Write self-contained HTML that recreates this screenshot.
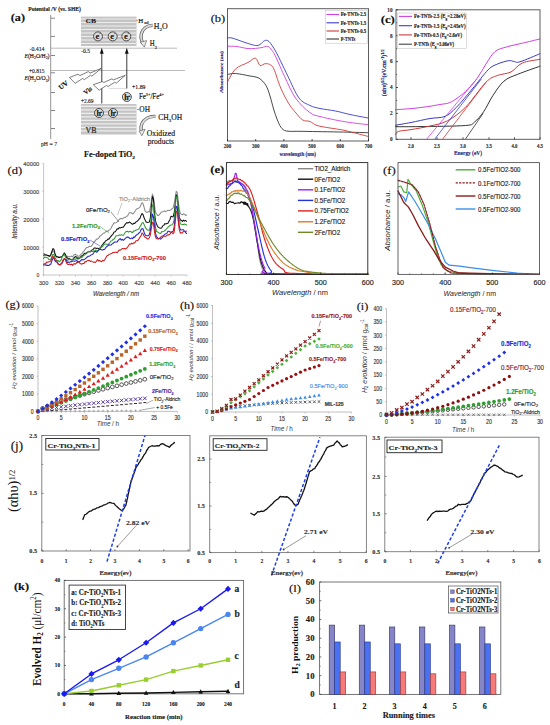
<!DOCTYPE html>
<html><head><meta charset="utf-8"><style>
html,body{margin:0;padding:0;background:#fff;width:550px;height:725px;overflow:hidden}
svg{display:block}
</style></head><body>
<svg width="550" height="725" viewBox="0 0 550 725">
<rect width="550" height="725" fill="#fff"/>
<text x="28.20" y="10.60" font-family='"Liberation Serif", serif' font-size="5.6" font-weight="bold" font-style="normal" fill="#222" stroke="#222" stroke-width="0.15" text-anchor="start"  textLength="52.8" lengthAdjust="spacingAndGlyphs">Potential /V (vs. SHE)</text>
<text x="10.80" y="21.10" font-family='"Liberation Serif", serif' font-size="11.3" font-weight="bold" font-style="normal" fill="#111" stroke="#111" stroke-width="0.15" text-anchor="start"  textLength="14.2" lengthAdjust="spacingAndGlyphs">(a)</text>
<line x1="50.70" y1="15.00" x2="50.70" y2="139.00" stroke="#777" stroke-width="0.8" />
<line x1="51.00" y1="18.20" x2="55.00" y2="18.20" stroke="#666" stroke-width="0.8" />
<line x1="51.00" y1="36.40" x2="55.00" y2="36.40" stroke="#666" stroke-width="0.8" />
<line x1="51.00" y1="55.50" x2="55.00" y2="55.50" stroke="#666" stroke-width="0.8" />
<line x1="51.00" y1="72.80" x2="55.00" y2="72.80" stroke="#666" stroke-width="0.8" />
<line x1="51.00" y1="92.50" x2="55.00" y2="92.50" stroke="#666" stroke-width="0.8" />
<line x1="51.00" y1="110.50" x2="55.00" y2="110.50" stroke="#666" stroke-width="0.8" />
<line x1="51.00" y1="128.50" x2="55.00" y2="128.50" stroke="#666" stroke-width="0.8" />
<line x1="51.00" y1="48.20" x2="177.00" y2="48.20" stroke="#aaa" stroke-width="0.8" />
<line x1="51.00" y1="70.50" x2="185.00" y2="70.50" stroke="#aaa" stroke-width="0.8" />
<line x1="108.80" y1="88.40" x2="127.00" y2="88.40" stroke="#ccc" stroke-width="0.7" />
<text x="29.50" y="50.80" font-family='"Liberation Serif", serif' font-size="6" font-weight="normal" font-style="normal" fill="#222" stroke="#222" stroke-width="0.15" text-anchor="start"  textLength="15" lengthAdjust="spacingAndGlyphs">-0.414</text>
<text x="24.5" y="57.9" font-family='"Liberation Serif", serif' font-size="6" fill="#111" stroke="#111" stroke-width="0.15" textLength="25" lengthAdjust="spacingAndGlyphs"><tspan font-style="italic">E</tspan>(H<tspan font-size="4" dy="1.5">2</tspan><tspan dy="-1.5">O/H</tspan><tspan font-size="4" dy="1.5">2</tspan><tspan dy="-1.5">)</tspan></text>
<text x="29.00" y="72.90" font-family='"Liberation Serif", serif' font-size="6" font-weight="normal" font-style="normal" fill="#222" stroke="#222" stroke-width="0.15" text-anchor="start"  textLength="15.5" lengthAdjust="spacingAndGlyphs">+0.815</text>
<text x="24.5" y="80" font-family='"Liberation Serif", serif' font-size="6" fill="#111" stroke="#111" stroke-width="0.15" textLength="25" lengthAdjust="spacingAndGlyphs"><tspan font-style="italic">E</tspan>(H<tspan font-size="4" dy="1.5">2</tspan><tspan dy="-1.5">O/O</tspan><tspan font-size="4" dy="1.5">2</tspan><tspan dy="-1.5">)</tspan></text>
<text x="41.00" y="145.50" font-family='"Liberation Serif", serif' font-size="5.2" font-weight="normal" font-style="normal" fill="#333" stroke="#333" stroke-width="0.15" text-anchor="start"  textLength="16" lengthAdjust="spacingAndGlyphs">pH = 7</text>
<rect x="81.00" y="16.60" width="55.50" height="29.50" fill="#c4c4c4" stroke="none" stroke-width="1" />
<line x1="81.00" y1="19.00" x2="136.50" y2="19.00" stroke="#ededed" stroke-width="1.2" />
<line x1="81.00" y1="22.50" x2="136.50" y2="22.50" stroke="#ededed" stroke-width="1.2" />
<line x1="81.00" y1="26.00" x2="136.50" y2="26.00" stroke="#ededed" stroke-width="1.2" />
<line x1="81.00" y1="29.50" x2="136.50" y2="29.50" stroke="#ededed" stroke-width="1.2" />
<line x1="81.00" y1="33.00" x2="136.50" y2="33.00" stroke="#ededed" stroke-width="1.2" />
<line x1="81.00" y1="36.50" x2="136.50" y2="36.50" stroke="#ededed" stroke-width="1.2" />
<line x1="81.00" y1="40.00" x2="136.50" y2="40.00" stroke="#ededed" stroke-width="1.2" />
<line x1="81.00" y1="43.50" x2="136.50" y2="43.50" stroke="#ededed" stroke-width="1.2" />
<rect x="81.00" y="104.00" width="55.50" height="30.50" fill="#c4c4c4" stroke="none" stroke-width="1" />
<line x1="81.00" y1="106.40" x2="136.50" y2="106.40" stroke="#ededed" stroke-width="1.2" />
<line x1="81.00" y1="109.90" x2="136.50" y2="109.90" stroke="#ededed" stroke-width="1.2" />
<line x1="81.00" y1="113.40" x2="136.50" y2="113.40" stroke="#ededed" stroke-width="1.2" />
<line x1="81.00" y1="116.90" x2="136.50" y2="116.90" stroke="#ededed" stroke-width="1.2" />
<line x1="81.00" y1="120.40" x2="136.50" y2="120.40" stroke="#ededed" stroke-width="1.2" />
<line x1="81.00" y1="123.90" x2="136.50" y2="123.90" stroke="#ededed" stroke-width="1.2" />
<line x1="81.00" y1="127.40" x2="136.50" y2="127.40" stroke="#ededed" stroke-width="1.2" />
<line x1="81.00" y1="130.90" x2="136.50" y2="130.90" stroke="#ededed" stroke-width="1.2" />
<text x="85.50" y="23.20" font-family='"Liberation Serif", serif' font-size="7" font-weight="bold" font-style="normal" fill="#222" stroke="#222" stroke-width="0.15" text-anchor="start"  textLength="10.5" lengthAdjust="spacingAndGlyphs">CB</text>
<text x="85.50" y="132.50" font-family='"Liberation Serif", serif' font-size="7.2" font-weight="normal" font-style="normal" fill="#222" stroke="#222" stroke-width="0.15" text-anchor="start"  textLength="11" lengthAdjust="spacingAndGlyphs">VB</text>
<circle cx="98.00" cy="36.40" r="4.5" fill="#dcdcdc" stroke="#222" stroke-width="0.75"/>
<text x="95.60" y="39.40" font-family='"Liberation Serif", serif' font-size="8.5" font-weight="bold" font-style="normal" fill="#111" stroke="#111" stroke-width="0.15" text-anchor="start" >e</text>
<line x1="99.40" y1="33.60" x2="100.60" y2="33.60" stroke="#111" stroke-width="0.5" />
<circle cx="112.70" cy="36.40" r="4.5" fill="#dcdcdc" stroke="#222" stroke-width="0.75"/>
<text x="110.30" y="39.40" font-family='"Liberation Serif", serif' font-size="8.5" font-weight="bold" font-style="normal" fill="#111" stroke="#111" stroke-width="0.15" text-anchor="start" >e</text>
<line x1="114.10" y1="33.60" x2="115.30" y2="33.60" stroke="#111" stroke-width="0.5" />
<circle cx="126.30" cy="36.40" r="4.5" fill="#dcdcdc" stroke="#222" stroke-width="0.75"/>
<text x="123.90" y="39.40" font-family='"Liberation Serif", serif' font-size="8.5" font-weight="bold" font-style="normal" fill="#111" stroke="#111" stroke-width="0.15" text-anchor="start" >e</text>
<line x1="127.70" y1="33.60" x2="128.90" y2="33.60" stroke="#111" stroke-width="0.5" />
<circle cx="99.00" cy="113.00" r="4.5" fill="#dcdcdc" stroke="#222" stroke-width="0.75"/>
<text x="96.40" y="115.90" font-family='"Liberation Serif", serif' font-size="8" font-weight="bold" font-style="normal" fill="#111" stroke="#111" stroke-width="0.15" text-anchor="start" >h</text>
<text x="100.10" y="112.50" font-family='"Liberation Serif", serif' font-size="4" font-weight="bold" font-style="normal" fill="#111" stroke="#111" stroke-width="0.15" text-anchor="start" >+</text>
<circle cx="113.00" cy="113.00" r="4.5" fill="#dcdcdc" stroke="#222" stroke-width="0.75"/>
<text x="110.40" y="115.90" font-family='"Liberation Serif", serif' font-size="8" font-weight="bold" font-style="normal" fill="#111" stroke="#111" stroke-width="0.15" text-anchor="start" >h</text>
<text x="114.10" y="112.50" font-family='"Liberation Serif", serif' font-size="4" font-weight="bold" font-style="normal" fill="#111" stroke="#111" stroke-width="0.15" text-anchor="start" >+</text>
<circle cx="126.90" cy="97.00" r="4.5" fill="#dcdcdc" stroke="#222" stroke-width="0.75"/>
<text x="124.30" y="99.90" font-family='"Liberation Serif", serif' font-size="8" font-weight="bold" font-style="normal" fill="#111" stroke="#111" stroke-width="0.15" text-anchor="start" >h</text>
<text x="128.00" y="96.50" font-family='"Liberation Serif", serif' font-size="4" font-weight="bold" font-style="normal" fill="#111" stroke="#111" stroke-width="0.15" text-anchor="start" >+</text>
<text x="81.00" y="52.80" font-family='"Liberation Serif", serif' font-size="5.6" font-weight="normal" font-style="normal" fill="#222" stroke="#222" stroke-width="0.15" text-anchor="start"  textLength="9" lengthAdjust="spacingAndGlyphs">-0.5</text>
<text x="81.00" y="103.30" font-family='"Liberation Serif", serif' font-size="5.6" font-weight="normal" font-style="normal" fill="#222" stroke="#222" stroke-width="0.15" text-anchor="start"  textLength="12.5" lengthAdjust="spacingAndGlyphs">+2.69</text>
<text x="132.00" y="88.80" font-family='"Liberation Serif", serif' font-size="5.6" font-weight="normal" font-style="normal" fill="#222" stroke="#222" stroke-width="0.15" text-anchor="start"  textLength="13.5" lengthAdjust="spacingAndGlyphs">+1.89</text>
<line x1="101.80" y1="52.00" x2="101.80" y2="103.50" stroke="#222" stroke-width="0.9" />
<path d="M99.9,53.8 L101.8,47.8 L103.7,53.8 Z" fill="#111"/>
<line x1="126.80" y1="52.00" x2="126.80" y2="88.40" stroke="#222" stroke-width="0.9" />
<path d="M124.9,53.8 L126.8,47.8 L128.7,53.8 Z" fill="#111"/>
<path d="M69.4,77.5 L78.1,74.2 L79.9,75.6 L88.3,71.6 L90.1,73.1 L101.4,68.2 L91.9,76.2 L90.5,75.3 L84.3,79.6 L82.5,78.5 L75.2,83.3 Z" fill="#fff" stroke="#444" stroke-width="0.7" stroke-linejoin="miter"/>
<path d="M93.3,84.7 L102.4,81.5 L103.8,82.5 L111.8,78.9 L113.3,79.9 L125.3,75.3 L116.2,83.3 L114.7,82.2 L108.2,86.5 L106.4,85.5 L99.1,90.2 Z" fill="#fff" stroke="#444" stroke-width="0.7" stroke-linejoin="miter"/>
<text x="60.80" y="90.00" font-family='"Liberation Serif", serif' font-size="7" font-weight="bold" font-style="normal" fill="#111" stroke="#111" stroke-width="0.15" text-anchor="start" transform="rotate(-38 60.80 90.00)" >UV</text>
<text x="85.60" y="95.00" font-family='"Liberation Serif", serif' font-size="6.6" font-weight="bold" font-style="normal" fill="#111" stroke="#111" stroke-width="0.15" text-anchor="start" transform="rotate(-38 85.60 95.00)" >Vis</text>
<text x="135.80" y="22.60" font-family='"Liberation Serif", serif' font-size="7" font-weight="normal" font-style="normal" fill="#111" stroke="#111" stroke-width="0.15" text-anchor="start" >·H</text>
<text x="144.30" y="23.80" font-family='"Liberation Serif", serif' font-size="4.6" font-weight="normal" font-style="normal" fill="#111" stroke="#111" stroke-width="0.15" text-anchor="start" >ad</text>
<text x="153.80" y="28.80" font-family='"Liberation Serif", serif' font-size="7.5" font-weight="normal" font-style="normal" fill="#111" stroke="#111" stroke-width="0.15" text-anchor="start"  textLength="14" lengthAdjust="spacingAndGlyphs"><tspan>H</tspan><tspan dy="2.25" font-size="5">2</tspan><tspan dy="-2.25">O</tspan></text>
<text x="149.70" y="46.40" font-family='"Liberation Serif", serif' font-size="7.5" font-weight="normal" font-style="normal" fill="#111" stroke="#111" stroke-width="0.15" text-anchor="start"  textLength="7.3" lengthAdjust="spacingAndGlyphs"><tspan>H</tspan><tspan dy="2.25" font-size="5">2</tspan></text>
<text x="138.90" y="99.30" font-family='"Liberation Serif", serif' font-size="7.4" font-weight="normal" font-style="normal" fill="#111" stroke="#111" stroke-width="0.15" text-anchor="start"  textLength="25" lengthAdjust="spacingAndGlyphs"><tspan>Fe</tspan><tspan dy="-2.89" font-size="4.6">3+</tspan><tspan dy="2.89">/Fe</tspan><tspan dy="-2.89" font-size="4.6">4+</tspan></text>
<text x="136.80" y="112.30" font-family='"Liberation Serif", serif' font-size="7.5" font-weight="normal" font-style="normal" fill="#111" stroke="#111" stroke-width="0.15" text-anchor="start"  textLength="13.2" lengthAdjust="spacingAndGlyphs">·OH</text>
<text x="158.20" y="119.50" font-family='"Liberation Serif", serif' font-size="7.5" font-weight="normal" font-style="normal" fill="#111" stroke="#111" stroke-width="0.15" text-anchor="start"  textLength="24" lengthAdjust="spacingAndGlyphs"><tspan>CH</tspan><tspan dy="2.25" font-size="5">3</tspan><tspan dy="-2.25">OH</tspan></text>
<text x="146.80" y="136.40" font-family='"Liberation Serif", serif' font-size="7.5" font-weight="normal" font-style="normal" fill="#111" stroke="#111" stroke-width="0.15" text-anchor="start"  textLength="28.2" lengthAdjust="spacingAndGlyphs">Oxidized</text>
<text x="147.70" y="143.60" font-family='"Liberation Serif", serif' font-size="7.5" font-weight="normal" font-style="normal" fill="#111" stroke="#111" stroke-width="0.15" text-anchor="start"  textLength="26.3" lengthAdjust="spacingAndGlyphs">products</text>
<text x="84.00" y="156.50" font-family='"Liberation Serif", serif' font-size="7.5" font-weight="bold" font-style="normal" fill="#111" stroke="#111" stroke-width="0.15" text-anchor="start"  textLength="51" lengthAdjust="spacingAndGlyphs"><tspan>Fe-doped TiO</tspan><tspan dy="2.25" font-size="5">2</tspan></text>
<path d="M152.5,25.3 C147,25.5 142.5,29 141.3,34 C140.5,38 141.5,41 143.2,43.5" fill="none" stroke="#555" stroke-width="3.2" stroke-linecap="butt"/>
<path d="M152.5,25.3 C147,25.5 142.5,29 141.3,34 C140.5,38 141.5,41 143.2,43.5" fill="none" stroke="#d8d8d8" stroke-width="1.9" stroke-linecap="butt"/>
<path d="M140.3,42.2 L146.6,40.6 L144.3,47.2 Z" fill="#e8e8e8" stroke="#555" stroke-width="0.6"/>
<path d="M155.5,116.5 C149.5,116 144,119 141.8,124 C140.6,127 140.8,130 142,132.5" fill="none" stroke="#555" stroke-width="3.2" stroke-linecap="butt"/>
<path d="M155.5,116.5 C149.5,116 144,119 141.8,124 C140.6,127 140.8,130 142,132.5" fill="none" stroke="#d8d8d8" stroke-width="1.9" stroke-linecap="butt"/>
<path d="M139,131.2 L145.2,129.2 L141.8,135.8 Z" fill="#e8e8e8" stroke="#555" stroke-width="0.6"/>
<text x="210.70" y="21.80" font-family='"Liberation Serif", serif' font-size="11" font-weight="normal" font-style="normal" fill="#111" stroke="#111" stroke-width="0.15" text-anchor="start"  textLength="14.5" lengthAdjust="spacingAndGlyphs">(b)</text>
<path d="M227.50,74.50 C228.83,74.33 231.75,73.25 235.50,73.50 C239.25,73.75 246.08,75.22 250.00,76.00 C253.92,76.78 256.33,76.62 259.00,78.20 C261.67,79.78 264.17,82.53 266.00,85.50 C267.83,88.47 268.73,92.08 270.00,96.00 C271.27,99.92 272.43,105.17 273.60,109.00 C274.77,112.83 275.77,115.95 277.00,119.00 C278.23,122.05 279.43,125.30 281.00,127.30 C282.57,129.30 283.23,130.33 286.40,131.00 C289.57,131.67 294.90,131.20 300.00,131.30 C305.10,131.40 310.33,131.48 317.00,131.60 C323.67,131.72 331.50,131.82 340.00,132.00 C348.50,132.18 363.33,132.58 368.00,132.70" fill="none" stroke="#333" stroke-width="0.9" stroke-linejoin="round" stroke-linecap="round"/>
<path d="M227.50,81.80 C228.83,79.67 232.08,72.22 235.50,69.00 C238.92,65.78 244.67,64.30 248.00,62.50 C251.33,60.70 253.50,57.70 255.50,58.20 C257.50,58.70 258.25,64.60 260.00,65.50 C261.75,66.40 263.83,63.30 266.00,63.60 C268.17,63.90 270.83,63.97 273.00,67.30 C275.17,70.63 277.17,78.98 279.00,83.60 C280.83,88.22 282.17,91.35 284.00,95.00 C285.83,98.65 288.00,102.50 290.00,105.50 C292.00,108.50 293.88,110.58 296.00,113.00 C298.12,115.42 300.37,118.58 302.70,120.00 C305.03,121.42 307.62,120.58 310.00,121.50 C312.38,122.42 313.67,124.42 317.00,125.50 C320.33,126.58 325.72,127.25 330.00,128.00 C334.28,128.75 338.53,129.17 342.70,130.00 C346.87,130.83 350.78,131.93 355.00,133.00 C359.22,134.07 365.83,135.83 368.00,136.40" fill="none" stroke="#d23a3a" stroke-width="0.9" stroke-linejoin="round" stroke-linecap="round"/>
<path d="M227.50,46.20 C229.08,46.25 233.75,46.12 237.00,46.50 C240.25,46.88 243.92,48.18 247.00,48.50 C250.08,48.82 253.00,48.57 255.50,48.40 C258.00,48.23 259.92,47.82 262.00,47.50 C264.08,47.18 266.07,45.63 268.00,46.50 C269.93,47.37 271.77,49.78 273.60,52.70 C275.43,55.62 277.18,60.05 279.00,64.00 C280.82,67.95 281.75,70.73 284.50,76.40 C287.25,82.07 291.25,91.95 295.50,98.00 C299.75,104.05 305.92,109.62 310.00,112.70 C314.08,115.78 315.75,115.28 320.00,116.50 C324.25,117.72 330.50,119.00 335.50,120.00 C340.50,121.00 344.58,121.72 350.00,122.50 C355.42,123.28 365.00,124.33 368.00,124.70" fill="none" stroke="#d040e0" stroke-width="0.9" stroke-linejoin="round" stroke-linecap="round"/>
<path d="M227.50,38.20 C228.25,38.17 229.08,37.28 232.00,38.00 C234.92,38.72 241.08,41.25 245.00,42.50 C248.92,43.75 253.00,45.17 255.50,45.50 C258.00,45.83 258.50,45.30 260.00,44.50 C261.50,43.70 263.00,41.20 264.50,40.70 C266.00,40.20 267.17,39.78 269.00,41.50 C270.83,43.22 273.33,47.25 275.50,51.00 C277.67,54.75 279.92,59.77 282.00,64.00 C284.08,68.23 285.17,70.73 288.00,76.40 C290.83,82.07 295.33,93.15 299.00,98.00 C302.67,102.85 306.50,103.75 310.00,105.50 C313.50,107.25 315.75,107.58 320.00,108.50 C324.25,109.42 330.50,110.00 335.50,111.00 C340.50,112.00 344.58,113.33 350.00,114.50 C355.42,115.67 365.00,117.42 368.00,118.00" fill="none" stroke="#3a3ac8" stroke-width="0.9" stroke-linejoin="round" stroke-linecap="round"/>
<rect x="227.50" y="8.70" width="141.00" height="132.30" fill="none" stroke="#555" stroke-width="0.95" />
<line x1="227.50" y1="141.00" x2="227.50" y2="139.00" stroke="#222" stroke-width="0.8" />
<text x="227.50" y="148.20" font-family='"Liberation Serif", serif' font-size="5.2" font-weight="bold" font-style="normal" fill="#333" stroke="#333" stroke-width="0.15" text-anchor="middle"  textLength="7.5" lengthAdjust="spacingAndGlyphs">200</text>
<line x1="255.70" y1="141.00" x2="255.70" y2="139.00" stroke="#222" stroke-width="0.8" />
<text x="255.70" y="148.20" font-family='"Liberation Serif", serif' font-size="5.2" font-weight="bold" font-style="normal" fill="#333" stroke="#333" stroke-width="0.15" text-anchor="middle"  textLength="7.5" lengthAdjust="spacingAndGlyphs">300</text>
<line x1="283.90" y1="141.00" x2="283.90" y2="139.00" stroke="#222" stroke-width="0.8" />
<text x="283.90" y="148.20" font-family='"Liberation Serif", serif' font-size="5.2" font-weight="bold" font-style="normal" fill="#333" stroke="#333" stroke-width="0.15" text-anchor="middle"  textLength="7.5" lengthAdjust="spacingAndGlyphs">400</text>
<line x1="312.10" y1="141.00" x2="312.10" y2="139.00" stroke="#222" stroke-width="0.8" />
<text x="312.10" y="148.20" font-family='"Liberation Serif", serif' font-size="5.2" font-weight="bold" font-style="normal" fill="#333" stroke="#333" stroke-width="0.15" text-anchor="middle"  textLength="7.5" lengthAdjust="spacingAndGlyphs">500</text>
<line x1="340.30" y1="141.00" x2="340.30" y2="139.00" stroke="#222" stroke-width="0.8" />
<text x="340.30" y="148.20" font-family='"Liberation Serif", serif' font-size="5.2" font-weight="bold" font-style="normal" fill="#333" stroke="#333" stroke-width="0.15" text-anchor="middle"  textLength="7.5" lengthAdjust="spacingAndGlyphs">600</text>
<line x1="368.50" y1="141.00" x2="368.50" y2="139.00" stroke="#222" stroke-width="0.8" />
<text x="368.50" y="148.20" font-family='"Liberation Serif", serif' font-size="5.2" font-weight="bold" font-style="normal" fill="#333" stroke="#333" stroke-width="0.15" text-anchor="middle"  textLength="7.5" lengthAdjust="spacingAndGlyphs">700</text>
<text x="279.60" y="155.80" font-family='"Liberation Serif", serif' font-size="5.6" font-weight="bold" font-style="normal" fill="#2b2b7a" stroke="#2b2b7a" stroke-width="0.15" text-anchor="start"  textLength="36.4" lengthAdjust="spacingAndGlyphs">wavelength (nm)</text>
<text x="223.20" y="93.00" font-family='"Liberation Serif", serif' font-size="5.0" font-weight="bold" font-style="normal" fill="#2b2b7a" stroke="#2b2b7a" stroke-width="0.15" text-anchor="start" transform="rotate(-90 223.20 93.00)"  textLength="42" lengthAdjust="spacingAndGlyphs">Absorbance (au)</text>
<rect x="325.50" y="10.50" width="41.70" height="32.70" fill="#fff" stroke="#bbb" stroke-width="0.5" />
<line x1="326.50" y1="14.50" x2="339.00" y2="14.50" stroke="#d040e0" stroke-width="1.1" />
<text x="340.70" y="16.40" font-family='"Liberation Serif", serif' font-size="5.2" font-weight="bold" font-style="normal" fill="#222" stroke="#222" stroke-width="0.15" text-anchor="start"  textLength="25.5" lengthAdjust="spacingAndGlyphs">Fe-TNTs-2.5</text>
<line x1="326.50" y1="22.80" x2="339.00" y2="22.80" stroke="#3a3ac8" stroke-width="1.1" />
<text x="340.70" y="24.70" font-family='"Liberation Serif", serif' font-size="5.2" font-weight="bold" font-style="normal" fill="#222" stroke="#222" stroke-width="0.15" text-anchor="start"  textLength="25.5" lengthAdjust="spacingAndGlyphs">Fe-TNTs-1.5</text>
<line x1="326.50" y1="31.00" x2="339.00" y2="31.00" stroke="#d23a3a" stroke-width="1.1" />
<text x="340.70" y="32.90" font-family='"Liberation Serif", serif' font-size="5.2" font-weight="bold" font-style="normal" fill="#222" stroke="#222" stroke-width="0.15" text-anchor="start"  textLength="25.5" lengthAdjust="spacingAndGlyphs">Fe-TNTs-0.5</text>
<line x1="326.50" y1="39.00" x2="339.00" y2="39.00" stroke="#333" stroke-width="1.1" />
<text x="340.70" y="40.90" font-family='"Liberation Serif", serif' font-size="5.2" font-weight="bold" font-style="normal" fill="#222" stroke="#222" stroke-width="0.15" text-anchor="start"  textLength="14.5" lengthAdjust="spacingAndGlyphs">P-TNTs</text>
<text x="380.70" y="22.60" font-family='"Liberation Serif", serif' font-size="11" font-weight="bold" font-style="normal" fill="#111" stroke="#111" stroke-width="0.15" text-anchor="start"  textLength="14.2" lengthAdjust="spacingAndGlyphs">(c)</text>
<path d="M395.50,126.70 C399.58,126.68 408.33,126.80 420.00,126.60 C431.67,126.40 456.42,126.27 465.50,125.50 C474.58,124.73 471.48,124.28 474.50,122.00 C477.52,119.72 480.57,116.15 483.60,111.80 C486.63,107.45 489.30,101.02 492.70,95.90 C496.10,90.78 499.83,84.70 504.00,81.10 C508.17,77.50 511.70,76.78 517.70,74.30 C523.70,71.82 536.28,67.55 540.00,66.20" fill="none" stroke="#333" stroke-width="1.0" stroke-linejoin="round" stroke-linecap="round"/>
<line x1="465.50" y1="139.00" x2="483.00" y2="113.50" stroke="#333" stroke-width="0.8" />
<path d="M395.50,134.50 C396.00,133.98 395.92,132.22 398.50,131.40 C401.08,130.58 405.75,130.50 411.00,129.60 C416.25,128.70 423.95,127.45 430.00,126.00 C436.05,124.55 441.38,124.02 447.30,120.90 C453.22,117.78 459.07,113.73 465.50,107.30 C471.93,100.87 480.60,87.60 485.90,82.30 C491.20,77.00 493.13,77.22 497.30,75.50 C501.47,73.78 506.73,74.08 510.90,72.00 C515.07,69.92 517.45,65.12 522.30,63.00 C527.15,60.88 537.05,59.92 540.00,59.30" fill="none" stroke="#d23a3a" stroke-width="1.0" stroke-linejoin="round" stroke-linecap="round"/>
<line x1="442.70" y1="139.00" x2="485.90" y2="82.30" stroke="#d23a3a" stroke-width="0.8" />
<path d="M395.50,125.20 C398.08,124.75 405.25,123.62 411.00,122.50 C416.75,121.38 424.33,119.52 430.00,118.50 C435.67,117.48 440.60,118.27 445.00,116.40 C449.40,114.53 451.85,111.87 456.40,107.30 C460.95,102.73 467.00,95.25 472.30,89.00 C477.60,82.75 484.03,73.95 488.20,69.80 C492.37,65.65 493.90,65.62 497.30,64.10 C500.70,62.58 505.82,61.13 508.60,60.70 C511.38,60.27 512.10,61.32 514.00,61.50 C515.90,61.68 515.67,63.10 520.00,61.80 C524.33,60.50 536.67,55.05 540.00,53.70" fill="none" stroke="#3a3ac8" stroke-width="1.0" stroke-linejoin="round" stroke-linecap="round"/>
<line x1="434.80" y1="139.00" x2="481.40" y2="78.90" stroke="#3a3ac8" stroke-width="0.8" />
<path d="M395.50,109.70 C398.08,109.52 405.85,109.08 411.00,108.60 C416.15,108.12 421.57,107.48 426.40,106.80 C431.23,106.12 436.15,105.18 440.00,104.50 C443.85,103.82 446.50,103.87 449.50,102.70 C452.50,101.53 455.33,99.38 458.00,97.50 C460.67,95.62 462.37,94.50 465.50,91.40 C468.63,88.30 473.40,83.45 476.80,78.90 C480.20,74.35 482.87,68.65 485.90,64.10 C488.93,59.55 491.58,54.45 495.00,51.60 C498.42,48.75 501.85,48.40 506.40,47.00 C510.95,45.60 516.70,44.53 522.30,43.20 C527.90,41.87 537.05,39.70 540.00,39.00" fill="none" stroke="#d040e0" stroke-width="1.0" stroke-linejoin="round" stroke-linecap="round"/>
<line x1="426.80" y1="139.00" x2="476.80" y2="78.90" stroke="#d040e0" stroke-width="0.8" />
<rect x="380.00" y="139.90" width="170.00" height="10.00" fill="#fff" stroke="none" stroke-width="1" />
<rect x="396.00" y="9.80" width="144.00" height="129.50" fill="none" stroke="#555" stroke-width="0.95" />
<line x1="396.00" y1="139.30" x2="398.00" y2="139.30" stroke="#222" stroke-width="0.8" />
<line x1="396.00" y1="126.35" x2="397.20" y2="126.35" stroke="#222" stroke-width="0.6" />
<text x="392.50" y="141.10" font-family='"Liberation Serif", serif' font-size="5.2" font-weight="bold" font-style="normal" fill="#333" stroke="#333" stroke-width="0.15" text-anchor="end" >0</text>
<line x1="396.00" y1="113.40" x2="398.00" y2="113.40" stroke="#222" stroke-width="0.8" />
<line x1="396.00" y1="100.45" x2="397.20" y2="100.45" stroke="#222" stroke-width="0.6" />
<text x="392.50" y="115.20" font-family='"Liberation Serif", serif' font-size="5.2" font-weight="bold" font-style="normal" fill="#333" stroke="#333" stroke-width="0.15" text-anchor="end" >2</text>
<line x1="396.00" y1="87.50" x2="398.00" y2="87.50" stroke="#222" stroke-width="0.8" />
<line x1="396.00" y1="74.55" x2="397.20" y2="74.55" stroke="#222" stroke-width="0.6" />
<text x="392.50" y="89.30" font-family='"Liberation Serif", serif' font-size="5.2" font-weight="bold" font-style="normal" fill="#333" stroke="#333" stroke-width="0.15" text-anchor="end" >4</text>
<line x1="396.00" y1="61.60" x2="398.00" y2="61.60" stroke="#222" stroke-width="0.8" />
<line x1="396.00" y1="48.65" x2="397.20" y2="48.65" stroke="#222" stroke-width="0.6" />
<text x="392.50" y="63.40" font-family='"Liberation Serif", serif' font-size="5.2" font-weight="bold" font-style="normal" fill="#333" stroke="#333" stroke-width="0.15" text-anchor="end" >6</text>
<line x1="396.00" y1="35.70" x2="398.00" y2="35.70" stroke="#222" stroke-width="0.8" />
<line x1="396.00" y1="22.75" x2="397.20" y2="22.75" stroke="#222" stroke-width="0.6" />
<text x="392.50" y="37.50" font-family='"Liberation Serif", serif' font-size="5.2" font-weight="bold" font-style="normal" fill="#333" stroke="#333" stroke-width="0.15" text-anchor="end" >8</text>
<line x1="396.00" y1="9.80" x2="398.00" y2="9.80" stroke="#222" stroke-width="0.8" />
<line x1="396.00" y1="-3.15" x2="397.20" y2="-3.15" stroke="#222" stroke-width="0.6" />
<text x="392.50" y="11.60" font-family='"Liberation Serif", serif' font-size="5.2" font-weight="bold" font-style="normal" fill="#333" stroke="#333" stroke-width="0.15" text-anchor="end" >10</text>
<line x1="411.00" y1="139.30" x2="411.00" y2="137.30" stroke="#222" stroke-width="0.8" />
<text x="411.00" y="148.00" font-family='"Liberation Serif", serif' font-size="5.2" font-weight="bold" font-style="normal" fill="#333" stroke="#333" stroke-width="0.15" text-anchor="middle"  textLength="6" lengthAdjust="spacingAndGlyphs">2.0</text>
<line x1="437.00" y1="139.30" x2="437.00" y2="137.30" stroke="#222" stroke-width="0.8" />
<text x="437.00" y="148.00" font-family='"Liberation Serif", serif' font-size="5.2" font-weight="bold" font-style="normal" fill="#333" stroke="#333" stroke-width="0.15" text-anchor="middle"  textLength="6" lengthAdjust="spacingAndGlyphs">2.5</text>
<line x1="463.00" y1="139.30" x2="463.00" y2="137.30" stroke="#222" stroke-width="0.8" />
<text x="463.00" y="148.00" font-family='"Liberation Serif", serif' font-size="5.2" font-weight="bold" font-style="normal" fill="#333" stroke="#333" stroke-width="0.15" text-anchor="middle"  textLength="6" lengthAdjust="spacingAndGlyphs">3.0</text>
<line x1="489.00" y1="139.30" x2="489.00" y2="137.30" stroke="#222" stroke-width="0.8" />
<text x="489.00" y="148.00" font-family='"Liberation Serif", serif' font-size="5.2" font-weight="bold" font-style="normal" fill="#333" stroke="#333" stroke-width="0.15" text-anchor="middle"  textLength="6" lengthAdjust="spacingAndGlyphs">3.5</text>
<line x1="514.50" y1="139.30" x2="514.50" y2="137.30" stroke="#222" stroke-width="0.8" />
<text x="514.50" y="148.00" font-family='"Liberation Serif", serif' font-size="5.2" font-weight="bold" font-style="normal" fill="#333" stroke="#333" stroke-width="0.15" text-anchor="middle"  textLength="6" lengthAdjust="spacingAndGlyphs">4.0</text>
<line x1="540.00" y1="139.30" x2="540.00" y2="137.30" stroke="#222" stroke-width="0.8" />
<text x="540.00" y="148.00" font-family='"Liberation Serif", serif' font-size="5.2" font-weight="bold" font-style="normal" fill="#333" stroke="#333" stroke-width="0.15" text-anchor="middle"  textLength="6" lengthAdjust="spacingAndGlyphs">4.5</text>
<text x="468.00" y="154.50" font-family='"Liberation Serif", serif' font-size="6" font-weight="bold" font-style="normal" fill="#2b2b7a" stroke="#2b2b7a" stroke-width="0.15" text-anchor="middle"  textLength="28" lengthAdjust="spacingAndGlyphs">Energy (eV)</text>
<text x="386.50" y="96.30" font-family='"Liberation Serif", serif' font-size="5.2" font-weight="bold" font-style="normal" fill="#2b2b7a" stroke="#2b2b7a" stroke-width="0.15" text-anchor="start" transform="rotate(-90 386.50 96.30)"  textLength="47" lengthAdjust="spacingAndGlyphs"><tspan>(αhν)</tspan><tspan dy="-2.03" font-size="3.64">1/2</tspan><tspan dy="2.03">(eV.cm</tspan><tspan dy="-2.03" font-size="3.64">-1</tspan><tspan dy="2.03">)</tspan><tspan dy="-2.03" font-size="3.64">1/2</tspan></text>
<rect x="397.70" y="13.00" width="69.00" height="35.30" fill="#fff" stroke="#bbb" stroke-width="0.5" />
<line x1="398.80" y1="16.40" x2="412.00" y2="16.40" stroke="#d040e0" stroke-width="1.1" />
<text x="414.00" y="18.30" font-family='"Liberation Serif", serif' font-size="5.2" font-weight="bold" font-style="normal" fill="#222" stroke="#222" stroke-width="0.15" text-anchor="start"  textLength="51.5" lengthAdjust="spacingAndGlyphs"><tspan>Fe-TNTs-2.5 (E</tspan><tspan dy="1.56" font-size="3.64">g</tspan><tspan dy="-1.56">=2.28eV)</tspan></text>
<line x1="398.80" y1="25.70" x2="412.00" y2="25.70" stroke="#3a3ac8" stroke-width="1.1" />
<text x="414.00" y="27.60" font-family='"Liberation Serif", serif' font-size="5.2" font-weight="bold" font-style="normal" fill="#222" stroke="#222" stroke-width="0.15" text-anchor="start"  textLength="51.5" lengthAdjust="spacingAndGlyphs"><tspan>Fe-TNTs-1.5 (E</tspan><tspan dy="1.56" font-size="3.64">g</tspan><tspan dy="-1.56">=2.45eV)</tspan></text>
<line x1="398.80" y1="34.90" x2="412.00" y2="34.90" stroke="#d23a3a" stroke-width="1.1" />
<text x="414.00" y="36.80" font-family='"Liberation Serif", serif' font-size="5.2" font-weight="bold" font-style="normal" fill="#222" stroke="#222" stroke-width="0.15" text-anchor="start"  textLength="48" lengthAdjust="spacingAndGlyphs"><tspan>Fe-TNTs-0.5 (E</tspan><tspan dy="1.56" font-size="3.64">g</tspan><tspan dy="-1.56">=2.6eV)</tspan></text>
<line x1="398.80" y1="44.20" x2="412.00" y2="44.20" stroke="#444" stroke-width="1.1" />
<text x="414.00" y="46.10" font-family='"Liberation Serif", serif' font-size="5.2" font-weight="bold" font-style="normal" fill="#222" stroke="#222" stroke-width="0.15" text-anchor="start"  textLength="40" lengthAdjust="spacingAndGlyphs"><tspan>P-TNTs (E</tspan><tspan dy="1.56" font-size="3.64">g</tspan><tspan dy="-1.56">=3.06eV)</tspan></text>
<text x="7.60" y="174.40" font-family='"Liberation Serif", serif' font-size="11" font-weight="normal" font-style="normal" fill="#111" stroke="#111" stroke-width="0.15" text-anchor="start"  textLength="14.6" lengthAdjust="spacingAndGlyphs">(d)</text>
<line x1="43.60" y1="163.50" x2="43.60" y2="275.00" stroke="#b5b5b5" stroke-width="0.8" />
<line x1="43.60" y1="275.00" x2="187.00" y2="275.00" stroke="#b5b5b5" stroke-width="0.8" />
<line x1="42.10" y1="275.00" x2="43.60" y2="275.00" stroke="#b5b5b5" stroke-width="0.7" />
<text x="39.30" y="277.40" font-family='"Liberation Sans", sans-serif' font-size="6.2" font-weight="normal" font-style="normal" fill="#444" stroke="#444" stroke-width="0.15" text-anchor="end"  textLength="2.8" lengthAdjust="spacingAndGlyphs">0</text>
<line x1="42.10" y1="247.10" x2="43.60" y2="247.10" stroke="#b5b5b5" stroke-width="0.7" />
<text x="39.30" y="249.50" font-family='"Liberation Sans", sans-serif' font-size="6.2" font-weight="normal" font-style="normal" fill="#444" stroke="#444" stroke-width="0.15" text-anchor="end"  textLength="16" lengthAdjust="spacingAndGlyphs">10000</text>
<line x1="42.10" y1="219.20" x2="43.60" y2="219.20" stroke="#b5b5b5" stroke-width="0.7" />
<text x="39.30" y="221.60" font-family='"Liberation Sans", sans-serif' font-size="6.2" font-weight="normal" font-style="normal" fill="#444" stroke="#444" stroke-width="0.15" text-anchor="end"  textLength="16" lengthAdjust="spacingAndGlyphs">20000</text>
<line x1="42.10" y1="191.30" x2="43.60" y2="191.30" stroke="#b5b5b5" stroke-width="0.7" />
<text x="39.30" y="193.70" font-family='"Liberation Sans", sans-serif' font-size="6.2" font-weight="normal" font-style="normal" fill="#444" stroke="#444" stroke-width="0.15" text-anchor="end"  textLength="16" lengthAdjust="spacingAndGlyphs">30000</text>
<line x1="42.10" y1="163.40" x2="43.60" y2="163.40" stroke="#b5b5b5" stroke-width="0.7" />
<text x="39.30" y="165.80" font-family='"Liberation Sans", sans-serif' font-size="6.2" font-weight="normal" font-style="normal" fill="#444" stroke="#444" stroke-width="0.15" text-anchor="end"  textLength="16" lengthAdjust="spacingAndGlyphs">40000</text>
<line x1="43.60" y1="275.00" x2="43.60" y2="276.50" stroke="#b5b5b5" stroke-width="0.7" />
<text x="43.60" y="284.80" font-family='"Liberation Sans", sans-serif' font-size="6.2" font-weight="normal" font-style="normal" fill="#444" stroke="#444" stroke-width="0.15" text-anchor="middle"  textLength="9.4" lengthAdjust="spacingAndGlyphs">300</text>
<line x1="59.54" y1="275.00" x2="59.54" y2="276.50" stroke="#b5b5b5" stroke-width="0.7" />
<text x="59.54" y="284.80" font-family='"Liberation Sans", sans-serif' font-size="6.2" font-weight="normal" font-style="normal" fill="#444" stroke="#444" stroke-width="0.15" text-anchor="middle"  textLength="9.4" lengthAdjust="spacingAndGlyphs">320</text>
<line x1="75.48" y1="275.00" x2="75.48" y2="276.50" stroke="#b5b5b5" stroke-width="0.7" />
<text x="75.48" y="284.80" font-family='"Liberation Sans", sans-serif' font-size="6.2" font-weight="normal" font-style="normal" fill="#444" stroke="#444" stroke-width="0.15" text-anchor="middle"  textLength="9.4" lengthAdjust="spacingAndGlyphs">340</text>
<line x1="91.42" y1="275.00" x2="91.42" y2="276.50" stroke="#b5b5b5" stroke-width="0.7" />
<text x="91.42" y="284.80" font-family='"Liberation Sans", sans-serif' font-size="6.2" font-weight="normal" font-style="normal" fill="#444" stroke="#444" stroke-width="0.15" text-anchor="middle"  textLength="9.4" lengthAdjust="spacingAndGlyphs">360</text>
<line x1="107.36" y1="275.00" x2="107.36" y2="276.50" stroke="#b5b5b5" stroke-width="0.7" />
<text x="107.36" y="284.80" font-family='"Liberation Sans", sans-serif' font-size="6.2" font-weight="normal" font-style="normal" fill="#444" stroke="#444" stroke-width="0.15" text-anchor="middle"  textLength="9.4" lengthAdjust="spacingAndGlyphs">380</text>
<line x1="123.30" y1="275.00" x2="123.30" y2="276.50" stroke="#b5b5b5" stroke-width="0.7" />
<text x="123.30" y="284.80" font-family='"Liberation Sans", sans-serif' font-size="6.2" font-weight="normal" font-style="normal" fill="#444" stroke="#444" stroke-width="0.15" text-anchor="middle"  textLength="9.4" lengthAdjust="spacingAndGlyphs">400</text>
<line x1="139.24" y1="275.00" x2="139.24" y2="276.50" stroke="#b5b5b5" stroke-width="0.7" />
<text x="139.24" y="284.80" font-family='"Liberation Sans", sans-serif' font-size="6.2" font-weight="normal" font-style="normal" fill="#444" stroke="#444" stroke-width="0.15" text-anchor="middle"  textLength="9.4" lengthAdjust="spacingAndGlyphs">420</text>
<line x1="155.18" y1="275.00" x2="155.18" y2="276.50" stroke="#b5b5b5" stroke-width="0.7" />
<text x="155.18" y="284.80" font-family='"Liberation Sans", sans-serif' font-size="6.2" font-weight="normal" font-style="normal" fill="#444" stroke="#444" stroke-width="0.15" text-anchor="middle"  textLength="9.4" lengthAdjust="spacingAndGlyphs">440</text>
<line x1="171.12" y1="275.00" x2="171.12" y2="276.50" stroke="#b5b5b5" stroke-width="0.7" />
<text x="171.12" y="284.80" font-family='"Liberation Sans", sans-serif' font-size="6.2" font-weight="normal" font-style="normal" fill="#444" stroke="#444" stroke-width="0.15" text-anchor="middle"  textLength="9.4" lengthAdjust="spacingAndGlyphs">460</text>
<line x1="187.06" y1="275.00" x2="187.06" y2="276.50" stroke="#b5b5b5" stroke-width="0.7" />
<text x="187.06" y="284.80" font-family='"Liberation Sans", sans-serif' font-size="6.2" font-weight="normal" font-style="normal" fill="#444" stroke="#444" stroke-width="0.15" text-anchor="middle"  textLength="9.4" lengthAdjust="spacingAndGlyphs">480</text>
<text x="93.00" y="296.00" font-family='"Liberation Sans", sans-serif' font-size="6.6" font-weight="normal" font-style="italic" fill="#444" stroke="#444" stroke-width="0.15" text-anchor="start"  textLength="46" lengthAdjust="spacingAndGlyphs">Wavelength / nm</text>
<text x="16.70" y="221.00" font-family='"Liberation Sans", sans-serif' font-size="6.4" font-weight="normal" font-style="italic" fill="#444" stroke="#444" stroke-width="0.15" text-anchor="middle" transform="rotate(-90 16.70 221.00)"  textLength="35.5" lengthAdjust="spacingAndGlyphs">Intensity a.u.</text>
<path d="M43.60,253.59 L44.64,253.82 L45.67,254.77 L46.71,255.21 L47.74,255.48 L48.78,256.70 L49.82,256.26 L50.85,255.25 L51.89,252.82 L52.92,250.53 L53.96,251.77 L55.00,254.69 L56.03,256.35 L57.07,257.68 L58.11,257.60 L59.14,257.08 L60.18,257.37 L61.21,257.29 L62.25,256.65 L63.29,254.73 L64.32,252.60 L65.36,254.37 L66.39,256.46 L67.43,256.19 L68.47,256.84 L69.50,256.74 L70.54,256.25 L71.57,256.23 L72.61,256.75 L73.65,255.28 L74.68,254.46 L75.72,254.34 L76.76,255.12 L77.79,255.99 L78.83,256.30 L79.86,255.57 L80.90,254.37 L81.94,253.64 L82.97,252.12 L84.01,250.97 L85.04,249.61 L86.08,248.04 L87.12,247.43 L88.15,247.33 L89.19,246.30 L90.22,246.50 L91.26,246.14 L92.30,244.84 L93.33,243.02 L94.37,241.55 L95.41,240.75 L96.44,239.13 L97.48,239.16 L98.51,238.43 L99.55,236.46 L100.59,235.74 L101.62,234.91 L102.66,233.86 L103.69,233.10 L104.73,233.05 L105.77,231.65 L106.80,230.90 L107.84,231.49 L108.87,230.13 L109.91,229.73 L110.95,228.49 L111.98,226.30 L113.02,224.44 L114.05,222.66 L115.09,223.13 L116.13,222.60 L117.16,222.04 L118.20,220.58 L119.24,219.30 L120.27,218.78 L121.31,218.35 L122.34,218.93 L123.38,218.11 L124.42,217.39 L125.45,217.49 L126.49,216.24 L127.52,216.10 L128.56,213.99 L129.60,212.55 L130.63,212.65 L131.67,212.92 L132.70,214.03 L133.74,213.21 L134.78,211.51 L135.81,209.95 L136.85,208.95 L137.89,208.45 L138.92,207.94 L139.96,207.08 L140.99,204.70 L142.03,202.63 L143.07,203.79 L144.10,207.27 L145.14,211.06 L146.17,211.93 L147.21,212.42 L148.25,211.55 L149.28,211.94 L150.32,207.56 L151.35,201.25 L152.39,194.13 L153.43,196.94 L154.46,204.80 L155.50,212.62 L156.53,213.71 L157.57,215.39 L158.61,215.46 L159.64,214.51 L160.68,212.90 L161.72,211.97 L162.75,211.81 L163.79,211.24 L164.82,210.93 L165.86,211.61 L166.90,210.93 L167.93,210.26 L168.97,210.59 L170.00,210.42 L171.04,209.55 L172.08,208.78 L173.11,207.75 L174.15,203.81 L175.18,197.60 L176.22,191.36 L177.26,192.46 L178.29,201.40 L179.33,209.67 L180.37,213.32 L181.40,214.50 L182.44,214.80 L183.47,213.78 L184.51,214.14 L185.55,215.35 L186.58,215.13" fill="none" stroke="#8a8a8a" stroke-width="1.05" stroke-linejoin="round" stroke-linecap="round"/>
<path d="M43.60,255.15 L44.64,254.76 L45.67,255.00 L46.71,255.07 L47.74,255.55 L48.78,255.57 L49.82,256.26 L50.85,254.50 L51.89,251.49 L52.92,248.59 L53.96,249.25 L55.00,253.60 L56.03,256.30 L57.07,256.67 L58.11,256.84 L59.14,257.62 L60.18,257.08 L61.21,256.92 L62.25,256.55 L63.29,254.50 L64.32,253.34 L65.36,254.31 L66.39,257.27 L67.43,257.96 L68.47,259.11 L69.50,258.53 L70.54,259.54 L71.57,260.09 L72.61,259.70 L73.65,258.14 L74.68,257.25 L75.72,256.36 L76.76,257.55 L77.79,258.96 L78.83,258.84 L79.86,257.88 L80.90,256.63 L81.94,255.70 L82.97,255.33 L84.01,253.76 L85.04,253.16 L86.08,253.60 L87.12,252.31 L88.15,251.90 L89.19,251.37 L90.22,251.86 L91.26,250.46 L92.30,249.88 L93.33,249.27 L94.37,247.94 L95.41,248.06 L96.44,248.55 L97.48,248.11 L98.51,248.66 L99.55,248.12 L100.59,247.65 L101.62,245.75 L102.66,244.71 L103.69,242.92 L104.73,242.30 L105.77,240.79 L106.80,240.46 L107.84,238.98 L108.87,239.11 L109.91,237.59 L110.95,236.44 L111.98,235.10 L113.02,234.07 L114.05,232.05 L115.09,231.84 L116.13,230.49 L117.16,228.88 L118.20,229.08 L119.24,227.63 L120.27,228.02 L121.31,227.41 L122.34,227.15 L123.38,227.22 L124.42,225.52 L125.45,224.12 L126.49,222.79 L127.52,222.89 L128.56,222.73 L129.60,222.03 L130.63,222.90 L131.67,223.83 L132.70,224.30 L133.74,223.28 L134.78,223.40 L135.81,222.00 L136.85,221.46 L137.89,220.70 L138.92,219.24 L139.96,218.43 L140.99,215.38 L142.03,213.45 L143.07,214.64 L144.10,217.76 L145.14,220.07 L146.17,221.94 L147.21,222.49 L148.25,222.31 L149.28,222.10 L150.32,218.04 L151.35,207.14 L152.39,196.52 L153.43,198.91 L154.46,212.04 L155.50,221.18 L156.53,224.02 L157.57,226.35 L158.61,227.32 L159.64,227.98 L160.68,228.17 L161.72,227.77 L162.75,225.86 L163.79,225.39 L164.82,223.62 L165.86,224.01 L166.90,223.51 L167.93,223.20 L168.97,221.21 L170.00,219.42 L171.04,216.19 L172.08,216.66 L173.11,216.74 L174.15,213.19 L175.18,204.65 L176.22,194.88 L177.26,196.73 L178.29,207.63 L179.33,217.26 L180.37,219.95 L181.40,220.32 L182.44,221.44 L183.47,220.15 L184.51,221.04 L185.55,220.42 L186.58,221.28" fill="none" stroke="#111111" stroke-width="1.05" stroke-linejoin="round" stroke-linecap="round"/>
<path d="M43.60,258.36 L44.64,257.13 L45.67,257.24 L46.71,257.38 L47.74,257.99 L48.78,259.53 L49.82,259.86 L50.85,259.39 L51.89,256.53 L52.92,254.34 L53.96,254.71 L55.00,257.41 L56.03,259.65 L57.07,261.01 L58.11,260.36 L59.14,261.78 L60.18,261.05 L61.21,259.80 L62.25,256.69 L63.29,255.35 L64.32,254.25 L65.36,256.69 L66.39,259.02 L67.43,260.43 L68.47,259.73 L69.50,259.09 L70.54,259.32 L71.57,259.58 L72.61,259.79 L73.65,259.12 L74.68,259.03 L75.72,259.57 L76.76,258.01 L77.79,257.13 L78.83,257.85 L79.86,258.10 L80.90,257.28 L81.94,257.47 L82.97,255.99 L84.01,255.30 L85.04,254.61 L86.08,253.61 L87.12,253.04 L88.15,251.39 L89.19,252.06 L90.22,251.59 L91.26,251.10 L92.30,251.62 L93.33,251.03 L94.37,251.15 L95.41,249.98 L96.44,250.54 L97.48,250.78 L98.51,249.92 L99.55,249.57 L100.59,247.89 L101.62,247.06 L102.66,246.46 L103.69,244.79 L104.73,244.01 L105.77,244.01 L106.80,244.25 L107.84,244.42 L108.87,243.59 L109.91,242.53 L110.95,241.02 L111.98,240.70 L113.02,239.34 L114.05,239.32 L115.09,237.39 L116.13,235.80 L117.16,235.74 L118.20,235.49 L119.24,235.05 L120.27,235.15 L121.31,234.84 L122.34,235.30 L123.38,235.31 L124.42,233.73 L125.45,232.03 L126.49,231.59 L127.52,231.26 L128.56,232.15 L129.60,231.29 L130.63,231.47 L131.67,232.38 L132.70,232.37 L133.74,230.89 L134.78,230.91 L135.81,230.30 L136.85,229.85 L137.89,229.46 L138.92,228.98 L139.96,226.73 L140.99,225.16 L142.03,223.05 L143.07,222.51 L144.10,224.43 L145.14,227.14 L146.17,228.59 L147.21,230.06 L148.25,230.09 L149.28,230.49 L150.32,226.28 L151.35,215.42 L152.39,204.69 L153.43,206.13 L154.46,217.71 L155.50,226.89 L156.53,231.55 L157.57,231.90 L158.61,232.68 L159.64,233.19 L160.68,233.49 L161.72,231.52 L162.75,231.78 L163.79,231.51 L164.82,230.44 L165.86,229.78 L166.90,228.48 L167.93,227.25 L168.97,226.29 L170.00,225.48 L171.04,224.96 L172.08,224.71 L173.11,223.42 L174.15,219.85 L175.18,207.99 L176.22,196.56 L177.26,196.87 L178.29,209.08 L179.33,219.59 L180.37,223.87 L181.40,224.36 L182.44,224.61 L183.47,224.46 L184.51,224.05 L185.55,224.72 L186.58,224.88" fill="none" stroke="#2f9a2f" stroke-width="1.05" stroke-linejoin="round" stroke-linecap="round"/>
<path d="M43.60,265.00 L44.64,265.03 L45.67,264.79 L46.71,265.38 L47.74,265.22 L48.78,265.59 L49.82,264.72 L50.85,264.04 L51.89,260.72 L52.92,258.51 L53.96,257.77 L55.00,260.82 L56.03,261.86 L57.07,261.99 L58.11,263.53 L59.14,264.67 L60.18,264.52 L61.21,263.75 L62.25,263.00 L63.29,260.52 L64.32,258.70 L65.36,259.44 L66.39,260.50 L67.43,262.61 L68.47,262.03 L69.50,262.17 L70.54,261.71 L71.57,261.79 L72.61,261.08 L73.65,261.08 L74.68,261.30 L75.72,260.88 L76.76,260.46 L77.79,261.60 L78.83,261.49 L79.86,261.37 L80.90,260.53 L81.94,259.36 L82.97,260.07 L84.01,259.59 L85.04,258.95 L86.08,258.17 L87.12,257.07 L88.15,256.26 L89.19,256.28 L90.22,255.66 L91.26,254.82 L92.30,254.44 L93.33,253.55 L94.37,251.80 L95.41,251.17 L96.44,252.20 L97.48,251.68 L98.51,250.18 L99.55,249.46 L100.59,249.36 L101.62,249.87 L102.66,249.99 L103.69,249.59 L104.73,249.21 L105.77,247.53 L106.80,246.48 L107.84,245.80 L108.87,244.68 L109.91,245.24 L110.95,245.06 L111.98,243.99 L113.02,243.46 L114.05,242.32 L115.09,242.03 L116.13,242.09 L117.16,241.91 L118.20,240.31 L119.24,239.31 L120.27,238.66 L121.31,240.12 L122.34,239.36 L123.38,240.28 L124.42,239.44 L125.45,238.27 L126.49,237.29 L127.52,237.05 L128.56,237.20 L129.60,238.39 L130.63,238.68 L131.67,238.01 L132.70,238.67 L133.74,236.87 L134.78,237.34 L135.81,235.43 L136.85,234.79 L137.89,234.13 L138.92,232.96 L139.96,232.34 L140.99,229.86 L142.03,228.50 L143.07,229.02 L144.10,232.21 L145.14,234.87 L146.17,235.82 L147.21,235.82 L148.25,235.66 L149.28,234.63 L150.32,231.25 L151.35,223.87 L152.39,214.12 L153.43,216.58 L154.46,225.37 L155.50,233.44 L156.53,236.46 L157.57,238.04 L158.61,238.64 L159.64,238.44 L160.68,239.14 L161.72,238.01 L162.75,237.01 L163.79,235.34 L164.82,234.35 L165.86,233.78 L166.90,233.14 L167.93,231.27 L168.97,231.21 L170.00,232.07 L171.04,232.14 L172.08,231.65 L173.11,231.29 L174.15,227.04 L175.18,217.52 L176.22,206.27 L177.26,207.25 L178.29,218.21 L179.33,226.74 L180.37,229.76 L181.40,230.02 L182.44,229.67 L183.47,229.71 L184.51,231.24 L185.55,232.48 L186.58,233.54" fill="none" stroke="#2020d0" stroke-width="1.05" stroke-linejoin="round" stroke-linecap="round"/>
<path d="M43.60,264.15 L44.64,263.69 L45.67,263.58 L46.71,262.13 L47.74,262.15 L48.78,261.81 L49.82,261.73 L50.85,260.49 L51.89,258.29 L52.92,256.15 L53.96,257.33 L55.00,260.06 L56.03,260.79 L57.07,261.96 L58.11,264.17 L59.14,264.58 L60.18,265.11 L61.21,263.93 L62.25,262.02 L63.29,259.51 L64.32,258.53 L65.36,259.98 L66.39,262.59 L67.43,264.14 L68.47,264.52 L69.50,263.93 L70.54,264.80 L71.57,264.13 L72.61,265.43 L73.65,263.87 L74.68,263.82 L75.72,264.10 L76.76,262.36 L77.79,262.39 L78.83,261.91 L79.86,263.24 L80.90,263.88 L81.94,264.15 L82.97,263.40 L84.01,263.36 L85.04,261.60 L86.08,261.90 L87.12,260.74 L88.15,260.57 L89.19,260.45 L90.22,261.44 L91.26,260.88 L92.30,261.63 L93.33,262.20 L94.37,262.09 L95.41,262.49 L96.44,261.26 L97.48,259.49 L98.51,260.92 L99.55,260.53 L100.59,261.24 L101.62,261.74 L102.66,260.25 L103.69,260.85 L104.73,259.87 L105.77,257.95 L106.80,255.93 L107.84,255.53 L108.87,254.56 L109.91,254.11 L110.95,253.83 L111.98,253.22 L113.02,252.56 L114.05,252.51 L115.09,252.26 L116.13,252.34 L117.16,252.62 L118.20,251.36 L119.24,249.92 L120.27,250.19 L121.31,249.29 L122.34,248.61 L123.38,248.83 L124.42,248.59 L125.45,249.09 L126.49,248.28 L127.52,247.27 L128.56,245.80 L129.60,243.94 L130.63,244.25 L131.67,243.14 L132.70,243.95 L133.74,242.81 L134.78,242.87 L135.81,240.89 L136.85,240.78 L137.89,240.28 L138.92,239.15 L139.96,237.12 L140.99,235.87 L142.03,232.96 L143.07,233.99 L144.10,236.16 L145.14,237.44 L146.17,237.72 L147.21,238.89 L148.25,238.88 L149.28,237.92 L150.32,235.06 L151.35,228.50 L152.39,222.36 L153.43,223.25 L154.46,231.33 L155.50,237.15 L156.53,238.60 L157.57,238.91 L158.61,238.67 L159.64,238.18 L160.68,237.07 L161.72,236.00 L162.75,236.03 L163.79,235.78 L164.82,236.40 L165.86,236.24 L166.90,235.39 L167.93,234.73 L168.97,234.87 L170.00,234.21 L171.04,232.35 L172.08,232.66 L173.11,233.78 L174.15,232.12 L175.18,222.64 L176.22,211.70 L177.26,211.12 L178.29,221.58 L179.33,229.60 L180.37,233.14 L181.40,232.84 L182.44,233.07 L183.47,231.29 L184.51,231.45 L185.55,231.52 L186.58,230.99" fill="none" stroke="#d01a1a" stroke-width="1.05" stroke-linejoin="round" stroke-linecap="round"/>
<text x="119.00" y="200.50" font-family='"Liberation Sans", sans-serif' font-size="6" font-weight="normal" font-style="normal" fill="#8a8a8a" stroke="#8a8a8a" stroke-width="0.15" text-anchor="start"  textLength="31" lengthAdjust="spacingAndGlyphs"><tspan>TiO</tspan><tspan dy="1.80" font-size="4.2">2</tspan><tspan dy="-1.80">-Aldrich</tspan></text>
<text x="86.00" y="211.50" font-family='"Liberation Sans", sans-serif' font-size="6" font-weight="normal" font-style="normal" fill="#111" stroke="#111" stroke-width="0.15" text-anchor="start"  textLength="24" lengthAdjust="spacingAndGlyphs"><tspan>0Fe/TiO</tspan><tspan dy="1.80" font-size="4.2">2</tspan></text>
<text x="72.00" y="227.50" font-family='"Liberation Sans", sans-serif' font-size="6" font-weight="bold" font-style="normal" fill="#2f9a2f" stroke="#2f9a2f" stroke-width="0.15" text-anchor="start"  textLength="28" lengthAdjust="spacingAndGlyphs"><tspan>1.2Fe/TiO</tspan><tspan dy="1.80" font-size="4.2">2</tspan></text>
<text x="61.00" y="241.00" font-family='"Liberation Sans", sans-serif' font-size="6" font-weight="bold" font-style="normal" fill="#2020d0" stroke="#2020d0" stroke-width="0.15" text-anchor="start"  textLength="28.5" lengthAdjust="spacingAndGlyphs"><tspan>0.5Fe/TiO</tspan><tspan dy="1.80" font-size="4.2">2</tspan></text>
<text x="123.00" y="259.50" font-family='"Liberation Sans", sans-serif' font-size="6" font-weight="bold" font-style="normal" fill="#d01a1a" stroke="#d01a1a" stroke-width="0.15" text-anchor="start"  textLength="43" lengthAdjust="spacingAndGlyphs"><tspan>0.15Fe/TiO</tspan><tspan dy="1.80" font-size="4.2">2</tspan><tspan dy="-1.80">-700</tspan></text>
<line x1="122.00" y1="203.00" x2="117.50" y2="215.00" stroke="#888" stroke-width="0.5" />
<line x1="111.00" y1="212.00" x2="119.00" y2="222.00" stroke="#333" stroke-width="0.5" />
<line x1="100.00" y1="226.50" x2="109.00" y2="233.00" stroke="#2f9a2f" stroke-width="0.5" />
<line x1="90.00" y1="240.00" x2="100.00" y2="246.00" stroke="#2020d0" stroke-width="0.5" />
<text x="210.20" y="173.20" font-family='"Liberation Serif", serif' font-size="11" font-weight="bold" font-style="normal" fill="#111" stroke="#111" stroke-width="0.15" text-anchor="start"  textLength="14.2" lengthAdjust="spacingAndGlyphs">(e)</text>
<path d="M226.40,181.41 L226.75,181.57 L227.17,182.16 L227.65,181.24 L228.20,181.21 L228.79,181.24 L229.42,180.40 L230.09,180.88 L230.78,181.00 L231.49,181.22 L232.20,179.93 L232.92,180.31 L233.63,179.98 L234.33,181.38 L235.00,181.35 L235.67,180.39 L236.37,182.33 L237.09,182.57 L237.83,182.31 L238.58,182.57 L239.33,182.11 L240.07,182.26 L240.82,183.64 L241.55,183.28 L242.26,184.06 L242.94,184.74 L243.60,185.00 L244.22,186.48 L244.80,187.19 L245.34,188.72 L245.85,188.99 L246.32,190.10 L246.77,190.79 L247.20,192.06 L247.61,192.73 L248.00,193.89 L248.38,195.02 L248.75,196.21 L249.12,197.45 L249.48,198.75 L249.85,200.11 L250.22,201.52 L250.60,203.00 L250.98,204.55 L251.36,206.19 L251.74,207.90 L252.11,209.69 L252.48,211.53 L252.85,213.43 L253.21,215.37 L253.56,217.35 L253.91,219.35 L254.26,221.37 L254.60,223.41 L254.94,225.45 L255.27,227.48 L255.60,229.50 L255.92,231.57 L256.23,233.74 L256.54,235.99 L256.83,238.30 L257.13,240.64 L257.41,242.99 L257.70,245.32 L257.98,247.62 L258.27,249.86 L258.55,252.01 L258.83,254.05 L259.12,255.96 L259.41,257.72 L259.70,259.30 L259.99,260.71 L260.28,262.00 L260.56,263.16 L260.84,264.22 L261.11,265.17 L261.39,266.04 L261.68,266.83 L261.96,267.54 L262.26,268.21 L262.56,268.82 L262.87,269.39 L263.20,269.94 L263.54,270.48 L263.90,271.00 L264.06,271.49 L263.87,271.91 L263.42,272.26 L262.83,272.56 L262.17,272.82 L261.56,273.03 L261.09,273.20 L260.86,273.35 L260.96,273.47 L261.50,273.58 L262.58,273.68 L264.29,273.78 L266.73,273.88 L270.00,274.00 L274.40,274.11 L280.03,274.21 L286.69,274.28 L294.16,274.30 L302.24,274.30 L310.71,274.30 L319.38,274.30 L328.03,274.30 L336.46,274.30 L344.46,274.30 L351.82,274.30 L358.34,274.30 L363.80,274.30 L368.00,274.30" fill="none" stroke="#888888" stroke-width="1.15" stroke-linejoin="round" stroke-linecap="round"/>
<path d="M226.40,202.92 L227.11,203.46 L228.01,203.46 L229.09,201.85 L230.30,201.41 L231.61,202.45 L233.00,202.10 L234.44,203.67 L235.89,203.28 L237.32,202.99 L238.71,202.87 L240.02,203.21 L241.23,201.72 L242.30,202.69 L243.20,201.99 L243.96,204.37 L244.62,202.00 L245.20,204.46 L245.71,202.43 L246.16,204.48 L246.55,203.67 L246.90,204.14 L247.22,205.74 L247.51,203.60 L247.79,204.08 L248.07,205.79 L248.36,206.22 L248.67,206.69 L249.00,207.20 L249.34,207.74 L249.66,208.27 L249.97,208.83 L250.27,209.40 L250.55,210.00 L250.82,210.63 L251.09,211.31 L251.36,212.05 L251.62,212.84 L251.89,213.70 L252.16,214.64 L252.43,215.66 L252.71,216.78 L253.00,218.00 L253.30,219.35 L253.60,220.85 L253.91,222.48 L254.21,224.21 L254.52,226.03 L254.83,227.91 L255.14,229.84 L255.46,231.79 L255.77,233.74 L256.08,235.67 L256.39,237.56 L256.69,239.40 L257.00,241.15 L257.30,242.80 L257.60,244.39 L257.89,245.98 L258.18,247.55 L258.46,249.11 L258.74,250.64 L259.02,252.15 L259.31,253.62 L259.59,255.06 L259.88,256.46 L260.17,257.80 L260.47,259.10 L260.77,260.33 L261.08,261.50 L261.40,262.60 L261.73,263.64 L262.05,264.62 L262.38,265.54 L262.72,266.42 L263.05,267.24 L263.40,268.01 L263.74,268.74 L264.10,269.42 L264.46,270.05 L264.83,270.64 L265.21,271.19 L265.59,271.70 L265.99,272.17 L266.40,272.60 L266.61,272.98 L266.49,273.28 L266.11,273.52 L265.59,273.71 L265.01,273.84 L264.48,273.94 L264.07,274.01 L263.90,274.05 L264.05,274.07 L264.62,274.08 L265.71,274.09 L267.40,274.11 L269.80,274.15 L273.00,274.20 L277.29,274.26 L282.76,274.30 L289.22,274.30 L296.47,274.30 L304.30,274.30 L312.51,274.30 L320.91,274.30 L329.29,274.30 L337.46,274.30 L345.20,274.30 L352.33,274.30 L358.64,274.30 L363.93,274.30 L368.00,274.30" fill="none" stroke="#111111" stroke-width="1.15" stroke-linejoin="round" stroke-linecap="round"/>
<path d="M226.40,184.51 L226.63,184.97 L226.92,184.93 L227.26,185.10 L227.65,184.27 L228.06,184.29 L228.51,184.15 L228.97,184.18 L229.44,184.71 L229.91,183.86 L230.38,184.19 L230.82,183.60 L231.25,183.45 L231.65,183.30 L232.00,183.41 L232.33,182.63 L232.64,181.28 L232.94,180.84 L233.24,179.85 L233.52,179.81 L233.79,178.81 L234.06,177.87 L234.31,176.98 L234.56,176.02 L234.80,175.49 L235.03,174.63 L235.26,173.45 L235.48,173.80 L235.70,173.18 L235.90,173.53 L236.06,173.49 L236.20,173.66 L236.33,174.05 L236.44,174.70 L236.55,175.21 L236.66,175.68 L236.77,177.28 L236.90,178.02 L237.06,179.01 L237.23,179.39 L237.45,179.92 L237.70,180.77 L238.00,180.56 L238.35,181.66 L238.75,181.79 L239.19,181.83 L239.67,182.21 L240.17,182.92 L240.69,182.91 L241.23,183.47 L241.78,183.97 L242.32,184.06 L242.86,184.12 L243.38,184.96 L243.88,185.10 L244.36,185.61 L244.80,186.13 L245.21,186.94 L245.61,187.17 L245.99,188.45 L246.36,189.41 L246.72,189.35 L247.07,190.40 L247.41,191.35 L247.75,191.04 L248.09,192.41 L248.42,193.32 L248.76,194.32 L249.10,195.43 L249.45,196.65 L249.80,198.00 L250.16,199.50 L250.52,201.17 L250.87,202.97 L251.23,204.89 L251.59,206.91 L251.95,209.01 L252.31,211.16 L252.66,213.36 L253.02,215.57 L253.38,217.78 L253.74,219.97 L254.09,222.11 L254.45,224.20 L254.80,226.20 L255.15,228.17 L255.50,230.18 L255.85,232.20 L256.20,234.23 L256.55,236.27 L256.90,238.28 L257.25,240.28 L257.60,242.24 L257.95,244.16 L258.30,246.02 L258.65,247.82 L259.00,249.54 L259.35,251.17 L259.70,252.70 L260.05,254.14 L260.40,255.52 L260.74,256.82 L261.07,258.07 L261.41,259.25 L261.75,260.37 L262.09,261.44 L262.44,262.46 L262.79,263.43 L263.15,264.34 L263.52,265.22 L263.90,266.05 L264.29,266.84 L264.70,267.60 L264.91,268.31 L264.77,268.95 L264.38,269.53 L263.84,270.06 L263.25,270.54 L262.69,270.97 L262.27,271.36 L262.08,271.72 L262.23,272.05 L262.80,272.35 L263.90,272.63 L265.61,272.90 L268.05,273.15 L271.30,273.40 L275.66,273.63 L281.23,273.81 L287.81,273.97 L295.18,274.09 L303.15,274.18 L311.51,274.26 L320.06,274.30 L328.60,274.30 L336.91,274.30 L344.79,274.30 L352.05,274.30 L358.47,274.30 L363.86,274.30 L368.00,274.30" fill="none" stroke="#a020f0" stroke-width="1.15" stroke-linejoin="round" stroke-linecap="round"/>
<path d="M226.40,188.53 L226.78,188.91 L227.26,188.38 L227.81,188.16 L228.43,186.72 L229.11,186.01 L229.83,185.86 L230.58,185.03 L231.35,183.89 L232.13,183.67 L232.90,182.72 L233.66,182.65 L234.38,181.44 L235.07,181.29 L235.70,181.98 L236.29,181.34 L236.86,181.33 L237.41,182.18 L237.95,182.25 L238.48,182.02 L239.00,182.92 L239.51,183.54 L240.02,183.48 L240.54,184.66 L241.05,184.66 L241.57,185.60 L242.10,186.00 L242.64,186.89 L243.20,188.57 L243.77,188.67 L244.36,190.18 L244.96,190.37 L245.57,191.46 L246.18,192.71 L246.80,193.45 L247.41,193.78 L248.03,195.32 L248.64,196.45 L249.24,197.63 L249.83,198.87 L250.40,200.18 L250.96,201.55 L251.50,203.00 L252.02,204.53 L252.52,206.17 L253.01,207.89 L253.48,209.68 L253.95,211.55 L254.40,213.46 L254.85,215.42 L255.29,217.42 L255.74,219.44 L256.18,221.47 L256.63,223.50 L257.08,225.52 L257.53,227.53 L258.00,229.50 L258.47,231.50 L258.95,233.57 L259.42,235.70 L259.90,237.87 L260.38,240.06 L260.86,242.25 L261.34,244.43 L261.83,246.57 L262.31,248.66 L262.79,250.68 L263.27,252.61 L263.75,254.44 L264.22,256.14 L264.70,257.70 L265.17,259.13 L265.65,260.47 L266.12,261.72 L266.59,262.88 L267.06,263.96 L267.53,264.97 L268.00,265.91 L268.47,266.79 L268.94,267.61 L269.41,268.37 L269.88,269.09 L270.35,269.76 L270.83,270.40 L271.30,271.00 L271.58,271.55 L271.52,272.01 L271.23,272.41 L270.78,272.73 L270.27,273.01 L269.79,273.23 L269.44,273.41 L269.29,273.56 L269.46,273.69 L270.01,273.79 L271.05,273.89 L272.67,273.98 L274.96,274.08 L278.00,274.20 L282.08,274.30 L287.27,274.30 L293.40,274.30 L300.27,274.30 L307.69,274.30 L315.47,274.30 L323.42,274.30 L331.35,274.30 L339.08,274.30 L346.42,274.30 L353.16,274.30 L359.14,274.30 L364.15,274.30 L368.00,274.30" fill="none" stroke="#2233dd" stroke-width="1.15" stroke-linejoin="round" stroke-linecap="round"/>
<path d="M226.40,184.56 L226.82,183.15 L227.32,183.65 L227.92,182.51 L228.58,182.99 L229.30,181.27 L230.07,181.72 L230.88,180.91 L231.71,180.55 L232.56,180.19 L233.41,178.81 L234.25,178.53 L235.07,178.68 L235.86,177.98 L236.60,177.92 L237.33,177.96 L238.07,178.91 L238.83,179.21 L239.59,179.49 L240.36,179.24 L241.12,180.59 L241.88,180.64 L242.62,180.89 L243.34,181.76 L244.04,182.34 L244.71,182.55 L245.35,183.74 L245.94,184.08 L246.50,184.88 L247.00,185.82 L247.46,185.94 L247.87,186.10 L248.24,186.64 L248.59,187.06 L248.91,187.50 L249.21,187.96 L249.51,188.46 L249.80,189.02 L250.10,189.63 L250.42,190.33 L250.75,191.11 L251.11,192.00 L251.50,193.00 L251.92,194.12 L252.35,195.35 L252.79,196.68 L253.24,198.10 L253.70,199.59 L254.17,201.15 L254.64,202.76 L255.12,204.41 L255.60,206.09 L256.08,207.80 L256.57,209.51 L257.05,211.22 L257.53,212.92 L258.00,214.60 L258.47,216.29 L258.93,218.03 L259.39,219.81 L259.85,221.62 L260.31,223.46 L260.77,225.31 L261.24,227.16 L261.71,229.01 L262.18,230.85 L262.66,232.66 L263.15,234.44 L263.66,236.18 L264.17,237.87 L264.70,239.50 L265.24,241.09 L265.79,242.68 L266.34,244.26 L266.91,245.81 L267.48,247.35 L268.06,248.86 L268.64,250.33 L269.24,251.77 L269.84,253.16 L270.46,254.51 L271.08,255.80 L271.71,257.03 L272.35,258.20 L273.00,259.30 L273.66,260.33 L274.33,261.29 L275.00,262.20 L275.69,263.04 L276.38,263.84 L277.09,264.58 L277.80,265.28 L278.52,265.94 L279.25,266.57 L279.98,267.16 L280.73,267.72 L281.48,268.27 L282.24,268.79 L283.00,269.30 L283.63,269.78 L284.02,270.22 L284.25,270.62 L284.37,270.99 L284.45,271.32 L284.57,271.63 L284.78,271.91 L285.15,272.16 L285.76,272.40 L286.65,272.62 L287.91,272.83 L289.59,273.02 L291.77,273.21 L294.50,273.40 L298.01,273.57 L302.39,273.72 L307.47,273.85 L313.12,273.97 L319.19,274.06 L325.52,274.14 L331.97,274.21 L338.39,274.26 L344.63,274.30 L350.55,274.30 L355.99,274.30 L360.81,274.30 L364.87,274.30 L368.00,274.30" fill="none" stroke="#dd2020" stroke-width="1.15" stroke-linejoin="round" stroke-linecap="round"/>
<path d="M226.40,195.43 L226.82,195.36 L227.32,194.98 L227.92,194.66 L228.58,194.21 L229.30,194.07 L230.07,193.13 L230.88,193.11 L231.71,191.90 L232.56,191.81 L233.41,191.44 L234.25,190.84 L235.07,191.26 L235.86,190.51 L236.60,190.95 L237.32,191.07 L238.06,190.18 L238.80,190.93 L239.55,190.84 L240.30,190.73 L241.04,190.06 L241.78,190.70 L242.51,191.08 L243.23,190.91 L243.93,191.09 L244.61,191.51 L245.27,191.81 L245.90,192.87 L246.50,192.82 L247.06,193.43 L247.59,194.27 L248.08,194.72 L248.55,195.38 L248.99,196.09 L249.42,196.85 L249.84,197.66 L250.26,198.51 L250.68,199.42 L251.10,200.37 L251.54,201.38 L252.00,202.43 L252.49,203.54 L253.00,204.70 L253.54,205.93 L254.09,207.26 L254.65,208.66 L255.22,210.13 L255.80,211.66 L256.39,213.23 L256.99,214.84 L257.60,216.47 L258.21,218.12 L258.84,219.77 L259.47,221.42 L260.10,223.04 L260.75,224.64 L261.40,226.20 L262.06,227.75 L262.72,229.33 L263.39,230.93 L264.07,232.54 L264.75,234.15 L265.44,235.76 L266.14,237.36 L266.85,238.95 L267.57,240.51 L268.30,242.04 L269.03,243.53 L269.78,244.97 L270.53,246.37 L271.30,247.70 L272.08,248.99 L272.88,250.25 L273.69,251.48 L274.52,252.68 L275.35,253.84 L276.20,254.98 L277.05,256.07 L277.91,257.13 L278.76,258.15 L279.62,259.13 L280.47,260.07 L281.32,260.96 L282.17,261.80 L283.00,262.60 L283.83,263.34 L284.66,264.02 L285.50,264.65 L286.33,265.23 L287.16,265.77 L288.00,266.27 L288.82,266.73 L289.65,267.15 L290.47,267.55 L291.29,267.93 L292.11,268.29 L292.91,268.63 L293.71,268.97 L294.50,269.30 L295.27,269.61 L296.01,269.89 L296.73,270.13 L297.44,270.35 L298.14,270.54 L298.83,270.71 L299.53,270.87 L300.24,271.01 L300.96,271.15 L301.70,271.27 L302.47,271.40 L303.27,271.53 L304.11,271.66 L305.00,271.80 L305.85,271.94 L306.62,272.08 L307.32,272.21 L308.00,272.34 L308.67,272.46 L309.38,272.57 L310.16,272.69 L311.03,272.80 L312.02,272.90 L313.18,273.01 L314.52,273.11 L316.09,273.21 L317.90,273.30 L320.00,273.40 L322.53,273.50 L325.55,273.59 L328.97,273.69 L332.71,273.78 L336.68,273.87 L340.78,273.96 L344.94,274.05 L349.06,274.13 L353.05,274.21 L356.82,274.28 L360.29,274.30 L363.37,274.30 L365.97,274.30 L368.00,274.30" fill="none" stroke="#e07a2a" stroke-width="1.15" stroke-linejoin="round" stroke-linecap="round"/>
<path d="M226.40,200.63 L226.77,200.64 L227.23,200.37 L227.75,199.03 L228.34,198.98 L228.97,198.24 L229.66,197.49 L230.38,196.12 L231.12,195.32 L231.89,195.08 L232.66,194.90 L233.44,193.77 L234.21,193.62 L234.97,193.07 L235.70,193.52 L236.44,193.56 L237.20,192.93 L237.99,193.74 L238.80,192.78 L239.62,193.91 L240.45,194.27 L241.27,193.74 L242.09,194.79 L242.90,195.03 L243.68,195.95 L244.44,195.52 L245.17,196.39 L245.86,197.28 L246.50,197.47 L247.09,197.54 L247.62,197.75 L248.11,198.73 L248.57,199.23 L249.00,199.75 L249.40,200.30 L249.80,200.88 L250.20,201.49 L250.60,202.16 L251.01,202.88 L251.45,203.65 L251.93,204.50 L252.44,205.41 L253.00,206.40 L253.60,207.48 L254.23,208.67 L254.88,209.94 L255.56,211.28 L256.25,212.68 L256.96,214.14 L257.68,215.63 L258.42,217.15 L259.17,218.69 L259.92,220.23 L260.69,221.76 L261.46,223.28 L262.23,224.76 L263.00,226.20 L263.78,227.63 L264.57,229.09 L265.38,230.56 L266.20,232.05 L267.02,233.54 L267.86,235.03 L268.70,236.51 L269.54,237.97 L270.39,239.41 L271.24,240.82 L272.09,242.19 L272.93,243.51 L273.77,244.79 L274.60,246.00 L275.42,247.16 L276.24,248.27 L277.05,249.34 L277.85,250.37 L278.65,251.36 L279.46,252.33 L280.26,253.26 L281.07,254.17 L281.89,255.06 L282.73,255.93 L283.57,256.79 L284.43,257.63 L285.30,258.47 L286.20,259.30 L287.12,260.13 L288.05,260.96 L288.99,261.78 L289.95,262.60 L290.92,263.39 L291.90,264.17 L292.89,264.93 L293.89,265.66 L294.89,266.37 L295.91,267.03 L296.92,267.67 L297.95,268.26 L298.97,268.80 L300.00,269.30 L301.02,269.74 L302.04,270.13 L303.04,270.47 L304.05,270.77 L305.06,271.02 L306.08,271.25 L307.11,271.44 L308.16,271.62 L309.22,271.78 L310.31,271.92 L311.43,272.06 L312.58,272.20 L313.77,272.35 L315.00,272.50 L316.24,272.65 L317.48,272.79 L318.72,272.92 L319.97,273.03 L321.24,273.13 L322.54,273.22 L323.88,273.31 L325.26,273.38 L326.69,273.46 L328.19,273.53 L329.76,273.60 L331.42,273.66 L333.16,273.73 L335.00,273.80 L337.03,273.87 L339.32,273.94 L341.81,274.00 L344.44,274.06 L347.18,274.12 L349.97,274.18 L352.75,274.23 L355.48,274.28 L358.12,274.30 L360.60,274.30 L362.88,274.30 L364.90,274.30 L366.63,274.30 L368.00,274.30" fill="none" stroke="#6e8b2a" stroke-width="1.15" stroke-linejoin="round" stroke-linecap="round"/>
<rect x="226.40" y="162.60" width="141.40" height="111.90" fill="none" stroke="#222" stroke-width="0.9" />
<line x1="226.40" y1="274.50" x2="226.40" y2="272.50" stroke="#222" stroke-width="0.7" />
<text x="226.40" y="285.30" font-family='"Liberation Sans", sans-serif' font-size="7.2" font-weight="normal" font-style="normal" fill="#222" stroke="#222" stroke-width="0.15" text-anchor="middle"  textLength="12" lengthAdjust="spacingAndGlyphs">300</text>
<line x1="273.53" y1="274.50" x2="273.53" y2="272.50" stroke="#222" stroke-width="0.7" />
<text x="273.53" y="285.30" font-family='"Liberation Sans", sans-serif' font-size="7.2" font-weight="normal" font-style="normal" fill="#222" stroke="#222" stroke-width="0.15" text-anchor="middle"  textLength="12" lengthAdjust="spacingAndGlyphs">400</text>
<line x1="320.67" y1="274.50" x2="320.67" y2="272.50" stroke="#222" stroke-width="0.7" />
<text x="320.67" y="285.30" font-family='"Liberation Sans", sans-serif' font-size="7.2" font-weight="normal" font-style="normal" fill="#222" stroke="#222" stroke-width="0.15" text-anchor="middle"  textLength="12" lengthAdjust="spacingAndGlyphs">500</text>
<line x1="367.80" y1="274.50" x2="367.80" y2="272.50" stroke="#222" stroke-width="0.7" />
<text x="367.80" y="285.30" font-family='"Liberation Sans", sans-serif' font-size="7.2" font-weight="normal" font-style="normal" fill="#222" stroke="#222" stroke-width="0.15" text-anchor="middle"  textLength="12" lengthAdjust="spacingAndGlyphs">600</text>
<line x1="238.18" y1="274.50" x2="238.18" y2="273.30" stroke="#222" stroke-width="0.5" />
<line x1="249.97" y1="274.50" x2="249.97" y2="273.30" stroke="#222" stroke-width="0.5" />
<line x1="261.75" y1="274.50" x2="261.75" y2="273.30" stroke="#222" stroke-width="0.5" />
<line x1="273.53" y1="274.50" x2="273.53" y2="273.30" stroke="#222" stroke-width="0.5" />
<line x1="285.32" y1="274.50" x2="285.32" y2="273.30" stroke="#222" stroke-width="0.5" />
<line x1="297.10" y1="274.50" x2="297.10" y2="273.30" stroke="#222" stroke-width="0.5" />
<line x1="308.88" y1="274.50" x2="308.88" y2="273.30" stroke="#222" stroke-width="0.5" />
<line x1="320.67" y1="274.50" x2="320.67" y2="273.30" stroke="#222" stroke-width="0.5" />
<line x1="332.45" y1="274.50" x2="332.45" y2="273.30" stroke="#222" stroke-width="0.5" />
<line x1="344.23" y1="274.50" x2="344.23" y2="273.30" stroke="#222" stroke-width="0.5" />
<line x1="356.02" y1="274.50" x2="356.02" y2="273.30" stroke="#222" stroke-width="0.5" />
<text x="272" y="295.3" font-family='"Liberation Sans", sans-serif' font-size="7.4" fill="#222" textLength="56" lengthAdjust="spacingAndGlyphs"><tspan font-style="italic">Wavelength</tspan> / nm</text>
<text x="219.4" y="249.8" font-family='"Liberation Sans", sans-serif' font-size="7.4" fill="#222" transform="rotate(-90 219.4 249.8)" textLength="55" lengthAdjust="spacingAndGlyphs"><tspan font-style="italic">Absorbance</tspan> / a.u.</text>
<line x1="297.90" y1="168.70" x2="313.20" y2="168.70" stroke="#888888" stroke-width="1.4" />
<text x="314.60" y="171.10" font-family='"Liberation Sans", sans-serif' font-size="6.4" font-weight="normal" font-style="normal" fill="#222" stroke="#222" stroke-width="0.15" text-anchor="start"  textLength="35.7" lengthAdjust="spacingAndGlyphs">TiO2_Aldrich</text>
<line x1="297.90" y1="179.20" x2="313.20" y2="179.20" stroke="#111111" stroke-width="1.4" />
<text x="314.60" y="181.60" font-family='"Liberation Sans", sans-serif' font-size="6.4" font-weight="normal" font-style="normal" fill="#222" stroke="#222" stroke-width="0.15" text-anchor="start"  textLength="25.5" lengthAdjust="spacingAndGlyphs">0Fe/TiO2</text>
<line x1="297.90" y1="189.80" x2="313.20" y2="189.80" stroke="#a020f0" stroke-width="1.4" />
<text x="314.60" y="192.20" font-family='"Liberation Sans", sans-serif' font-size="6.4" font-weight="normal" font-style="normal" fill="#222" stroke="#222" stroke-width="0.15" text-anchor="start"  textLength="30.5" lengthAdjust="spacingAndGlyphs">0.1Fe/TiO2</text>
<line x1="297.90" y1="200.40" x2="313.20" y2="200.40" stroke="#2233dd" stroke-width="1.4" />
<text x="314.60" y="202.80" font-family='"Liberation Sans", sans-serif' font-size="6.4" font-weight="normal" font-style="normal" fill="#222" stroke="#222" stroke-width="0.15" text-anchor="start"  textLength="30.5" lengthAdjust="spacingAndGlyphs">0.5Fe/TiO2</text>
<line x1="297.90" y1="210.90" x2="313.20" y2="210.90" stroke="#dd2020" stroke-width="1.4" />
<text x="314.60" y="213.30" font-family='"Liberation Sans", sans-serif' font-size="6.4" font-weight="normal" font-style="normal" fill="#222" stroke="#222" stroke-width="0.15" text-anchor="start"  textLength="34.2" lengthAdjust="spacingAndGlyphs">0.75Fe/TiO2</text>
<line x1="297.90" y1="221.80" x2="313.20" y2="221.80" stroke="#e07a2a" stroke-width="1.4" />
<text x="314.60" y="224.20" font-family='"Liberation Sans", sans-serif' font-size="6.4" font-weight="normal" font-style="normal" fill="#222" stroke="#222" stroke-width="0.15" text-anchor="start"  textLength="30.5" lengthAdjust="spacingAndGlyphs">1.2Fe/TiO2</text>
<line x1="297.90" y1="232.30" x2="313.20" y2="232.30" stroke="#6e8b2a" stroke-width="1.4" />
<text x="314.60" y="234.70" font-family='"Liberation Sans", sans-serif' font-size="6.4" font-weight="normal" font-style="normal" fill="#222" stroke="#222" stroke-width="0.15" text-anchor="start"  textLength="25.5" lengthAdjust="spacingAndGlyphs">2Fe/TiO2</text>
<text x="382.90" y="173.50" font-family='"Liberation Serif", serif' font-size="11" font-weight="normal" font-style="normal" fill="#111" stroke="#111" stroke-width="0.15" text-anchor="start"  textLength="12.8" lengthAdjust="spacingAndGlyphs">(f)</text>
<path d="M398.00,187.00 L400.90,186.00 L403.80,191.90 L406.70,192.80 L408.00,179.30 L411.50,185.00 L416.30,190.90 L422.00,204.40 L428.00,221.80 L433.70,243.00 L437.60,256.50 L441.40,265.20 L447.20,271.00 L458.80,273.00 L480.00,274.00 L539.50,274.40" fill="none" stroke="#4caf3a" stroke-width="1.2" stroke-linejoin="round" stroke-linecap="round"/>
<path d="M398.00,193.80 L400.90,194.70 L403.80,197.60 L405.70,201.50 L408.60,191.90 L414.40,200.50 L420.20,210.20 L427.90,223.70 L435.60,239.20 L441.40,252.70 L445.30,262.30 L449.20,265.20 L460.00,266.20 L468.20,267.30 L494.30,270.60 L517.30,273.00 L539.50,274.50" fill="none" stroke="#3a8ee8" stroke-width="1.2" stroke-linejoin="round" stroke-linecap="round"/>
<path d="M398.00,190.90 L403.80,202.50 L406.70,205.40 L408.60,207.30 L412.50,214.00 L418.30,225.60 L426.00,239.20 L433.70,250.70 L439.50,260.40 L445.30,267.10 L453.00,271.00 L459.80,273.00 L500.00,274.00 L539.50,274.40" fill="none" stroke="#8b1a1a" stroke-width="1.3" stroke-linejoin="round" stroke-linecap="round"/>
<path d="M398.00,180.30 L404.70,182.20 L412.50,185.00 L418.30,191.90 L424.00,204.40 L429.80,223.70 L435.60,246.90 L439.50,258.50 L443.40,268.00 L451.00,273.00 L480.00,274.00 L539.50,274.40" fill="none" stroke="#8b1a1a" stroke-width="1.2" stroke-linejoin="round" stroke-linecap="round" stroke-dasharray="2.2,1.2"/>
<rect x="398.00" y="162.60" width="141.50" height="111.80" fill="none" stroke="#555" stroke-width="0.9" />
<line x1="398.00" y1="274.40" x2="398.00" y2="272.40" stroke="#333" stroke-width="0.7" />
<text x="398.00" y="285.30" font-family='"Liberation Sans", sans-serif' font-size="7.2" font-weight="normal" font-style="normal" fill="#222" stroke="#222" stroke-width="0.15" text-anchor="middle"  textLength="12" lengthAdjust="spacingAndGlyphs">300</text>
<line x1="445.17" y1="274.40" x2="445.17" y2="272.40" stroke="#333" stroke-width="0.7" />
<text x="445.17" y="285.30" font-family='"Liberation Sans", sans-serif' font-size="7.2" font-weight="normal" font-style="normal" fill="#222" stroke="#222" stroke-width="0.15" text-anchor="middle"  textLength="12" lengthAdjust="spacingAndGlyphs">400</text>
<line x1="492.33" y1="274.40" x2="492.33" y2="272.40" stroke="#333" stroke-width="0.7" />
<text x="492.33" y="285.30" font-family='"Liberation Sans", sans-serif' font-size="7.2" font-weight="normal" font-style="normal" fill="#222" stroke="#222" stroke-width="0.15" text-anchor="middle"  textLength="12" lengthAdjust="spacingAndGlyphs">500</text>
<line x1="539.50" y1="274.40" x2="539.50" y2="272.40" stroke="#333" stroke-width="0.7" />
<text x="539.50" y="285.30" font-family='"Liberation Sans", sans-serif' font-size="7.2" font-weight="normal" font-style="normal" fill="#222" stroke="#222" stroke-width="0.15" text-anchor="middle"  textLength="12" lengthAdjust="spacingAndGlyphs">600</text>
<line x1="409.79" y1="274.40" x2="409.79" y2="273.20" stroke="#333" stroke-width="0.5" />
<line x1="421.58" y1="274.40" x2="421.58" y2="273.20" stroke="#333" stroke-width="0.5" />
<line x1="433.38" y1="274.40" x2="433.38" y2="273.20" stroke="#333" stroke-width="0.5" />
<line x1="445.17" y1="274.40" x2="445.17" y2="273.20" stroke="#333" stroke-width="0.5" />
<line x1="456.96" y1="274.40" x2="456.96" y2="273.20" stroke="#333" stroke-width="0.5" />
<line x1="468.75" y1="274.40" x2="468.75" y2="273.20" stroke="#333" stroke-width="0.5" />
<line x1="480.54" y1="274.40" x2="480.54" y2="273.20" stroke="#333" stroke-width="0.5" />
<line x1="492.33" y1="274.40" x2="492.33" y2="273.20" stroke="#333" stroke-width="0.5" />
<line x1="504.12" y1="274.40" x2="504.12" y2="273.20" stroke="#333" stroke-width="0.5" />
<line x1="515.92" y1="274.40" x2="515.92" y2="273.20" stroke="#333" stroke-width="0.5" />
<line x1="527.71" y1="274.40" x2="527.71" y2="273.20" stroke="#333" stroke-width="0.5" />
<text x="443.6" y="295.5" font-family='"Liberation Sans", sans-serif' font-size="7.4" fill="#222" textLength="52.5" lengthAdjust="spacingAndGlyphs"><tspan font-style="italic">Wavelength</tspan> / nm</text>
<text x="390.3" y="250.7" font-family='"Liberation Sans", sans-serif' font-size="7.4" fill="#222" transform="rotate(-90 390.3 250.7)" textLength="60.5" lengthAdjust="spacingAndGlyphs"><tspan font-style="italic">Absorbance</tspan> / a.u.</text>
<line x1="455.70" y1="169.80" x2="475.40" y2="169.80" stroke="#4caf3a" stroke-width="1.4" />
<text x="478.00" y="172.40" font-family='"Liberation Sans", sans-serif' font-size="7.2" font-weight="normal" font-style="normal" fill="#222" stroke="#222" stroke-width="0.15" text-anchor="start"  textLength="42.5" lengthAdjust="spacingAndGlyphs">0.5Fe/TiO2-500</text>
<line x1="455.70" y1="182.90" x2="475.40" y2="182.90" stroke="#8b1a1a" stroke-width="1.4" stroke-dasharray="2.2,1.2" />
<text x="478.00" y="185.50" font-family='"Liberation Sans", sans-serif' font-size="7.2" font-weight="normal" font-style="normal" fill="#222" stroke="#222" stroke-width="0.15" text-anchor="start"  textLength="42.5" lengthAdjust="spacingAndGlyphs">0.1Fe/TiO2-700</text>
<line x1="455.70" y1="196.00" x2="475.40" y2="196.00" stroke="#8b1a1a" stroke-width="1.4" />
<text x="478.00" y="198.60" font-family='"Liberation Sans", sans-serif' font-size="7.2" font-weight="normal" font-style="normal" fill="#222" stroke="#222" stroke-width="0.15" text-anchor="start"  textLength="42.5" lengthAdjust="spacingAndGlyphs">0.5Fe/TiO2-700</text>
<line x1="455.70" y1="209.00" x2="475.40" y2="209.00" stroke="#3a8ee8" stroke-width="1.4" />
<text x="478.00" y="211.60" font-family='"Liberation Sans", sans-serif' font-size="7.2" font-weight="normal" font-style="normal" fill="#222" stroke="#222" stroke-width="0.15" text-anchor="start"  textLength="42.5" lengthAdjust="spacingAndGlyphs">0.5Fe/TiO2-900</text>
<text x="5.50" y="307.70" font-family='"Liberation Serif", serif' font-size="11" font-weight="normal" font-style="normal" fill="#111" stroke="#111" stroke-width="0.15" text-anchor="start"  textLength="14.4" lengthAdjust="spacingAndGlyphs">(g)</text>
<line x1="38.00" y1="306.00" x2="38.00" y2="411.40" stroke="#b0b0b0" stroke-width="0.8" />
<line x1="38.00" y1="411.40" x2="177.50" y2="411.40" stroke="#b0b0b0" stroke-width="0.8" />
<line x1="36.50" y1="411.40" x2="38.00" y2="411.40" stroke="#b0b0b0" stroke-width="0.7" />
<text x="33.50" y="413.70" font-family='"Liberation Sans", sans-serif' font-size="6.4" font-weight="normal" font-style="normal" fill="#333" stroke="#333" stroke-width="0.15" text-anchor="end"  textLength="2.85" lengthAdjust="spacingAndGlyphs">0</text>
<line x1="36.50" y1="393.85" x2="38.00" y2="393.85" stroke="#b0b0b0" stroke-width="0.7" />
<text x="33.50" y="396.15" font-family='"Liberation Sans", sans-serif' font-size="6.4" font-weight="normal" font-style="normal" fill="#333" stroke="#333" stroke-width="0.15" text-anchor="end"  textLength="11.4" lengthAdjust="spacingAndGlyphs">1000</text>
<line x1="36.50" y1="376.30" x2="38.00" y2="376.30" stroke="#b0b0b0" stroke-width="0.7" />
<text x="33.50" y="378.60" font-family='"Liberation Sans", sans-serif' font-size="6.4" font-weight="normal" font-style="normal" fill="#333" stroke="#333" stroke-width="0.15" text-anchor="end"  textLength="11.4" lengthAdjust="spacingAndGlyphs">2000</text>
<line x1="36.50" y1="358.75" x2="38.00" y2="358.75" stroke="#b0b0b0" stroke-width="0.7" />
<text x="33.50" y="361.05" font-family='"Liberation Sans", sans-serif' font-size="6.4" font-weight="normal" font-style="normal" fill="#333" stroke="#333" stroke-width="0.15" text-anchor="end"  textLength="11.4" lengthAdjust="spacingAndGlyphs">3000</text>
<line x1="36.50" y1="341.20" x2="38.00" y2="341.20" stroke="#b0b0b0" stroke-width="0.7" />
<text x="33.50" y="343.50" font-family='"Liberation Sans", sans-serif' font-size="6.4" font-weight="normal" font-style="normal" fill="#333" stroke="#333" stroke-width="0.15" text-anchor="end"  textLength="11.4" lengthAdjust="spacingAndGlyphs">4000</text>
<line x1="36.50" y1="323.65" x2="38.00" y2="323.65" stroke="#b0b0b0" stroke-width="0.7" />
<text x="33.50" y="325.95" font-family='"Liberation Sans", sans-serif' font-size="6.4" font-weight="normal" font-style="normal" fill="#333" stroke="#333" stroke-width="0.15" text-anchor="end"  textLength="11.4" lengthAdjust="spacingAndGlyphs">5000</text>
<line x1="36.50" y1="306.10" x2="38.00" y2="306.10" stroke="#b0b0b0" stroke-width="0.7" />
<text x="33.50" y="308.40" font-family='"Liberation Sans", sans-serif' font-size="6.4" font-weight="normal" font-style="normal" fill="#333" stroke="#333" stroke-width="0.15" text-anchor="end"  textLength="11.4" lengthAdjust="spacingAndGlyphs">6000</text>
<line x1="38.00" y1="411.40" x2="38.00" y2="412.90" stroke="#b0b0b0" stroke-width="0.7" />
<text x="38.00" y="420.40" font-family='"Liberation Sans", sans-serif' font-size="6.4" font-weight="normal" font-style="normal" fill="#333" stroke="#333" stroke-width="0.15" text-anchor="middle"  textLength="2.9" lengthAdjust="spacingAndGlyphs">0</text>
<line x1="61.22" y1="411.40" x2="61.22" y2="412.90" stroke="#b0b0b0" stroke-width="0.7" />
<text x="61.22" y="420.40" font-family='"Liberation Sans", sans-serif' font-size="6.4" font-weight="normal" font-style="normal" fill="#333" stroke="#333" stroke-width="0.15" text-anchor="middle"  textLength="2.9" lengthAdjust="spacingAndGlyphs">5</text>
<line x1="84.44" y1="411.40" x2="84.44" y2="412.90" stroke="#b0b0b0" stroke-width="0.7" />
<text x="84.44" y="420.40" font-family='"Liberation Sans", sans-serif' font-size="6.4" font-weight="normal" font-style="normal" fill="#333" stroke="#333" stroke-width="0.15" text-anchor="middle"  textLength="5.8" lengthAdjust="spacingAndGlyphs">10</text>
<line x1="107.66" y1="411.40" x2="107.66" y2="412.90" stroke="#b0b0b0" stroke-width="0.7" />
<text x="107.66" y="420.40" font-family='"Liberation Sans", sans-serif' font-size="6.4" font-weight="normal" font-style="normal" fill="#333" stroke="#333" stroke-width="0.15" text-anchor="middle"  textLength="5.8" lengthAdjust="spacingAndGlyphs">15</text>
<line x1="130.88" y1="411.40" x2="130.88" y2="412.90" stroke="#b0b0b0" stroke-width="0.7" />
<text x="130.88" y="420.40" font-family='"Liberation Sans", sans-serif' font-size="6.4" font-weight="normal" font-style="normal" fill="#333" stroke="#333" stroke-width="0.15" text-anchor="middle"  textLength="5.8" lengthAdjust="spacingAndGlyphs">20</text>
<line x1="154.10" y1="411.40" x2="154.10" y2="412.90" stroke="#b0b0b0" stroke-width="0.7" />
<text x="154.10" y="420.40" font-family='"Liberation Sans", sans-serif' font-size="6.4" font-weight="normal" font-style="normal" fill="#333" stroke="#333" stroke-width="0.15" text-anchor="middle"  textLength="5.8" lengthAdjust="spacingAndGlyphs">25</text>
<line x1="177.32" y1="411.40" x2="177.32" y2="412.90" stroke="#b0b0b0" stroke-width="0.7" />
<text x="177.32" y="420.40" font-family='"Liberation Sans", sans-serif' font-size="6.4" font-weight="normal" font-style="normal" fill="#333" stroke="#333" stroke-width="0.15" text-anchor="middle"  textLength="5.8" lengthAdjust="spacingAndGlyphs">30</text>
<text x="96.7" y="425.8" font-family='"Liberation Sans", sans-serif' font-size="6.8" fill="#333" textLength="22.3" lengthAdjust="spacingAndGlyphs"><tspan font-style="italic">Time</tspan> / h</text>
<text x="15.5" y="389" font-family='"Liberation Sans", sans-serif' font-size="6" fill="#333" transform="rotate(-90 15.5 389)" textLength="66" lengthAdjust="spacingAndGlyphs"><tspan font-style="italic">H</tspan><tspan font-size="4.5" dy="1.5">2</tspan><tspan dy="-1.5" font-style="italic"> evolution</tspan> / μmol g<tspan font-size="4.5" dy="1.5">cat</tspan><tspan font-size="4.5" dy="-4">-1</tspan></text>
<path d="M36.70,411.40 L39.30,411.40 M38.00,410.10 L38.00,412.70" stroke="#999" stroke-width="0.6"/>
<path d="M41.34,411.36 L43.94,411.36 M42.64,410.06 L42.64,412.66" stroke="#999" stroke-width="0.6"/>
<path d="M45.99,411.32 L48.59,411.32 M47.29,410.02 L47.29,412.62" stroke="#999" stroke-width="0.6"/>
<path d="M50.64,411.29 L53.23,411.29 M51.94,409.99 L51.94,412.59" stroke="#999" stroke-width="0.6"/>
<path d="M55.28,411.25 L57.88,411.25 M56.58,409.95 L56.58,412.55" stroke="#999" stroke-width="0.6"/>
<path d="M59.92,411.21 L62.52,411.21 M61.22,409.91 L61.22,412.51" stroke="#999" stroke-width="0.6"/>
<path d="M64.57,411.17 L67.17,411.17 M65.87,409.87 L65.87,412.47" stroke="#999" stroke-width="0.6"/>
<path d="M69.22,411.13 L71.81,411.13 M70.52,409.83 L70.52,412.43" stroke="#999" stroke-width="0.6"/>
<path d="M73.86,411.09 L76.46,411.09 M75.16,409.79 L75.16,412.39" stroke="#999" stroke-width="0.6"/>
<path d="M78.50,411.06 L81.10,411.06 M79.80,409.76 L79.80,412.36" stroke="#999" stroke-width="0.6"/>
<path d="M83.15,411.02 L85.75,411.02 M84.45,409.72 L84.45,412.32" stroke="#999" stroke-width="0.6"/>
<path d="M87.80,410.98 L90.39,410.98 M89.09,409.68 L89.09,412.28" stroke="#999" stroke-width="0.6"/>
<path d="M92.44,410.94 L95.04,410.94 M93.74,409.64 L93.74,412.24" stroke="#999" stroke-width="0.6"/>
<path d="M97.08,410.90 L99.68,410.90 M98.38,409.60 L98.38,412.20" stroke="#999" stroke-width="0.6"/>
<path d="M101.73,410.87 L104.33,410.87 M103.03,409.57 L103.03,412.17" stroke="#999" stroke-width="0.6"/>
<path d="M106.38,410.83 L108.97,410.83 M107.67,409.53 L107.67,412.13" stroke="#999" stroke-width="0.6"/>
<path d="M111.02,410.79 L113.62,410.79 M112.32,409.49 L112.32,412.09" stroke="#999" stroke-width="0.6"/>
<path d="M115.66,410.75 L118.26,410.75 M116.96,409.45 L116.96,412.05" stroke="#999" stroke-width="0.6"/>
<path d="M120.31,410.71 L122.91,410.71 M121.61,409.41 L121.61,412.01" stroke="#999" stroke-width="0.6"/>
<path d="M124.95,410.68 L127.55,410.68 M126.25,409.38 L126.25,411.98" stroke="#999" stroke-width="0.6"/>
<path d="M129.60,410.64 L132.20,410.64 M130.90,409.34 L130.90,411.94" stroke="#999" stroke-width="0.6"/>
<path d="M134.24,410.60 L136.84,410.60 M135.54,409.30 L135.54,411.90" stroke="#999" stroke-width="0.6"/>
<path d="M138.89,410.56 L141.49,410.56 M140.19,409.26 L140.19,411.86" stroke="#999" stroke-width="0.6"/>
<line x1="36.50" y1="411.40" x2="39.50" y2="411.40" stroke="#111" stroke-width="0.9" />
<line x1="41.14" y1="411.12" x2="44.14" y2="411.12" stroke="#111" stroke-width="0.9" />
<line x1="45.79" y1="410.80" x2="48.79" y2="410.80" stroke="#111" stroke-width="0.9" />
<line x1="50.44" y1="410.47" x2="53.44" y2="410.47" stroke="#111" stroke-width="0.9" />
<line x1="55.08" y1="410.12" x2="58.08" y2="410.12" stroke="#111" stroke-width="0.9" />
<line x1="59.72" y1="409.76" x2="62.72" y2="409.76" stroke="#111" stroke-width="0.9" />
<line x1="64.37" y1="409.40" x2="67.37" y2="409.40" stroke="#111" stroke-width="0.9" />
<line x1="69.02" y1="409.03" x2="72.02" y2="409.03" stroke="#111" stroke-width="0.9" />
<line x1="73.66" y1="408.65" x2="76.66" y2="408.65" stroke="#111" stroke-width="0.9" />
<line x1="78.30" y1="408.27" x2="81.30" y2="408.27" stroke="#111" stroke-width="0.9" />
<line x1="82.95" y1="407.89" x2="85.95" y2="407.89" stroke="#111" stroke-width="0.9" />
<line x1="87.59" y1="407.50" x2="90.59" y2="407.50" stroke="#111" stroke-width="0.9" />
<line x1="92.24" y1="407.11" x2="95.24" y2="407.11" stroke="#111" stroke-width="0.9" />
<line x1="96.88" y1="406.72" x2="99.88" y2="406.72" stroke="#111" stroke-width="0.9" />
<line x1="101.53" y1="406.32" x2="104.53" y2="406.32" stroke="#111" stroke-width="0.9" />
<line x1="106.17" y1="405.92" x2="109.17" y2="405.92" stroke="#111" stroke-width="0.9" />
<line x1="110.82" y1="405.51" x2="113.82" y2="405.51" stroke="#111" stroke-width="0.9" />
<line x1="115.46" y1="405.11" x2="118.46" y2="405.11" stroke="#111" stroke-width="0.9" />
<line x1="120.11" y1="404.70" x2="123.11" y2="404.70" stroke="#111" stroke-width="0.9" />
<line x1="124.75" y1="404.29" x2="127.75" y2="404.29" stroke="#111" stroke-width="0.9" />
<line x1="129.40" y1="403.88" x2="132.40" y2="403.88" stroke="#111" stroke-width="0.9" />
<line x1="134.04" y1="403.46" x2="137.04" y2="403.46" stroke="#111" stroke-width="0.9" />
<line x1="138.69" y1="403.04" x2="141.69" y2="403.04" stroke="#111" stroke-width="0.9" />
<line x1="143.33" y1="402.62" x2="146.33" y2="402.62" stroke="#111" stroke-width="0.9" />
<path d="M36.27,409.67 L39.73,413.12 M39.73,409.67 L36.27,413.12" stroke="#4b2aa0" stroke-width="0.92"/>
<path d="M40.92,408.22 L44.37,411.67 M44.37,408.22 L40.92,411.67" stroke="#4b2aa0" stroke-width="0.92"/>
<path d="M45.56,407.31 L49.02,410.76 M49.02,407.31 L45.56,410.76" stroke="#4b2aa0" stroke-width="0.92"/>
<path d="M50.21,406.53 L53.66,409.98 M53.66,406.53 L50.21,409.98" stroke="#4b2aa0" stroke-width="0.92"/>
<path d="M54.85,405.83 L58.30,409.28 M58.30,405.83 L54.85,409.28" stroke="#4b2aa0" stroke-width="0.92"/>
<path d="M59.50,405.18 L62.95,408.63 M62.95,405.18 L59.50,408.63" stroke="#4b2aa0" stroke-width="0.92"/>
<path d="M64.15,404.57 L67.59,408.02 M67.59,404.57 L64.15,408.02" stroke="#4b2aa0" stroke-width="0.92"/>
<path d="M68.79,403.99 L72.24,407.44 M72.24,403.99 L68.79,407.44" stroke="#4b2aa0" stroke-width="0.92"/>
<path d="M73.44,403.43 L76.88,406.88 M76.88,403.43 L73.44,406.88" stroke="#4b2aa0" stroke-width="0.92"/>
<path d="M78.08,402.90 L81.53,406.35 M81.53,402.90 L78.08,406.35" stroke="#4b2aa0" stroke-width="0.92"/>
<path d="M82.72,402.38 L86.17,405.83 M86.17,402.38 L82.72,405.83" stroke="#4b2aa0" stroke-width="0.92"/>
<path d="M87.37,401.87 L90.82,405.32 M90.82,401.87 L87.37,405.32" stroke="#4b2aa0" stroke-width="0.92"/>
<path d="M92.02,401.38 L95.46,404.83 M95.46,401.38 L92.02,404.83" stroke="#4b2aa0" stroke-width="0.92"/>
<path d="M96.66,400.91 L100.11,404.36 M100.11,400.91 L96.66,404.36" stroke="#4b2aa0" stroke-width="0.92"/>
<path d="M101.31,400.44 L104.75,403.89 M104.75,400.44 L101.31,403.89" stroke="#4b2aa0" stroke-width="0.92"/>
<path d="M105.95,399.98 L109.40,403.43 M109.40,399.98 L105.95,403.43" stroke="#4b2aa0" stroke-width="0.92"/>
<path d="M110.59,399.53 L114.04,402.98 M114.04,399.53 L110.59,402.98" stroke="#4b2aa0" stroke-width="0.92"/>
<path d="M115.24,399.09 L118.69,402.54 M118.69,399.09 L115.24,402.54" stroke="#4b2aa0" stroke-width="0.92"/>
<path d="M119.88,398.66 L123.33,402.11 M123.33,398.66 L119.88,402.11" stroke="#4b2aa0" stroke-width="0.92"/>
<path d="M124.53,398.24 L127.98,401.69 M127.98,398.24 L124.53,401.69" stroke="#4b2aa0" stroke-width="0.92"/>
<path d="M129.17,397.82 L132.62,401.27 M132.62,397.82 L129.17,401.27" stroke="#4b2aa0" stroke-width="0.92"/>
<path d="M133.82,397.41 L137.27,400.86 M137.27,397.41 L133.82,400.86" stroke="#4b2aa0" stroke-width="0.92"/>
<path d="M138.47,397.00 L141.91,400.45 M141.91,397.00 L138.47,400.45" stroke="#4b2aa0" stroke-width="0.92"/>
<path d="M143.11,396.60 L146.56,400.05 M146.56,396.60 L143.11,400.05" stroke="#4b2aa0" stroke-width="0.92"/>
<circle cx="38.00" cy="411.40" r="1.875" fill="none" stroke="#222" stroke-width="0.75"/>
<circle cx="42.64" cy="408.34" r="1.875" fill="none" stroke="#222" stroke-width="0.75"/>
<circle cx="47.29" cy="406.26" r="1.875" fill="none" stroke="#222" stroke-width="0.75"/>
<circle cx="51.94" cy="404.43" r="1.875" fill="none" stroke="#222" stroke-width="0.75"/>
<circle cx="56.58" cy="402.75" r="1.875" fill="none" stroke="#222" stroke-width="0.75"/>
<circle cx="61.22" cy="401.18" r="1.875" fill="none" stroke="#222" stroke-width="0.75"/>
<circle cx="65.87" cy="399.68" r="1.875" fill="none" stroke="#222" stroke-width="0.75"/>
<circle cx="70.52" cy="398.24" r="1.875" fill="none" stroke="#222" stroke-width="0.75"/>
<circle cx="75.16" cy="396.85" r="1.875" fill="none" stroke="#222" stroke-width="0.75"/>
<circle cx="79.80" cy="395.51" r="1.875" fill="none" stroke="#222" stroke-width="0.75"/>
<circle cx="84.45" cy="394.20" r="1.875" fill="none" stroke="#222" stroke-width="0.75"/>
<circle cx="89.09" cy="392.93" r="1.875" fill="none" stroke="#222" stroke-width="0.75"/>
<circle cx="93.74" cy="391.68" r="1.875" fill="none" stroke="#222" stroke-width="0.75"/>
<circle cx="98.38" cy="390.46" r="1.875" fill="none" stroke="#222" stroke-width="0.75"/>
<circle cx="103.03" cy="389.27" r="1.875" fill="none" stroke="#222" stroke-width="0.75"/>
<circle cx="107.67" cy="388.09" r="1.875" fill="none" stroke="#222" stroke-width="0.75"/>
<circle cx="112.32" cy="386.94" r="1.875" fill="none" stroke="#222" stroke-width="0.75"/>
<circle cx="116.96" cy="385.80" r="1.875" fill="none" stroke="#222" stroke-width="0.75"/>
<circle cx="121.61" cy="384.68" r="1.875" fill="none" stroke="#222" stroke-width="0.75"/>
<circle cx="126.25" cy="383.57" r="1.875" fill="none" stroke="#222" stroke-width="0.75"/>
<circle cx="130.90" cy="382.48" r="1.875" fill="none" stroke="#222" stroke-width="0.75"/>
<circle cx="135.54" cy="381.40" r="1.875" fill="none" stroke="#222" stroke-width="0.75"/>
<circle cx="140.19" cy="380.34" r="1.875" fill="none" stroke="#222" stroke-width="0.75"/>
<circle cx="144.83" cy="379.28" r="1.875" fill="none" stroke="#222" stroke-width="0.75"/>
<circle cx="38.00" cy="411.40" r="1.92" fill="#2e9e2e" stroke="none" stroke-width="1"/>
<circle cx="42.64" cy="409.82" r="1.92" fill="#2e9e2e" stroke="none" stroke-width="1"/>
<circle cx="47.29" cy="408.13" r="1.92" fill="#2e9e2e" stroke="none" stroke-width="1"/>
<circle cx="51.94" cy="406.40" r="1.92" fill="#2e9e2e" stroke="none" stroke-width="1"/>
<circle cx="56.58" cy="404.63" r="1.92" fill="#2e9e2e" stroke="none" stroke-width="1"/>
<circle cx="61.22" cy="402.85" r="1.92" fill="#2e9e2e" stroke="none" stroke-width="1"/>
<circle cx="65.87" cy="401.04" r="1.92" fill="#2e9e2e" stroke="none" stroke-width="1"/>
<circle cx="70.52" cy="399.22" r="1.92" fill="#2e9e2e" stroke="none" stroke-width="1"/>
<circle cx="75.16" cy="397.39" r="1.92" fill="#2e9e2e" stroke="none" stroke-width="1"/>
<circle cx="79.80" cy="395.54" r="1.92" fill="#2e9e2e" stroke="none" stroke-width="1"/>
<circle cx="84.45" cy="393.69" r="1.92" fill="#2e9e2e" stroke="none" stroke-width="1"/>
<circle cx="89.09" cy="391.82" r="1.92" fill="#2e9e2e" stroke="none" stroke-width="1"/>
<circle cx="93.74" cy="389.95" r="1.92" fill="#2e9e2e" stroke="none" stroke-width="1"/>
<circle cx="98.38" cy="388.07" r="1.92" fill="#2e9e2e" stroke="none" stroke-width="1"/>
<circle cx="103.03" cy="386.18" r="1.92" fill="#2e9e2e" stroke="none" stroke-width="1"/>
<circle cx="107.67" cy="384.29" r="1.92" fill="#2e9e2e" stroke="none" stroke-width="1"/>
<circle cx="112.32" cy="382.39" r="1.92" fill="#2e9e2e" stroke="none" stroke-width="1"/>
<circle cx="116.96" cy="380.48" r="1.92" fill="#2e9e2e" stroke="none" stroke-width="1"/>
<circle cx="121.61" cy="378.57" r="1.92" fill="#2e9e2e" stroke="none" stroke-width="1"/>
<circle cx="126.25" cy="376.65" r="1.92" fill="#2e9e2e" stroke="none" stroke-width="1"/>
<circle cx="130.90" cy="374.73" r="1.92" fill="#2e9e2e" stroke="none" stroke-width="1"/>
<circle cx="135.54" cy="372.80" r="1.92" fill="#2e9e2e" stroke="none" stroke-width="1"/>
<circle cx="140.19" cy="370.87" r="1.92" fill="#2e9e2e" stroke="none" stroke-width="1"/>
<circle cx="144.83" cy="368.93" r="1.92" fill="#2e9e2e" stroke="none" stroke-width="1"/>
<path d="M38.00,409.21 L40.08,412.93 L35.92,412.93 Z" fill="#dd1c1c"/>
<path d="M42.64,407.88 L44.72,411.60 L40.57,411.60 Z" fill="#dd1c1c"/>
<path d="M47.29,406.12 L49.37,409.83 L45.21,409.83 Z" fill="#dd1c1c"/>
<path d="M51.94,404.13 L54.01,407.85 L49.86,407.85 Z" fill="#dd1c1c"/>
<path d="M56.58,401.99 L58.66,405.71 L54.50,405.71 Z" fill="#dd1c1c"/>
<path d="M61.22,399.74 L63.30,403.45 L59.15,403.45 Z" fill="#dd1c1c"/>
<path d="M65.87,397.37 L67.95,401.09 L63.79,401.09 Z" fill="#dd1c1c"/>
<path d="M70.52,394.92 L72.59,398.64 L68.44,398.64 Z" fill="#dd1c1c"/>
<path d="M75.16,392.40 L77.24,396.11 L73.08,396.11 Z" fill="#dd1c1c"/>
<path d="M79.80,389.80 L81.88,393.51 L77.73,393.51 Z" fill="#dd1c1c"/>
<path d="M84.45,387.13 L86.53,390.85 L82.37,390.85 Z" fill="#dd1c1c"/>
<path d="M89.09,384.41 L91.17,388.12 L87.02,388.12 Z" fill="#dd1c1c"/>
<path d="M93.74,381.63 L95.82,385.35 L91.66,385.35 Z" fill="#dd1c1c"/>
<path d="M98.38,378.80 L100.46,382.52 L96.31,382.52 Z" fill="#dd1c1c"/>
<path d="M103.03,375.92 L105.11,379.64 L100.95,379.64 Z" fill="#dd1c1c"/>
<path d="M107.67,373.00 L109.75,376.72 L105.60,376.72 Z" fill="#dd1c1c"/>
<path d="M112.32,370.03 L114.40,373.75 L110.24,373.75 Z" fill="#dd1c1c"/>
<path d="M116.96,367.03 L119.04,370.74 L114.89,370.74 Z" fill="#dd1c1c"/>
<path d="M121.61,363.98 L123.69,367.69 L119.53,367.69 Z" fill="#dd1c1c"/>
<path d="M126.25,360.89 L128.33,364.61 L124.18,364.61 Z" fill="#dd1c1c"/>
<path d="M130.90,357.77 L132.98,361.49 L128.82,361.49 Z" fill="#dd1c1c"/>
<path d="M135.54,354.62 L137.62,358.33 L133.47,358.33 Z" fill="#dd1c1c"/>
<path d="M140.19,351.43 L142.27,355.15 L138.11,355.15 Z" fill="#dd1c1c"/>
<path d="M144.83,348.21 L146.91,351.93 L142.76,351.93 Z" fill="#dd1c1c"/>
<rect x="36.30" y="409.69" width="3.41" height="3.41" fill="#b8642a" stroke="none" stroke-width="1" />
<rect x="40.94" y="407.78" width="3.41" height="3.41" fill="#b8642a" stroke="none" stroke-width="1" />
<rect x="45.59" y="405.38" width="3.41" height="3.41" fill="#b8642a" stroke="none" stroke-width="1" />
<rect x="50.23" y="402.76" width="3.41" height="3.41" fill="#b8642a" stroke="none" stroke-width="1" />
<rect x="54.88" y="399.98" width="3.41" height="3.41" fill="#b8642a" stroke="none" stroke-width="1" />
<rect x="59.52" y="397.08" width="3.41" height="3.41" fill="#b8642a" stroke="none" stroke-width="1" />
<rect x="64.17" y="394.08" width="3.41" height="3.41" fill="#b8642a" stroke="none" stroke-width="1" />
<rect x="68.81" y="391.00" width="3.41" height="3.41" fill="#b8642a" stroke="none" stroke-width="1" />
<rect x="73.45" y="387.84" width="3.41" height="3.41" fill="#b8642a" stroke="none" stroke-width="1" />
<rect x="78.10" y="384.61" width="3.41" height="3.41" fill="#b8642a" stroke="none" stroke-width="1" />
<rect x="82.74" y="381.32" width="3.41" height="3.41" fill="#b8642a" stroke="none" stroke-width="1" />
<rect x="87.39" y="377.97" width="3.41" height="3.41" fill="#b8642a" stroke="none" stroke-width="1" />
<rect x="92.03" y="374.57" width="3.41" height="3.41" fill="#b8642a" stroke="none" stroke-width="1" />
<rect x="96.68" y="371.12" width="3.41" height="3.41" fill="#b8642a" stroke="none" stroke-width="1" />
<rect x="101.33" y="367.62" width="3.41" height="3.41" fill="#b8642a" stroke="none" stroke-width="1" />
<rect x="105.97" y="364.09" width="3.41" height="3.41" fill="#b8642a" stroke="none" stroke-width="1" />
<rect x="110.61" y="360.51" width="3.41" height="3.41" fill="#b8642a" stroke="none" stroke-width="1" />
<rect x="115.26" y="356.90" width="3.41" height="3.41" fill="#b8642a" stroke="none" stroke-width="1" />
<rect x="119.90" y="353.24" width="3.41" height="3.41" fill="#b8642a" stroke="none" stroke-width="1" />
<rect x="124.55" y="349.56" width="3.41" height="3.41" fill="#b8642a" stroke="none" stroke-width="1" />
<rect x="129.19" y="345.84" width="3.41" height="3.41" fill="#b8642a" stroke="none" stroke-width="1" />
<rect x="133.84" y="342.09" width="3.41" height="3.41" fill="#b8642a" stroke="none" stroke-width="1" />
<rect x="138.48" y="338.30" width="3.41" height="3.41" fill="#b8642a" stroke="none" stroke-width="1" />
<rect x="143.13" y="334.49" width="3.41" height="3.41" fill="#b8642a" stroke="none" stroke-width="1" />
<path d="M38.00,409.31 L40.09,411.40 L38.00,413.49 L35.91,411.40 Z" fill="#1f2ee8"/>
<path d="M42.64,406.61 L44.73,408.70 L42.64,410.79 L40.55,408.70 Z" fill="#1f2ee8"/>
<path d="M47.29,403.51 L49.38,405.60 L47.29,407.69 L45.20,405.60 Z" fill="#1f2ee8"/>
<path d="M51.94,400.25 L54.03,402.34 L51.94,404.43 L49.84,402.34 Z" fill="#1f2ee8"/>
<path d="M56.58,396.88 L58.67,398.97 L56.58,401.06 L54.49,398.97 Z" fill="#1f2ee8"/>
<path d="M61.22,393.43 L63.31,395.52 L61.22,397.61 L59.13,395.52 Z" fill="#1f2ee8"/>
<path d="M65.87,389.90 L67.96,391.99 L65.87,394.08 L63.78,391.99 Z" fill="#1f2ee8"/>
<path d="M70.52,386.31 L72.61,388.40 L70.52,390.49 L68.42,388.40 Z" fill="#1f2ee8"/>
<path d="M75.16,382.67 L77.25,384.76 L75.16,386.85 L73.07,384.76 Z" fill="#1f2ee8"/>
<path d="M79.80,378.99 L81.89,381.08 L79.80,383.17 L77.71,381.08 Z" fill="#1f2ee8"/>
<path d="M84.45,375.26 L86.54,377.35 L84.45,379.44 L82.36,377.35 Z" fill="#1f2ee8"/>
<path d="M89.09,371.50 L91.19,373.59 L89.09,375.68 L87.00,373.59 Z" fill="#1f2ee8"/>
<path d="M93.74,367.70 L95.83,369.79 L93.74,371.88 L91.65,369.79 Z" fill="#1f2ee8"/>
<path d="M98.38,363.87 L100.47,365.96 L98.38,368.05 L96.29,365.96 Z" fill="#1f2ee8"/>
<path d="M103.03,360.01 L105.12,362.10 L103.03,364.19 L100.94,362.10 Z" fill="#1f2ee8"/>
<path d="M107.67,356.12 L109.77,358.21 L107.67,360.30 L105.58,358.21 Z" fill="#1f2ee8"/>
<path d="M112.32,352.21 L114.41,354.30 L112.32,356.39 L110.23,354.30 Z" fill="#1f2ee8"/>
<path d="M116.96,348.27 L119.05,350.36 L116.96,352.45 L114.87,350.36 Z" fill="#1f2ee8"/>
<path d="M121.61,344.31 L123.70,346.40 L121.61,348.49 L119.52,346.40 Z" fill="#1f2ee8"/>
<path d="M126.25,340.33 L128.34,342.42 L126.25,344.51 L124.16,342.42 Z" fill="#1f2ee8"/>
<path d="M130.90,336.32 L132.99,338.41 L130.90,340.50 L128.81,338.41 Z" fill="#1f2ee8"/>
<path d="M135.54,332.30 L137.63,334.39 L135.54,336.48 L133.45,334.39 Z" fill="#1f2ee8"/>
<path d="M140.19,328.25 L142.28,330.34 L140.19,332.43 L138.10,330.34 Z" fill="#1f2ee8"/>
<path d="M144.83,324.19 L146.92,326.28 L144.83,328.37 L142.74,326.28 Z" fill="#1f2ee8"/>
<text x="146.00" y="318.20" font-family='"Liberation Sans", sans-serif' font-size="6" font-weight="bold" font-style="normal" fill="#1f2ee8" stroke="#1f2ee8" stroke-width="0.15" text-anchor="start"  textLength="26.8" lengthAdjust="spacingAndGlyphs"><tspan>0.5Fe/TiO</tspan><tspan dy="1.80" font-size="4.2">2</tspan></text>
<text x="148.30" y="333.20" font-family='"Liberation Sans", sans-serif' font-size="6" font-weight="bold" font-style="normal" fill="#b8642a" stroke="#b8642a" stroke-width="0.15" text-anchor="start"  textLength="29.5" lengthAdjust="spacingAndGlyphs"><tspan>0.15Fe/TiO</tspan><tspan dy="1.80" font-size="4.2">2</tspan></text>
<text x="149.70" y="350.50" font-family='"Liberation Sans", sans-serif' font-size="6" font-weight="bold" font-style="normal" fill="#dd1c1c" stroke="#dd1c1c" stroke-width="0.15" text-anchor="start"  textLength="28.1" lengthAdjust="spacingAndGlyphs"><tspan>0.75Fe/TiO</tspan><tspan dy="1.80" font-size="4.2">2</tspan></text>
<text x="149.30" y="366.20" font-family='"Liberation Sans", sans-serif' font-size="6" font-weight="bold" font-style="normal" fill="#2e9e2e" stroke="#2e9e2e" stroke-width="0.15" text-anchor="start"  textLength="26" lengthAdjust="spacingAndGlyphs"><tspan>1.2Fe/TiO</tspan><tspan dy="1.80" font-size="4.2">2</tspan></text>
<text x="149.70" y="378.60" font-family='"Liberation Sans", sans-serif' font-size="6" font-weight="normal" font-style="normal" fill="#222" stroke="#222" stroke-width="0.15" text-anchor="start"  textLength="24" lengthAdjust="spacingAndGlyphs"><tspan>0Fe/TiO</tspan><tspan dy="1.80" font-size="4.2">2</tspan></text>
<text x="152.00" y="392.70" font-family='"Liberation Sans", sans-serif' font-size="6" font-weight="bold" font-style="normal" fill="#4b2aa0" stroke="#4b2aa0" stroke-width="0.15" text-anchor="start"  textLength="21.7" lengthAdjust="spacingAndGlyphs"><tspan>2Fe/TiO</tspan><tspan dy="1.80" font-size="4.2">2</tspan></text>
<text x="153.80" y="401.00" font-family='"Liberation Sans", sans-serif' font-size="5.4" font-weight="normal" font-style="normal" fill="#222" stroke="#222" stroke-width="0.15" text-anchor="start"  textLength="26.5" lengthAdjust="spacingAndGlyphs"><tspan>TiO</tspan><tspan dy="1.62" font-size="3.78">2</tspan><tspan dy="-1.62">-Aldrich</tspan></text>
<text x="156.30" y="409.30" font-family='"Liberation Sans", sans-serif' font-size="5.4" font-weight="normal" font-style="normal" fill="#222" stroke="#222" stroke-width="0.15" text-anchor="start"  textLength="16.5" lengthAdjust="spacingAndGlyphs">+ 0.5Fe</text>
<line x1="146.40" y1="403.50" x2="153.00" y2="400.20" stroke="#444" stroke-width="0.45" />
<line x1="141.40" y1="410.00" x2="154.60" y2="407.60" stroke="#444" stroke-width="0.45" />
<text x="179.90" y="308.50" font-family='"Liberation Serif", serif' font-size="11" font-weight="normal" font-style="normal" fill="#111" stroke="#111" stroke-width="0.15" text-anchor="start"  textLength="14.2" lengthAdjust="spacingAndGlyphs">(h)</text>
<line x1="212.50" y1="305.00" x2="212.50" y2="412.00" stroke="#b0b0b0" stroke-width="0.8" />
<line x1="212.50" y1="412.00" x2="351.50" y2="412.00" stroke="#b0b0b0" stroke-width="0.8" />
<line x1="211.00" y1="412.00" x2="212.50" y2="412.00" stroke="#b0b0b0" stroke-width="0.7" />
<text x="208.00" y="414.30" font-family='"Liberation Sans", sans-serif' font-size="6.4" font-weight="normal" font-style="normal" fill="#333" stroke="#333" stroke-width="0.15" text-anchor="end"  textLength="2.85" lengthAdjust="spacingAndGlyphs">0</text>
<line x1="211.00" y1="394.25" x2="212.50" y2="394.25" stroke="#b0b0b0" stroke-width="0.7" />
<text x="208.00" y="396.55" font-family='"Liberation Sans", sans-serif' font-size="6.4" font-weight="normal" font-style="normal" fill="#333" stroke="#333" stroke-width="0.15" text-anchor="end"  textLength="11.4" lengthAdjust="spacingAndGlyphs">1000</text>
<line x1="211.00" y1="376.50" x2="212.50" y2="376.50" stroke="#b0b0b0" stroke-width="0.7" />
<text x="208.00" y="378.80" font-family='"Liberation Sans", sans-serif' font-size="6.4" font-weight="normal" font-style="normal" fill="#333" stroke="#333" stroke-width="0.15" text-anchor="end"  textLength="11.4" lengthAdjust="spacingAndGlyphs">2000</text>
<line x1="211.00" y1="358.75" x2="212.50" y2="358.75" stroke="#b0b0b0" stroke-width="0.7" />
<text x="208.00" y="361.05" font-family='"Liberation Sans", sans-serif' font-size="6.4" font-weight="normal" font-style="normal" fill="#333" stroke="#333" stroke-width="0.15" text-anchor="end"  textLength="11.4" lengthAdjust="spacingAndGlyphs">3000</text>
<line x1="211.00" y1="341.00" x2="212.50" y2="341.00" stroke="#b0b0b0" stroke-width="0.7" />
<text x="208.00" y="343.30" font-family='"Liberation Sans", sans-serif' font-size="6.4" font-weight="normal" font-style="normal" fill="#333" stroke="#333" stroke-width="0.15" text-anchor="end"  textLength="11.4" lengthAdjust="spacingAndGlyphs">4000</text>
<line x1="211.00" y1="323.25" x2="212.50" y2="323.25" stroke="#b0b0b0" stroke-width="0.7" />
<text x="208.00" y="325.55" font-family='"Liberation Sans", sans-serif' font-size="6.4" font-weight="normal" font-style="normal" fill="#333" stroke="#333" stroke-width="0.15" text-anchor="end"  textLength="11.4" lengthAdjust="spacingAndGlyphs">5000</text>
<line x1="211.00" y1="305.50" x2="212.50" y2="305.50" stroke="#b0b0b0" stroke-width="0.7" />
<text x="208.00" y="307.80" font-family='"Liberation Sans", sans-serif' font-size="6.4" font-weight="normal" font-style="normal" fill="#333" stroke="#333" stroke-width="0.15" text-anchor="end"  textLength="11.4" lengthAdjust="spacingAndGlyphs">6000</text>
<line x1="212.50" y1="412.00" x2="212.50" y2="413.50" stroke="#b0b0b0" stroke-width="0.7" />
<text x="212.50" y="421.00" font-family='"Liberation Sans", sans-serif' font-size="6.4" font-weight="normal" font-style="normal" fill="#333" stroke="#333" stroke-width="0.15" text-anchor="middle"  textLength="2.9" lengthAdjust="spacingAndGlyphs">0</text>
<line x1="235.65" y1="412.00" x2="235.65" y2="413.50" stroke="#b0b0b0" stroke-width="0.7" />
<text x="235.65" y="421.00" font-family='"Liberation Sans", sans-serif' font-size="6.4" font-weight="normal" font-style="normal" fill="#333" stroke="#333" stroke-width="0.15" text-anchor="middle"  textLength="2.9" lengthAdjust="spacingAndGlyphs">5</text>
<line x1="258.80" y1="412.00" x2="258.80" y2="413.50" stroke="#b0b0b0" stroke-width="0.7" />
<text x="258.80" y="421.00" font-family='"Liberation Sans", sans-serif' font-size="6.4" font-weight="normal" font-style="normal" fill="#333" stroke="#333" stroke-width="0.15" text-anchor="middle"  textLength="5.8" lengthAdjust="spacingAndGlyphs">10</text>
<line x1="281.95" y1="412.00" x2="281.95" y2="413.50" stroke="#b0b0b0" stroke-width="0.7" />
<text x="281.95" y="421.00" font-family='"Liberation Sans", sans-serif' font-size="6.4" font-weight="normal" font-style="normal" fill="#333" stroke="#333" stroke-width="0.15" text-anchor="middle"  textLength="5.8" lengthAdjust="spacingAndGlyphs">15</text>
<line x1="305.10" y1="412.00" x2="305.10" y2="413.50" stroke="#b0b0b0" stroke-width="0.7" />
<text x="305.10" y="421.00" font-family='"Liberation Sans", sans-serif' font-size="6.4" font-weight="normal" font-style="normal" fill="#333" stroke="#333" stroke-width="0.15" text-anchor="middle"  textLength="5.8" lengthAdjust="spacingAndGlyphs">20</text>
<line x1="328.25" y1="412.00" x2="328.25" y2="413.50" stroke="#b0b0b0" stroke-width="0.7" />
<text x="328.25" y="421.00" font-family='"Liberation Sans", sans-serif' font-size="6.4" font-weight="normal" font-style="normal" fill="#333" stroke="#333" stroke-width="0.15" text-anchor="middle"  textLength="5.8" lengthAdjust="spacingAndGlyphs">25</text>
<line x1="351.40" y1="412.00" x2="351.40" y2="413.50" stroke="#b0b0b0" stroke-width="0.7" />
<text x="351.40" y="421.00" font-family='"Liberation Sans", sans-serif' font-size="6.4" font-weight="normal" font-style="normal" fill="#333" stroke="#333" stroke-width="0.15" text-anchor="middle"  textLength="5.8" lengthAdjust="spacingAndGlyphs">30</text>
<text x="270.5" y="430.5" font-family='"Liberation Sans", sans-serif' font-size="6.8" fill="#333" textLength="22.3" lengthAdjust="spacingAndGlyphs"><tspan font-style="italic">Time</tspan> / h</text>
<text x="192.9" y="380.8" font-family='"Liberation Sans", sans-serif' font-size="5.8" fill="#333" transform="rotate(-90 192.9 380.8)" textLength="66.7" lengthAdjust="spacingAndGlyphs"><tspan font-style="italic">H</tspan><tspan font-size="4.5" dy="1.5">2</tspan><tspan dy="-1.5" font-style="italic"> evolution</tspan> / / μmol g<tspan font-size="4.5" dy="1.5">cat</tspan><tspan font-size="4.5" dy="-4">-1</tspan></text>
<path d="M211.15,410.65 L213.85,413.35 M213.85,410.65 L211.15,413.35" stroke="#555" stroke-width="0.95"/>
<path d="M215.78,409.58 L218.48,412.29 M218.48,409.58 L215.78,412.29" stroke="#555" stroke-width="0.95"/>
<path d="M220.41,408.34 L223.11,411.04 M223.11,408.34 L220.41,411.04" stroke="#555" stroke-width="0.95"/>
<path d="M225.04,407.10 L227.74,409.80 M227.74,407.10 L225.04,409.80" stroke="#555" stroke-width="0.95"/>
<path d="M229.67,405.75 L232.37,408.45 M232.37,405.75 L229.67,408.45" stroke="#555" stroke-width="0.95"/>
<path d="M234.30,405.31 L237.00,408.01 M237.00,405.31 L234.30,408.01" stroke="#555" stroke-width="0.95"/>
<path d="M238.93,404.87 L241.63,407.57 M241.63,404.87 L238.93,407.57" stroke="#555" stroke-width="0.95"/>
<path d="M243.56,404.43 L246.26,407.13 M246.26,404.43 L243.56,407.13" stroke="#555" stroke-width="0.95"/>
<path d="M248.19,403.99 L250.89,406.69 M250.89,403.99 L248.19,406.69" stroke="#555" stroke-width="0.95"/>
<path d="M252.82,403.61 L255.52,406.31 M255.52,403.61 L252.82,406.31" stroke="#555" stroke-width="0.95"/>
<path d="M257.45,403.22 L260.15,405.92 M260.15,403.22 L257.45,405.92" stroke="#555" stroke-width="0.95"/>
<path d="M262.08,402.84 L264.78,405.54 M264.78,402.84 L262.08,405.54" stroke="#555" stroke-width="0.95"/>
<path d="M266.71,402.45 L269.41,405.15 M269.41,402.45 L266.71,405.15" stroke="#555" stroke-width="0.95"/>
<path d="M271.34,402.17 L274.04,404.87 M274.04,402.17 L271.34,404.87" stroke="#555" stroke-width="0.95"/>
<path d="M275.97,401.90 L278.67,404.60 M278.67,401.90 L275.97,404.60" stroke="#555" stroke-width="0.95"/>
<path d="M280.60,401.62 L283.30,404.32 M283.30,401.62 L280.60,404.32" stroke="#555" stroke-width="0.95"/>
<path d="M285.23,401.35 L287.93,404.05 M287.93,401.35 L285.23,404.05" stroke="#555" stroke-width="0.95"/>
<path d="M289.86,401.19 L292.56,403.89 M292.56,401.19 L289.86,403.89" stroke="#555" stroke-width="0.95"/>
<path d="M294.49,401.03 L297.19,403.73 M297.19,401.03 L294.49,403.73" stroke="#555" stroke-width="0.95"/>
<path d="M299.12,400.88 L301.82,403.58 M301.82,400.88 L299.12,403.58" stroke="#555" stroke-width="0.95"/>
<path d="M303.75,400.72 L306.45,403.42 M306.45,400.72 L303.75,403.42" stroke="#555" stroke-width="0.95"/>
<path d="M308.38,400.56 L311.08,403.26 M311.08,400.56 L308.38,403.26" stroke="#555" stroke-width="0.95"/>
<path d="M313.01,400.41 L315.71,403.11 M315.71,400.41 L313.01,403.11" stroke="#555" stroke-width="0.95"/>
<path d="M317.64,400.25 L320.34,402.95 M320.34,400.25 L317.64,402.95" stroke="#555" stroke-width="0.95"/>
<path d="M212.50,410.10 L214.31,413.33 L210.69,413.33 Z" fill="#3a8ee8"/>
<path d="M217.13,409.57 L218.94,412.80 L215.32,412.80 Z" fill="#3a8ee8"/>
<path d="M221.76,408.68 L223.56,411.91 L219.95,411.91 Z" fill="#3a8ee8"/>
<path d="M226.39,407.44 L228.19,410.67 L224.58,410.67 Z" fill="#3a8ee8"/>
<path d="M231.02,406.30 L232.83,409.53 L229.22,409.53 Z" fill="#3a8ee8"/>
<path d="M235.65,405.61 L237.46,408.84 L233.84,408.84 Z" fill="#3a8ee8"/>
<path d="M240.28,404.93 L242.09,408.16 L238.47,408.16 Z" fill="#3a8ee8"/>
<path d="M244.91,404.24 L246.72,407.47 L243.10,407.47 Z" fill="#3a8ee8"/>
<path d="M249.54,403.55 L251.34,406.78 L247.73,406.78 Z" fill="#3a8ee8"/>
<path d="M254.17,402.86 L255.98,406.09 L252.37,406.09 Z" fill="#3a8ee8"/>
<path d="M258.80,402.17 L260.61,405.40 L257.00,405.40 Z" fill="#3a8ee8"/>
<path d="M263.43,401.49 L265.24,404.72 L261.62,404.72 Z" fill="#3a8ee8"/>
<path d="M268.06,400.80 L269.87,404.03 L266.25,404.03 Z" fill="#3a8ee8"/>
<path d="M272.69,400.00 L274.50,403.23 L270.88,403.23 Z" fill="#3a8ee8"/>
<path d="M277.32,399.20 L279.12,402.43 L275.51,402.43 Z" fill="#3a8ee8"/>
<path d="M281.95,398.40 L283.75,401.63 L280.14,401.63 Z" fill="#3a8ee8"/>
<path d="M286.58,397.60 L288.38,400.83 L284.77,400.83 Z" fill="#3a8ee8"/>
<path d="M291.21,397.05 L293.01,400.28 L289.40,400.28 Z" fill="#3a8ee8"/>
<path d="M295.84,396.50 L297.65,399.73 L294.04,399.73 Z" fill="#3a8ee8"/>
<path d="M300.47,395.95 L302.28,399.18 L298.67,399.18 Z" fill="#3a8ee8"/>
<path d="M305.10,395.40 L306.91,398.63 L303.30,398.63 Z" fill="#3a8ee8"/>
<path d="M309.73,394.67 L311.54,397.90 L307.93,397.90 Z" fill="#3a8ee8"/>
<path d="M314.36,393.94 L316.17,397.17 L312.56,397.17 Z" fill="#3a8ee8"/>
<path d="M318.99,393.20 L320.80,396.43 L317.19,396.43 Z" fill="#3a8ee8"/>
<circle cx="212.50" cy="412.00" r="1.6" fill="#9a1010" stroke="none" stroke-width="1"/>
<circle cx="217.13" cy="411.64" r="1.6" fill="#9a1010" stroke="none" stroke-width="1"/>
<circle cx="221.76" cy="410.58" r="1.6" fill="#9a1010" stroke="none" stroke-width="1"/>
<circle cx="226.39" cy="408.81" r="1.6" fill="#9a1010" stroke="none" stroke-width="1"/>
<circle cx="231.02" cy="406.69" r="1.6" fill="#9a1010" stroke="none" stroke-width="1"/>
<circle cx="235.65" cy="404.90" r="1.6" fill="#9a1010" stroke="none" stroke-width="1"/>
<circle cx="240.28" cy="403.10" r="1.6" fill="#9a1010" stroke="none" stroke-width="1"/>
<circle cx="244.91" cy="401.30" r="1.6" fill="#9a1010" stroke="none" stroke-width="1"/>
<circle cx="249.54" cy="399.50" r="1.6" fill="#9a1010" stroke="none" stroke-width="1"/>
<circle cx="254.17" cy="396.50" r="1.6" fill="#9a1010" stroke="none" stroke-width="1"/>
<circle cx="258.80" cy="393.50" r="1.6" fill="#9a1010" stroke="none" stroke-width="1"/>
<circle cx="263.43" cy="390.50" r="1.6" fill="#9a1010" stroke="none" stroke-width="1"/>
<circle cx="268.06" cy="387.50" r="1.6" fill="#9a1010" stroke="none" stroke-width="1"/>
<circle cx="272.69" cy="385.30" r="1.6" fill="#9a1010" stroke="none" stroke-width="1"/>
<circle cx="277.32" cy="383.10" r="1.6" fill="#9a1010" stroke="none" stroke-width="1"/>
<circle cx="281.95" cy="380.90" r="1.6" fill="#9a1010" stroke="none" stroke-width="1"/>
<circle cx="286.58" cy="378.70" r="1.6" fill="#9a1010" stroke="none" stroke-width="1"/>
<circle cx="291.21" cy="376.53" r="1.6" fill="#9a1010" stroke="none" stroke-width="1"/>
<circle cx="295.84" cy="374.35" r="1.6" fill="#9a1010" stroke="none" stroke-width="1"/>
<circle cx="300.47" cy="372.18" r="1.6" fill="#9a1010" stroke="none" stroke-width="1"/>
<circle cx="305.10" cy="370.00" r="1.6" fill="#9a1010" stroke="none" stroke-width="1"/>
<circle cx="309.73" cy="368.54" r="1.6" fill="#9a1010" stroke="none" stroke-width="1"/>
<circle cx="314.36" cy="367.07" r="1.6" fill="#9a1010" stroke="none" stroke-width="1"/>
<circle cx="318.99" cy="365.60" r="1.6" fill="#9a1010" stroke="none" stroke-width="1"/>
<path d="M212.50,410.19 L214.31,412.00 L212.50,413.81 L210.69,412.00 Z" fill="#4caf3a"/>
<path d="M217.13,409.66 L218.94,411.47 L217.13,413.27 L215.32,411.47 Z" fill="#4caf3a"/>
<path d="M221.76,407.53 L223.56,409.34 L221.76,411.14 L219.95,409.34 Z" fill="#4caf3a"/>
<path d="M226.39,404.87 L228.19,406.68 L226.39,408.48 L224.58,406.68 Z" fill="#4caf3a"/>
<path d="M231.02,400.89 L232.83,402.70 L231.02,404.50 L229.22,402.70 Z" fill="#4caf3a"/>
<path d="M235.65,397.89 L237.46,399.70 L235.65,401.50 L233.84,399.70 Z" fill="#4caf3a"/>
<path d="M240.28,394.89 L242.09,396.70 L240.28,398.50 L238.47,396.70 Z" fill="#4caf3a"/>
<path d="M244.91,391.89 L246.72,393.70 L244.91,395.50 L243.10,393.70 Z" fill="#4caf3a"/>
<path d="M249.54,388.89 L251.34,390.70 L249.54,392.50 L247.73,390.70 Z" fill="#4caf3a"/>
<path d="M254.17,384.97 L255.98,386.78 L254.17,388.58 L252.37,386.78 Z" fill="#4caf3a"/>
<path d="M258.80,381.05 L260.61,382.85 L258.80,384.66 L257.00,382.85 Z" fill="#4caf3a"/>
<path d="M263.43,377.13 L265.24,378.93 L263.43,380.74 L261.62,378.93 Z" fill="#4caf3a"/>
<path d="M268.06,373.20 L269.87,375.01 L268.06,376.81 L266.25,375.01 Z" fill="#4caf3a"/>
<path d="M272.69,369.60 L274.50,371.41 L272.69,373.21 L270.88,371.41 Z" fill="#4caf3a"/>
<path d="M277.32,366.00 L279.12,367.80 L277.32,369.61 L275.51,367.80 Z" fill="#4caf3a"/>
<path d="M281.95,362.39 L283.75,364.20 L281.95,366.00 L280.14,364.20 Z" fill="#4caf3a"/>
<path d="M286.58,358.79 L288.38,360.60 L286.58,362.40 L284.77,360.60 Z" fill="#4caf3a"/>
<path d="M291.21,355.14 L293.01,356.95 L291.21,358.75 L289.40,356.95 Z" fill="#4caf3a"/>
<path d="M295.84,351.50 L297.65,353.30 L295.84,355.11 L294.04,353.30 Z" fill="#4caf3a"/>
<path d="M300.47,347.85 L302.28,349.65 L300.47,351.46 L298.67,349.65 Z" fill="#4caf3a"/>
<path d="M305.10,344.20 L306.91,346.01 L305.10,347.81 L303.30,346.01 Z" fill="#4caf3a"/>
<path d="M309.73,341.86 L311.54,343.67 L309.73,345.47 L307.93,343.67 Z" fill="#4caf3a"/>
<path d="M314.36,339.53 L316.17,341.33 L314.36,343.14 L312.56,341.33 Z" fill="#4caf3a"/>
<path d="M318.99,337.19 L320.80,338.99 L318.99,340.80 L317.19,338.99 Z" fill="#4caf3a"/>
<path d="M211.00,410.50 L214.00,413.50 M214.00,410.50 L211.00,413.50" stroke="#8b1a1a" stroke-width="1.15"/>
<path d="M215.63,409.79 L218.63,412.79 M218.63,409.79 L215.63,412.79" stroke="#8b1a1a" stroke-width="1.15"/>
<path d="M220.26,407.09 L223.26,410.09 M223.26,407.09 L220.26,410.09" stroke="#8b1a1a" stroke-width="1.15"/>
<path d="M224.89,403.81 L227.89,406.81 M227.89,403.81 L224.89,406.81" stroke="#8b1a1a" stroke-width="1.15"/>
<path d="M229.52,398.00 L232.52,401.00 M232.52,398.00 L229.52,401.00" stroke="#8b1a1a" stroke-width="1.15"/>
<path d="M234.15,397.29 L237.15,400.29 M237.15,397.29 L234.15,400.29" stroke="#8b1a1a" stroke-width="1.15"/>
<path d="M238.78,393.60 L241.78,396.60 M241.78,393.60 L238.78,396.60" stroke="#8b1a1a" stroke-width="1.15"/>
<path d="M243.41,389.70 L246.41,392.70 M246.41,389.70 L243.41,392.70" stroke="#8b1a1a" stroke-width="1.15"/>
<path d="M248.04,386.00 L251.04,389.00 M251.04,386.00 L248.04,389.00" stroke="#8b1a1a" stroke-width="1.15"/>
<path d="M252.67,382.15 L255.67,385.15 M255.67,382.15 L252.67,385.15" stroke="#8b1a1a" stroke-width="1.15"/>
<path d="M257.30,378.30 L260.30,381.30 M260.30,378.30 L257.30,381.30" stroke="#8b1a1a" stroke-width="1.15"/>
<path d="M261.93,374.27 L264.93,377.27 M264.93,374.27 L261.93,377.27" stroke="#8b1a1a" stroke-width="1.15"/>
<path d="M266.56,370.24 L269.56,373.24 M269.56,370.24 L266.56,373.24" stroke="#8b1a1a" stroke-width="1.15"/>
<path d="M271.19,366.42 L274.19,369.42 M274.19,366.42 L271.19,369.42" stroke="#8b1a1a" stroke-width="1.15"/>
<path d="M275.82,362.59 L278.82,365.59 M278.82,362.59 L275.82,365.59" stroke="#8b1a1a" stroke-width="1.15"/>
<path d="M280.45,358.45 L283.45,361.45 M283.45,358.45 L280.45,361.45" stroke="#8b1a1a" stroke-width="1.15"/>
<path d="M285.08,354.30 L288.08,357.30 M288.08,354.30 L285.08,357.30" stroke="#8b1a1a" stroke-width="1.15"/>
<path d="M289.71,350.80 L292.71,353.80 M292.71,350.80 L289.71,353.80" stroke="#8b1a1a" stroke-width="1.15"/>
<path d="M294.34,347.29 L297.34,350.29 M297.34,347.29 L294.34,350.29" stroke="#8b1a1a" stroke-width="1.15"/>
<path d="M298.97,343.70 L301.97,346.70 M301.97,343.70 L298.97,346.70" stroke="#8b1a1a" stroke-width="1.15"/>
<path d="M303.60,340.10 L306.60,343.10 M306.60,340.10 L303.60,343.10" stroke="#8b1a1a" stroke-width="1.15"/>
<path d="M308.23,336.50 L311.23,339.50 M311.23,336.50 L308.23,339.50" stroke="#8b1a1a" stroke-width="1.15"/>
<path d="M312.86,332.90 L315.86,335.90 M315.86,332.90 L312.86,335.90" stroke="#8b1a1a" stroke-width="1.15"/>
<path d="M317.49,329.20 L320.49,332.20 M320.49,329.20 L317.49,332.20" stroke="#8b1a1a" stroke-width="1.15"/>
<text x="311.50" y="317.90" font-family='"Liberation Sans", sans-serif' font-size="6" font-weight="bold" font-style="normal" fill="#9a1a1a" stroke="#9a1a1a" stroke-width="0.15" text-anchor="start"  textLength="40.5" lengthAdjust="spacingAndGlyphs"><tspan>0.15Fe/TiO</tspan><tspan dy="1.80" font-size="4.2">2</tspan><tspan dy="-1.80">-700</tspan></text>
<line x1="320.60" y1="320.70" x2="318.90" y2="326.50" stroke="#9a1a1a" stroke-width="0.5" />
<text x="315.60" y="348.00" font-family='"Liberation Sans", sans-serif' font-size="6" font-weight="bold" font-style="normal" fill="#4caf3a" stroke="#4caf3a" stroke-width="0.15" text-anchor="start"  textLength="37.2" lengthAdjust="spacingAndGlyphs"><tspan>0.5Fe/TiO</tspan><tspan dy="1.80" font-size="4.2">2</tspan><tspan dy="-1.80">-500</tspan></text>
<text x="309.00" y="361.30" font-family='"Liberation Sans", sans-serif' font-size="6" font-weight="bold" font-style="normal" fill="#9a1a1a" stroke="#9a1a1a" stroke-width="0.15" text-anchor="start"  textLength="37.2" lengthAdjust="spacingAndGlyphs"><tspan>0.5Fe/TiO</tspan><tspan dy="1.80" font-size="4.2">2</tspan><tspan dy="-1.80">-700</tspan></text>
<text x="309.80" y="387.70" font-family='"Liberation Sans", sans-serif' font-size="6" font-weight="normal" font-style="normal" fill="#3a8ee8" stroke="#3a8ee8" stroke-width="0.15" text-anchor="start"  textLength="38" lengthAdjust="spacingAndGlyphs"><tspan>0.5Fe/TiO</tspan><tspan dy="1.80" font-size="4.2">2</tspan><tspan dy="-1.80">-900</tspan></text>
<text x="324.70" y="406.00" font-family='"Liberation Sans", sans-serif' font-size="6" font-weight="bold" font-style="normal" fill="#333" stroke="#333" stroke-width="0.15" text-anchor="start"  textLength="19" lengthAdjust="spacingAndGlyphs">MIL-125</text>
<text x="356.80" y="310.40" font-family='"Liberation Serif", serif' font-size="11" font-weight="normal" font-style="normal" fill="#111" stroke="#111" stroke-width="0.15" text-anchor="start"  textLength="11.5" lengthAdjust="spacingAndGlyphs">(i)</text>
<line x1="386.50" y1="308.50" x2="386.50" y2="415.00" stroke="#b0b0b0" stroke-width="0.8" />
<line x1="386.50" y1="415.00" x2="540.00" y2="415.00" stroke="#b0b0b0" stroke-width="0.8" />
<line x1="385.00" y1="415.00" x2="386.50" y2="415.00" stroke="#b0b0b0" stroke-width="0.7" />
<text x="382.00" y="417.30" font-family='"Liberation Sans", sans-serif' font-size="6.8" font-weight="normal" font-style="normal" fill="#333" stroke="#333" stroke-width="0.15" text-anchor="end"  textLength="2.85" lengthAdjust="spacingAndGlyphs">0</text>
<line x1="385.00" y1="401.70" x2="386.50" y2="401.70" stroke="#b0b0b0" stroke-width="0.7" />
<text x="382.00" y="404.00" font-family='"Liberation Sans", sans-serif' font-size="6.8" font-weight="normal" font-style="normal" fill="#333" stroke="#333" stroke-width="0.15" text-anchor="end"  textLength="5.7" lengthAdjust="spacingAndGlyphs">50</text>
<line x1="385.00" y1="388.40" x2="386.50" y2="388.40" stroke="#b0b0b0" stroke-width="0.7" />
<text x="382.00" y="390.70" font-family='"Liberation Sans", sans-serif' font-size="6.8" font-weight="normal" font-style="normal" fill="#333" stroke="#333" stroke-width="0.15" text-anchor="end"  textLength="8.55" lengthAdjust="spacingAndGlyphs">100</text>
<line x1="385.00" y1="375.10" x2="386.50" y2="375.10" stroke="#b0b0b0" stroke-width="0.7" />
<text x="382.00" y="377.40" font-family='"Liberation Sans", sans-serif' font-size="6.8" font-weight="normal" font-style="normal" fill="#333" stroke="#333" stroke-width="0.15" text-anchor="end"  textLength="8.55" lengthAdjust="spacingAndGlyphs">150</text>
<line x1="385.00" y1="361.80" x2="386.50" y2="361.80" stroke="#b0b0b0" stroke-width="0.7" />
<text x="382.00" y="364.10" font-family='"Liberation Sans", sans-serif' font-size="6.8" font-weight="normal" font-style="normal" fill="#333" stroke="#333" stroke-width="0.15" text-anchor="end"  textLength="8.55" lengthAdjust="spacingAndGlyphs">200</text>
<line x1="385.00" y1="348.50" x2="386.50" y2="348.50" stroke="#b0b0b0" stroke-width="0.7" />
<text x="382.00" y="350.80" font-family='"Liberation Sans", sans-serif' font-size="6.8" font-weight="normal" font-style="normal" fill="#333" stroke="#333" stroke-width="0.15" text-anchor="end"  textLength="8.55" lengthAdjust="spacingAndGlyphs">250</text>
<line x1="385.00" y1="335.20" x2="386.50" y2="335.20" stroke="#b0b0b0" stroke-width="0.7" />
<text x="382.00" y="337.50" font-family='"Liberation Sans", sans-serif' font-size="6.8" font-weight="normal" font-style="normal" fill="#333" stroke="#333" stroke-width="0.15" text-anchor="end"  textLength="8.55" lengthAdjust="spacingAndGlyphs">300</text>
<line x1="385.00" y1="321.90" x2="386.50" y2="321.90" stroke="#b0b0b0" stroke-width="0.7" />
<text x="382.00" y="324.20" font-family='"Liberation Sans", sans-serif' font-size="6.8" font-weight="normal" font-style="normal" fill="#333" stroke="#333" stroke-width="0.15" text-anchor="end"  textLength="8.55" lengthAdjust="spacingAndGlyphs">350</text>
<line x1="385.00" y1="308.60" x2="386.50" y2="308.60" stroke="#b0b0b0" stroke-width="0.7" />
<text x="382.00" y="310.90" font-family='"Liberation Sans", sans-serif' font-size="6.8" font-weight="normal" font-style="normal" fill="#333" stroke="#333" stroke-width="0.15" text-anchor="end"  textLength="8.55" lengthAdjust="spacingAndGlyphs">400</text>
<line x1="386.50" y1="415.00" x2="386.50" y2="416.50" stroke="#b0b0b0" stroke-width="0.7" />
<text x="386.50" y="424.00" font-family='"Liberation Sans", sans-serif' font-size="6.8" font-weight="normal" font-style="normal" fill="#333" stroke="#333" stroke-width="0.15" text-anchor="middle"  textLength="2.9" lengthAdjust="spacingAndGlyphs">0</text>
<line x1="412.10" y1="415.00" x2="412.10" y2="416.50" stroke="#b0b0b0" stroke-width="0.7" />
<text x="412.10" y="424.00" font-family='"Liberation Sans", sans-serif' font-size="6.8" font-weight="normal" font-style="normal" fill="#333" stroke="#333" stroke-width="0.15" text-anchor="middle"  textLength="2.9" lengthAdjust="spacingAndGlyphs">5</text>
<line x1="437.70" y1="415.00" x2="437.70" y2="416.50" stroke="#b0b0b0" stroke-width="0.7" />
<text x="437.70" y="424.00" font-family='"Liberation Sans", sans-serif' font-size="6.8" font-weight="normal" font-style="normal" fill="#333" stroke="#333" stroke-width="0.15" text-anchor="middle"  textLength="5.8" lengthAdjust="spacingAndGlyphs">10</text>
<line x1="463.30" y1="415.00" x2="463.30" y2="416.50" stroke="#b0b0b0" stroke-width="0.7" />
<text x="463.30" y="424.00" font-family='"Liberation Sans", sans-serif' font-size="6.8" font-weight="normal" font-style="normal" fill="#333" stroke="#333" stroke-width="0.15" text-anchor="middle"  textLength="5.8" lengthAdjust="spacingAndGlyphs">15</text>
<line x1="488.90" y1="415.00" x2="488.90" y2="416.50" stroke="#b0b0b0" stroke-width="0.7" />
<text x="488.90" y="424.00" font-family='"Liberation Sans", sans-serif' font-size="6.8" font-weight="normal" font-style="normal" fill="#333" stroke="#333" stroke-width="0.15" text-anchor="middle"  textLength="5.8" lengthAdjust="spacingAndGlyphs">20</text>
<line x1="514.50" y1="415.00" x2="514.50" y2="416.50" stroke="#b0b0b0" stroke-width="0.7" />
<text x="514.50" y="424.00" font-family='"Liberation Sans", sans-serif' font-size="6.8" font-weight="normal" font-style="normal" fill="#333" stroke="#333" stroke-width="0.15" text-anchor="middle"  textLength="5.8" lengthAdjust="spacingAndGlyphs">25</text>
<line x1="540.10" y1="415.00" x2="540.10" y2="416.50" stroke="#b0b0b0" stroke-width="0.7" />
<text x="540.10" y="424.00" font-family='"Liberation Sans", sans-serif' font-size="6.8" font-weight="normal" font-style="normal" fill="#333" stroke="#333" stroke-width="0.15" text-anchor="middle"  textLength="5.8" lengthAdjust="spacingAndGlyphs">30</text>
<text x="452" y="431.5" font-family='"Liberation Sans", sans-serif' font-size="6.8" fill="#333" textLength="22.3" lengthAdjust="spacingAndGlyphs"><tspan font-style="italic">Time</tspan> / h</text>
<text x="366.9" y="393.1" font-family='"Liberation Sans", sans-serif' font-size="7" fill="#333" transform="rotate(-90 366.9 393.1)" textLength="73.8" lengthAdjust="spacingAndGlyphs"><tspan font-style="italic">H</tspan><tspan font-size="4.8" dy="1.5">2</tspan><tspan dy="-1.5" font-style="italic"> evolution</tspan> / μmol g<tspan font-size="4.8" dy="1.5">cat</tspan><tspan font-size="4.8" dy="-4">-1</tspan></text>
<path d="M385.25,413.48 L387.75,415.98 M387.75,413.48 L385.25,415.98" stroke="#666" stroke-width="0.8"/>
<path d="M390.37,413.48 L392.87,415.98 M392.87,413.48 L390.37,415.98" stroke="#666" stroke-width="0.8"/>
<path d="M395.49,413.48 L397.99,415.98 M397.99,413.48 L395.49,415.98" stroke="#666" stroke-width="0.8"/>
<path d="M400.61,413.48 L403.11,415.98 M403.11,413.48 L400.61,415.98" stroke="#666" stroke-width="0.8"/>
<path d="M405.73,413.48 L408.23,415.98 M408.23,413.48 L405.73,415.98" stroke="#666" stroke-width="0.8"/>
<path d="M410.85,413.48 L413.35,415.98 M413.35,413.48 L410.85,415.98" stroke="#666" stroke-width="0.8"/>
<path d="M415.97,413.48 L418.47,415.98 M418.47,413.48 L415.97,415.98" stroke="#666" stroke-width="0.8"/>
<path d="M421.09,413.48 L423.59,415.98 M423.59,413.48 L421.09,415.98" stroke="#666" stroke-width="0.8"/>
<path d="M426.21,413.48 L428.71,415.98 M428.71,413.48 L426.21,415.98" stroke="#666" stroke-width="0.8"/>
<path d="M431.33,413.48 L433.83,415.98 M433.83,413.48 L431.33,415.98" stroke="#666" stroke-width="0.8"/>
<path d="M436.45,413.48 L438.95,415.98 M438.95,413.48 L436.45,415.98" stroke="#666" stroke-width="0.8"/>
<path d="M441.57,413.48 L444.07,415.98 M444.07,413.48 L441.57,415.98" stroke="#666" stroke-width="0.8"/>
<path d="M446.69,413.48 L449.19,415.98 M449.19,413.48 L446.69,415.98" stroke="#666" stroke-width="0.8"/>
<path d="M451.81,413.48 L454.31,415.98 M454.31,413.48 L451.81,415.98" stroke="#666" stroke-width="0.8"/>
<path d="M456.93,413.48 L459.43,415.98 M459.43,413.48 L456.93,415.98" stroke="#666" stroke-width="0.8"/>
<path d="M462.05,413.48 L464.55,415.98 M464.55,413.48 L462.05,415.98" stroke="#666" stroke-width="0.8"/>
<path d="M467.17,413.48 L469.67,415.98 M469.67,413.48 L467.17,415.98" stroke="#666" stroke-width="0.8"/>
<path d="M472.29,413.48 L474.79,415.98 M474.79,413.48 L472.29,415.98" stroke="#666" stroke-width="0.8"/>
<path d="M477.41,413.48 L479.91,415.98 M479.91,413.48 L477.41,415.98" stroke="#666" stroke-width="0.8"/>
<path d="M482.53,413.48 L485.03,415.98 M485.03,413.48 L482.53,415.98" stroke="#666" stroke-width="0.8"/>
<path d="M487.65,413.48 L490.15,415.98 M490.15,413.48 L487.65,415.98" stroke="#666" stroke-width="0.8"/>
<path d="M492.77,413.48 L495.27,415.98 M495.27,413.48 L492.77,415.98" stroke="#666" stroke-width="0.8"/>
<path d="M497.89,413.48 L500.39,415.98 M500.39,413.48 L497.89,415.98" stroke="#666" stroke-width="0.8"/>
<path d="M503.01,413.48 L505.51,415.98 M505.51,413.48 L503.01,415.98" stroke="#666" stroke-width="0.8"/>
<circle cx="386.50" cy="415.00" r="1.7249999999999999" fill="none" stroke="#222" stroke-width="0.75"/>
<circle cx="391.62" cy="414.66" r="1.7249999999999999" fill="none" stroke="#222" stroke-width="0.75"/>
<circle cx="396.74" cy="414.28" r="1.7249999999999999" fill="none" stroke="#222" stroke-width="0.75"/>
<circle cx="401.86" cy="413.87" r="1.7249999999999999" fill="none" stroke="#222" stroke-width="0.75"/>
<circle cx="406.98" cy="413.45" r="1.7249999999999999" fill="none" stroke="#222" stroke-width="0.75"/>
<circle cx="412.10" cy="413.01" r="1.7249999999999999" fill="none" stroke="#222" stroke-width="0.75"/>
<circle cx="417.22" cy="412.57" r="1.7249999999999999" fill="none" stroke="#222" stroke-width="0.75"/>
<circle cx="422.34" cy="412.12" r="1.7249999999999999" fill="none" stroke="#222" stroke-width="0.75"/>
<circle cx="427.46" cy="411.67" r="1.7249999999999999" fill="none" stroke="#222" stroke-width="0.75"/>
<circle cx="432.58" cy="411.21" r="1.7249999999999999" fill="none" stroke="#222" stroke-width="0.75"/>
<circle cx="437.70" cy="410.74" r="1.7249999999999999" fill="none" stroke="#222" stroke-width="0.75"/>
<circle cx="442.82" cy="410.27" r="1.7249999999999999" fill="none" stroke="#222" stroke-width="0.75"/>
<circle cx="447.94" cy="409.80" r="1.7249999999999999" fill="none" stroke="#222" stroke-width="0.75"/>
<circle cx="453.06" cy="409.32" r="1.7249999999999999" fill="none" stroke="#222" stroke-width="0.75"/>
<circle cx="458.18" cy="408.84" r="1.7249999999999999" fill="none" stroke="#222" stroke-width="0.75"/>
<circle cx="463.30" cy="408.35" r="1.7249999999999999" fill="none" stroke="#222" stroke-width="0.75"/>
<circle cx="468.42" cy="407.86" r="1.7249999999999999" fill="none" stroke="#222" stroke-width="0.75"/>
<circle cx="473.54" cy="407.37" r="1.7249999999999999" fill="none" stroke="#222" stroke-width="0.75"/>
<circle cx="478.66" cy="406.87" r="1.7249999999999999" fill="none" stroke="#222" stroke-width="0.75"/>
<circle cx="483.78" cy="406.38" r="1.7249999999999999" fill="none" stroke="#222" stroke-width="0.75"/>
<circle cx="488.90" cy="405.88" r="1.7249999999999999" fill="none" stroke="#222" stroke-width="0.75"/>
<circle cx="494.02" cy="405.37" r="1.7249999999999999" fill="none" stroke="#222" stroke-width="0.75"/>
<circle cx="499.14" cy="404.87" r="1.7249999999999999" fill="none" stroke="#222" stroke-width="0.75"/>
<circle cx="504.26" cy="404.36" r="1.7249999999999999" fill="none" stroke="#222" stroke-width="0.75"/>
<circle cx="386.50" cy="415.00" r="1.8399999999999999" fill="#2e9e2e" stroke="none" stroke-width="1"/>
<circle cx="391.62" cy="414.74" r="1.8399999999999999" fill="#2e9e2e" stroke="none" stroke-width="1"/>
<circle cx="396.74" cy="414.37" r="1.8399999999999999" fill="#2e9e2e" stroke="none" stroke-width="1"/>
<circle cx="401.86" cy="413.93" r="1.8399999999999999" fill="#2e9e2e" stroke="none" stroke-width="1"/>
<circle cx="406.98" cy="413.45" r="1.8399999999999999" fill="#2e9e2e" stroke="none" stroke-width="1"/>
<circle cx="412.10" cy="412.92" r="1.8399999999999999" fill="#2e9e2e" stroke="none" stroke-width="1"/>
<circle cx="417.22" cy="412.37" r="1.8399999999999999" fill="#2e9e2e" stroke="none" stroke-width="1"/>
<circle cx="422.34" cy="411.78" r="1.8399999999999999" fill="#2e9e2e" stroke="none" stroke-width="1"/>
<circle cx="427.46" cy="411.17" r="1.8399999999999999" fill="#2e9e2e" stroke="none" stroke-width="1"/>
<circle cx="432.58" cy="410.54" r="1.8399999999999999" fill="#2e9e2e" stroke="none" stroke-width="1"/>
<circle cx="437.70" cy="409.89" r="1.8399999999999999" fill="#2e9e2e" stroke="none" stroke-width="1"/>
<circle cx="442.82" cy="409.21" r="1.8399999999999999" fill="#2e9e2e" stroke="none" stroke-width="1"/>
<circle cx="447.94" cy="408.52" r="1.8399999999999999" fill="#2e9e2e" stroke="none" stroke-width="1"/>
<circle cx="453.06" cy="407.81" r="1.8399999999999999" fill="#2e9e2e" stroke="none" stroke-width="1"/>
<circle cx="458.18" cy="407.08" r="1.8399999999999999" fill="#2e9e2e" stroke="none" stroke-width="1"/>
<circle cx="463.30" cy="406.34" r="1.8399999999999999" fill="#2e9e2e" stroke="none" stroke-width="1"/>
<circle cx="468.42" cy="405.58" r="1.8399999999999999" fill="#2e9e2e" stroke="none" stroke-width="1"/>
<circle cx="473.54" cy="404.81" r="1.8399999999999999" fill="#2e9e2e" stroke="none" stroke-width="1"/>
<circle cx="478.66" cy="404.02" r="1.8399999999999999" fill="#2e9e2e" stroke="none" stroke-width="1"/>
<circle cx="483.78" cy="403.22" r="1.8399999999999999" fill="#2e9e2e" stroke="none" stroke-width="1"/>
<circle cx="488.90" cy="402.41" r="1.8399999999999999" fill="#2e9e2e" stroke="none" stroke-width="1"/>
<circle cx="494.02" cy="401.58" r="1.8399999999999999" fill="#2e9e2e" stroke="none" stroke-width="1"/>
<circle cx="499.14" cy="400.75" r="1.8399999999999999" fill="#2e9e2e" stroke="none" stroke-width="1"/>
<circle cx="504.26" cy="399.90" r="1.8399999999999999" fill="#2e9e2e" stroke="none" stroke-width="1"/>
<circle cx="509.38" cy="399.04" r="1.8399999999999999" fill="#2e9e2e" stroke="none" stroke-width="1"/>
<circle cx="386.50" cy="415.00" r="1.6" fill="#8b1010" stroke="none" stroke-width="1"/>
<circle cx="391.62" cy="414.91" r="1.6" fill="#8b1010" stroke="none" stroke-width="1"/>
<circle cx="396.74" cy="414.66" r="1.6" fill="#8b1010" stroke="none" stroke-width="1"/>
<circle cx="401.86" cy="414.26" r="1.6" fill="#8b1010" stroke="none" stroke-width="1"/>
<circle cx="406.98" cy="413.72" r="1.6" fill="#8b1010" stroke="none" stroke-width="1"/>
<circle cx="412.10" cy="413.04" r="1.6" fill="#8b1010" stroke="none" stroke-width="1"/>
<circle cx="417.22" cy="412.23" r="1.6" fill="#8b1010" stroke="none" stroke-width="1"/>
<circle cx="422.34" cy="411.29" r="1.6" fill="#8b1010" stroke="none" stroke-width="1"/>
<circle cx="427.46" cy="410.22" r="1.6" fill="#8b1010" stroke="none" stroke-width="1"/>
<circle cx="432.58" cy="409.02" r="1.6" fill="#8b1010" stroke="none" stroke-width="1"/>
<circle cx="437.70" cy="407.69" r="1.6" fill="#8b1010" stroke="none" stroke-width="1"/>
<circle cx="442.82" cy="406.24" r="1.6" fill="#8b1010" stroke="none" stroke-width="1"/>
<circle cx="447.94" cy="404.67" r="1.6" fill="#8b1010" stroke="none" stroke-width="1"/>
<circle cx="453.06" cy="402.97" r="1.6" fill="#8b1010" stroke="none" stroke-width="1"/>
<circle cx="458.18" cy="401.15" r="1.6" fill="#8b1010" stroke="none" stroke-width="1"/>
<circle cx="463.30" cy="399.21" r="1.6" fill="#8b1010" stroke="none" stroke-width="1"/>
<circle cx="468.42" cy="397.15" r="1.6" fill="#8b1010" stroke="none" stroke-width="1"/>
<circle cx="473.54" cy="394.97" r="1.6" fill="#8b1010" stroke="none" stroke-width="1"/>
<circle cx="478.66" cy="392.67" r="1.6" fill="#8b1010" stroke="none" stroke-width="1"/>
<circle cx="483.78" cy="390.26" r="1.6" fill="#8b1010" stroke="none" stroke-width="1"/>
<circle cx="488.90" cy="387.72" r="1.6" fill="#8b1010" stroke="none" stroke-width="1"/>
<circle cx="494.02" cy="385.07" r="1.6" fill="#8b1010" stroke="none" stroke-width="1"/>
<circle cx="499.14" cy="382.31" r="1.6" fill="#8b1010" stroke="none" stroke-width="1"/>
<circle cx="504.26" cy="379.43" r="1.6" fill="#8b1010" stroke="none" stroke-width="1"/>
<circle cx="509.38" cy="376.43" r="1.6" fill="#8b1010" stroke="none" stroke-width="1"/>
<path d="M386.50,413.10 L388.40,415.00 L386.50,416.90 L384.60,415.00 Z" fill="#1f2ee8"/>
<path d="M391.62,412.19 L393.52,414.09 L391.62,415.99 L389.72,414.09 Z" fill="#1f2ee8"/>
<path d="M396.74,410.79 L398.64,412.69 L396.74,414.59 L394.84,412.69 Z" fill="#1f2ee8"/>
<path d="M401.86,409.10 L403.76,411.00 L401.86,412.90 L399.96,411.00 Z" fill="#1f2ee8"/>
<path d="M406.98,407.21 L408.88,409.11 L406.98,411.01 L405.08,409.11 Z" fill="#1f2ee8"/>
<path d="M412.10,405.13 L414.00,407.03 L412.10,408.93 L410.20,407.03 Z" fill="#1f2ee8"/>
<path d="M417.22,402.91 L419.12,404.81 L417.22,406.71 L415.32,404.81 Z" fill="#1f2ee8"/>
<path d="M422.34,400.55 L424.24,402.45 L422.34,404.35 L420.44,402.45 Z" fill="#1f2ee8"/>
<path d="M427.46,398.08 L429.36,399.98 L427.46,401.88 L425.56,399.98 Z" fill="#1f2ee8"/>
<path d="M432.58,395.49 L434.48,397.39 L432.58,399.29 L430.68,397.39 Z" fill="#1f2ee8"/>
<path d="M437.70,392.79 L439.60,394.69 L437.70,396.59 L435.80,394.69 Z" fill="#1f2ee8"/>
<path d="M442.82,390.01 L444.72,391.91 L442.82,393.81 L440.92,391.91 Z" fill="#1f2ee8"/>
<path d="M447.94,387.13 L449.84,389.03 L447.94,390.93 L446.04,389.03 Z" fill="#1f2ee8"/>
<path d="M453.06,384.16 L454.96,386.06 L453.06,387.96 L451.16,386.06 Z" fill="#1f2ee8"/>
<path d="M458.18,381.12 L460.08,383.02 L458.18,384.92 L456.28,383.02 Z" fill="#1f2ee8"/>
<path d="M463.30,378.00 L465.20,379.90 L463.30,381.80 L461.40,379.90 Z" fill="#1f2ee8"/>
<path d="M468.42,374.80 L470.32,376.70 L468.42,378.60 L466.52,376.70 Z" fill="#1f2ee8"/>
<path d="M473.54,371.54 L475.44,373.44 L473.54,375.34 L471.64,373.44 Z" fill="#1f2ee8"/>
<path d="M478.66,368.20 L480.56,370.10 L478.66,372.00 L476.76,370.10 Z" fill="#1f2ee8"/>
<path d="M483.78,364.80 L485.68,366.70 L483.78,368.60 L481.88,366.70 Z" fill="#1f2ee8"/>
<path d="M488.90,361.34 L490.80,363.24 L488.90,365.14 L487.00,363.24 Z" fill="#1f2ee8"/>
<path d="M494.02,357.81 L495.92,359.71 L494.02,361.61 L492.12,359.71 Z" fill="#1f2ee8"/>
<path d="M499.14,354.23 L501.04,356.13 L499.14,358.03 L497.24,356.13 Z" fill="#1f2ee8"/>
<path d="M504.26,350.59 L506.16,352.49 L504.26,354.39 L502.36,352.49 Z" fill="#1f2ee8"/>
<path d="M384.80,412.77 L388.20,416.17 M388.20,412.77 L384.80,416.17" stroke="#8b1a1a" stroke-width="1.15"/>
<path d="M389.92,411.17 L393.32,414.57 M393.32,411.17 L389.92,414.57" stroke="#8b1a1a" stroke-width="1.15"/>
<path d="M395.04,408.25 L398.44,411.65 M398.44,408.25 L395.04,411.65" stroke="#8b1a1a" stroke-width="1.15"/>
<path d="M400.16,405.85 L403.56,409.25 M403.56,405.85 L400.16,409.25" stroke="#8b1a1a" stroke-width="1.15"/>
<path d="M405.28,402.39 L408.68,405.79 M408.68,402.39 L405.28,405.79" stroke="#8b1a1a" stroke-width="1.15"/>
<path d="M410.40,400.00 L413.80,403.40 M413.80,400.00 L410.40,403.40" stroke="#8b1a1a" stroke-width="1.15"/>
<path d="M415.52,395.74 L418.92,399.14 M418.92,395.74 L415.52,399.14" stroke="#8b1a1a" stroke-width="1.15"/>
<path d="M420.64,392.29 L424.04,395.69 M424.04,392.29 L420.64,395.69" stroke="#8b1a1a" stroke-width="1.15"/>
<path d="M425.76,388.03 L429.16,391.43 M429.16,388.03 L425.76,391.43" stroke="#8b1a1a" stroke-width="1.15"/>
<path d="M430.88,384.04 L434.28,387.44 M434.28,384.04 L430.88,387.44" stroke="#8b1a1a" stroke-width="1.15"/>
<path d="M436.00,379.78 L439.40,383.18 M439.40,379.78 L436.00,383.18" stroke="#8b1a1a" stroke-width="1.15"/>
<path d="M441.12,374.46 L444.52,377.86 M444.52,374.46 L441.12,377.86" stroke="#8b1a1a" stroke-width="1.15"/>
<path d="M446.24,369.94 L449.64,373.34 M449.64,369.94 L446.24,373.34" stroke="#8b1a1a" stroke-width="1.15"/>
<path d="M451.36,365.15 L454.76,368.55 M454.76,365.15 L451.36,368.55" stroke="#8b1a1a" stroke-width="1.15"/>
<path d="M456.48,360.10 L459.88,363.50 M459.88,360.10 L456.48,363.50" stroke="#8b1a1a" stroke-width="1.15"/>
<path d="M461.60,355.05 L465.00,358.45 M465.00,355.05 L461.60,358.45" stroke="#8b1a1a" stroke-width="1.15"/>
<path d="M466.72,349.73 L470.12,353.13 M470.12,349.73 L466.72,353.13" stroke="#8b1a1a" stroke-width="1.15"/>
<path d="M471.84,344.41 L475.24,347.81 M475.24,344.41 L471.84,347.81" stroke="#8b1a1a" stroke-width="1.15"/>
<path d="M476.96,338.02 L480.36,341.42 M480.36,338.02 L476.96,341.42" stroke="#8b1a1a" stroke-width="1.15"/>
<path d="M482.08,332.17 L485.48,335.57 M485.48,332.17 L482.08,335.57" stroke="#8b1a1a" stroke-width="1.15"/>
<path d="M487.20,326.05 L490.60,329.45 M490.60,326.05 L487.20,329.45" stroke="#8b1a1a" stroke-width="1.15"/>
<path d="M492.32,319.67 L495.72,323.07 M495.72,319.67 L492.32,323.07" stroke="#8b1a1a" stroke-width="1.15"/>
<path d="M497.44,312.49 L500.84,315.89 M500.84,312.49 L497.44,315.89" stroke="#8b1a1a" stroke-width="1.15"/>
<text x="450.00" y="312.40" font-family='"Liberation Sans", sans-serif' font-size="6.4" font-weight="normal" font-style="normal" fill="#8b1a1a" stroke="#8b1a1a" stroke-width="0.15" text-anchor="start"  textLength="46" lengthAdjust="spacingAndGlyphs"><tspan>0.15Fe/TiO</tspan><tspan dy="1.92" font-size="4.48">2</tspan><tspan dy="-1.92">-700</tspan></text>
<text x="501.00" y="346.00" font-family='"Liberation Sans", sans-serif' font-size="6.4" font-weight="bold" font-style="normal" fill="#1f2ee8" stroke="#1f2ee8" stroke-width="0.15" text-anchor="start"  textLength="30" lengthAdjust="spacingAndGlyphs"><tspan>0.5Fe/TiO</tspan><tspan dy="1.92" font-size="4.48">2</tspan></text>
<text x="501.00" y="370.00" font-family='"Liberation Sans", sans-serif' font-size="6.4" font-weight="normal" font-style="normal" fill="#8b1a1a" stroke="#8b1a1a" stroke-width="0.15" text-anchor="start"  textLength="43" lengthAdjust="spacingAndGlyphs"><tspan>0.5Fe/TiO</tspan><tspan dy="1.92" font-size="4.48">2</tspan><tspan dy="-1.92">-700</tspan></text>
<text x="506.00" y="393.60" font-family='"Liberation Sans", sans-serif' font-size="6.4" font-weight="bold" font-style="normal" fill="#2e9e2e" stroke="#2e9e2e" stroke-width="0.15" text-anchor="start"  textLength="30" lengthAdjust="spacingAndGlyphs"><tspan>1.2Fe/TiO</tspan><tspan dy="1.92" font-size="4.48">2</tspan></text>
<text x="514.00" y="405.60" font-family='"Liberation Sans", sans-serif' font-size="6.2" font-weight="normal" font-style="normal" fill="#222" stroke="#222" stroke-width="0.15" text-anchor="start"  textLength="24" lengthAdjust="spacingAndGlyphs"><tspan>0Fe/TiO</tspan><tspan dy="1.86" font-size="4.34">2</tspan></text>
<text x="511.00" y="413.60" font-family='"Liberation Sans", sans-serif' font-size="5.6" font-weight="normal" font-style="normal" fill="#222" stroke="#222" stroke-width="0.15" text-anchor="start"  textLength="29" lengthAdjust="spacingAndGlyphs"><tspan>TiO</tspan><tspan dy="1.68" font-size="3.92">2</tspan><tspan dy="-1.68">-Aldrich</tspan></text>
<text x="10.70" y="450.10" font-family='"Liberation Serif", serif' font-size="11.5" font-weight="normal" font-style="normal" fill="#111" stroke="#111" stroke-width="0.15" text-anchor="start"  textLength="12.3" lengthAdjust="spacingAndGlyphs">(j)</text>
<text x="18.4" y="512" font-family='"Liberation Serif", serif' font-size="14" fill="#111" transform="rotate(-90 18.4 512)"><tspan textLength="31.4" lengthAdjust="spacingAndGlyphs">(αhυ)</tspan><tspan font-size="7.8" dy="-3.8" textLength="11" lengthAdjust="spacingAndGlyphs">1/2</tspan></text>
<rect x="41.80" y="435.50" width="148.20" height="115.50" fill="none" stroke="#777" stroke-width="0.9" />
<line x1="41.80" y1="435.50" x2="43.60" y2="435.50" stroke="#555" stroke-width="0.7" />
<text x="37.00" y="437.60" font-family='"Liberation Serif", serif' font-size="6" font-weight="bold" font-style="normal" fill="#333" stroke="#333" stroke-width="0.15" text-anchor="end"  textLength="7.7" lengthAdjust="spacingAndGlyphs">2.5</text>
<line x1="41.80" y1="493.30" x2="43.60" y2="493.30" stroke="#555" stroke-width="0.7" />
<text x="37.00" y="495.40" font-family='"Liberation Serif", serif' font-size="6" font-weight="bold" font-style="normal" fill="#333" stroke="#333" stroke-width="0.15" text-anchor="end"  textLength="7.7" lengthAdjust="spacingAndGlyphs">1.5</text>
<line x1="41.80" y1="551.00" x2="43.60" y2="551.00" stroke="#555" stroke-width="0.7" />
<text x="37.00" y="553.10" font-family='"Liberation Serif", serif' font-size="6" font-weight="bold" font-style="normal" fill="#333" stroke="#333" stroke-width="0.15" text-anchor="end"  textLength="7.7" lengthAdjust="spacingAndGlyphs">0.5</text>
<line x1="41.80" y1="464.40" x2="43.30" y2="464.40" stroke="#555" stroke-width="0.6" />
<line x1="41.80" y1="522.20" x2="43.30" y2="522.20" stroke="#555" stroke-width="0.6" />
<line x1="41.80" y1="551.00" x2="41.80" y2="549.20" stroke="#555" stroke-width="0.7" />
<text x="41.80" y="563.20" font-family='"Liberation Serif", serif' font-size="6" font-weight="bold" font-style="normal" fill="#333" stroke="#333" stroke-width="0.15" text-anchor="middle"  textLength="2.8" lengthAdjust="spacingAndGlyphs">0</text>
<line x1="66.20" y1="551.00" x2="66.20" y2="549.20" stroke="#555" stroke-width="0.7" />
<text x="66.20" y="563.20" font-family='"Liberation Serif", serif' font-size="6" font-weight="bold" font-style="normal" fill="#333" stroke="#333" stroke-width="0.15" text-anchor="middle"  textLength="2.8" lengthAdjust="spacingAndGlyphs">1</text>
<line x1="90.60" y1="551.00" x2="90.60" y2="549.20" stroke="#555" stroke-width="0.7" />
<text x="90.60" y="563.20" font-family='"Liberation Serif", serif' font-size="6" font-weight="bold" font-style="normal" fill="#333" stroke="#333" stroke-width="0.15" text-anchor="middle"  textLength="2.8" lengthAdjust="spacingAndGlyphs">2</text>
<line x1="115.00" y1="551.00" x2="115.00" y2="549.20" stroke="#555" stroke-width="0.7" />
<text x="115.00" y="563.20" font-family='"Liberation Serif", serif' font-size="6" font-weight="bold" font-style="normal" fill="#333" stroke="#333" stroke-width="0.15" text-anchor="middle"  textLength="2.8" lengthAdjust="spacingAndGlyphs">3</text>
<line x1="139.40" y1="551.00" x2="139.40" y2="549.20" stroke="#555" stroke-width="0.7" />
<text x="139.40" y="563.20" font-family='"Liberation Serif", serif' font-size="6" font-weight="bold" font-style="normal" fill="#333" stroke="#333" stroke-width="0.15" text-anchor="middle"  textLength="2.8" lengthAdjust="spacingAndGlyphs">4</text>
<line x1="163.80" y1="551.00" x2="163.80" y2="549.20" stroke="#555" stroke-width="0.7" />
<text x="163.80" y="563.20" font-family='"Liberation Serif", serif' font-size="6" font-weight="bold" font-style="normal" fill="#333" stroke="#333" stroke-width="0.15" text-anchor="middle"  textLength="2.8" lengthAdjust="spacingAndGlyphs">5</text>
<line x1="188.20" y1="551.00" x2="188.20" y2="549.20" stroke="#555" stroke-width="0.7" />
<text x="188.20" y="563.20" font-family='"Liberation Serif", serif' font-size="6" font-weight="bold" font-style="normal" fill="#333" stroke="#333" stroke-width="0.15" text-anchor="middle"  textLength="2.8" lengthAdjust="spacingAndGlyphs">6</text>
<rect x="45.80" y="438.50" width="53.20" height="11.50" fill="#fff" stroke="#222" stroke-width="0.9" />
<text x="47.40" y="447.60" font-family='"Liberation Serif", serif' font-size="7" font-weight="bold" font-style="normal" fill="#222" stroke="#222" stroke-width="0.15" text-anchor="start"  textLength="48" lengthAdjust="spacingAndGlyphs"><tspan>Cr-TiO</tspan><tspan dy="2.10" font-size="4.6">2</tspan><tspan dy="-2.10">NTs-1</tspan></text>
<path d="M82.90,519.50 L83.47,517.82 L84.03,516.53 L84.60,514.91 L85.90,514.20 L87.20,513.34 L88.50,512.07 L89.80,511.16 L91.18,511.04 L92.56,509.93 L93.94,509.21 L95.32,509.05 L96.70,507.98 L98.42,507.56 L100.15,506.63 L101.88,506.07 L103.60,505.06 L105.15,504.62 L106.70,504.01 L108.25,502.99 L109.80,502.37 L111.90,503.02 L114.00,503.29 L115.30,505.13 L116.60,506.36 L117.90,507.51 L119.20,508.67 L120.90,510.01 L122.60,510.48 L123.45,509.18 L124.30,507.82 L125.15,506.22 L126.00,504.89 L126.33,503.01 L126.66,501.79 L126.99,500.02 L127.33,498.85 L127.66,497.30 L127.99,495.24 L128.32,493.76 L128.65,492.30 L128.98,491.31 L129.31,489.43 L129.64,488.05 L129.98,486.31 L130.31,484.94 L130.64,483.35 L130.97,481.81 L131.30,480.46 L131.87,478.93 L132.43,477.62 L133.00,475.93 L133.57,474.57 L134.13,472.98 L134.70,471.54 L135.27,469.79 L135.83,467.90 L136.40,466.85 L137.28,465.64 L138.15,464.31 L139.03,462.79 L139.90,461.60 L140.78,459.96 L141.65,459.11 L142.53,457.64 L143.40,456.15 L144.25,454.54 L145.10,453.65 L145.95,452.29 L146.80,450.21 L147.65,449.26 L148.50,447.54 L150.25,446.51 L152.00,445.76 L153.72,446.09 L155.45,446.16 L157.18,445.58 L158.90,445.98 L160.60,444.38 L162.30,443.65 L163.70,444.08 L165.10,445.17 L166.50,445.94 L167.90,446.30 L169.30,447.35 L170.58,445.74 L171.85,444.45 L173.12,443.69 L174.40,442.50" fill="none" stroke="#111" stroke-width="1.3" stroke-linejoin="round" stroke-linecap="round"/>
<line x1="107.00" y1="561.60" x2="145.00" y2="435.50" stroke="#1f3fe8" stroke-width="1.5" stroke-dasharray="3.2,2" />
<line x1="136.40" y1="525.40" x2="117.40" y2="546.50" stroke="#555" stroke-width="0.6" />
<circle cx="117.40" cy="546.50" r="0.9" fill="#333"/>
<text x="126.00" y="525.00" font-family='"Liberation Serif", serif' font-size="7" font-weight="bold" font-style="normal" fill="#333" stroke="#333" stroke-width="0.15" text-anchor="start"  textLength="24" lengthAdjust="spacingAndGlyphs">2.82 eV</text>
<text x="115.50" y="575.30" font-family='"Liberation Serif", serif' font-size="7" font-weight="bold" font-style="normal" fill="#333" stroke="#333" stroke-width="0.15" text-anchor="middle"  textLength="32" lengthAdjust="spacingAndGlyphs">Energy(ev)</text>
<rect x="209.70" y="435.80" width="156.70" height="116.80" fill="none" stroke="#777" stroke-width="0.9" />
<line x1="209.70" y1="459.00" x2="211.50" y2="459.00" stroke="#555" stroke-width="0.7" />
<text x="204.90" y="461.10" font-family='"Liberation Serif", serif' font-size="6" font-weight="bold" font-style="normal" fill="#333" stroke="#333" stroke-width="0.15" text-anchor="end"  textLength="7.7" lengthAdjust="spacingAndGlyphs">2.5</text>
<line x1="209.70" y1="506.00" x2="211.50" y2="506.00" stroke="#555" stroke-width="0.7" />
<text x="204.90" y="508.10" font-family='"Liberation Serif", serif' font-size="6" font-weight="bold" font-style="normal" fill="#333" stroke="#333" stroke-width="0.15" text-anchor="end"  textLength="7.7" lengthAdjust="spacingAndGlyphs">1.5</text>
<line x1="209.70" y1="552.60" x2="211.50" y2="552.60" stroke="#555" stroke-width="0.7" />
<text x="204.90" y="554.70" font-family='"Liberation Serif", serif' font-size="6" font-weight="bold" font-style="normal" fill="#333" stroke="#333" stroke-width="0.15" text-anchor="end"  textLength="7.7" lengthAdjust="spacingAndGlyphs">0.5</text>
<line x1="209.70" y1="482.40" x2="211.20" y2="482.40" stroke="#555" stroke-width="0.6" />
<line x1="209.70" y1="529.40" x2="211.20" y2="529.40" stroke="#555" stroke-width="0.6" />
<line x1="209.70" y1="552.60" x2="209.70" y2="550.80" stroke="#555" stroke-width="0.7" />
<text x="209.70" y="563.20" font-family='"Liberation Serif", serif' font-size="6" font-weight="bold" font-style="normal" fill="#333" stroke="#333" stroke-width="0.15" text-anchor="middle"  textLength="2.8" lengthAdjust="spacingAndGlyphs">0</text>
<line x1="235.77" y1="552.60" x2="235.77" y2="550.80" stroke="#555" stroke-width="0.7" />
<text x="235.77" y="563.20" font-family='"Liberation Serif", serif' font-size="6" font-weight="bold" font-style="normal" fill="#333" stroke="#333" stroke-width="0.15" text-anchor="middle"  textLength="2.8" lengthAdjust="spacingAndGlyphs">1</text>
<line x1="261.84" y1="552.60" x2="261.84" y2="550.80" stroke="#555" stroke-width="0.7" />
<text x="261.84" y="563.20" font-family='"Liberation Serif", serif' font-size="6" font-weight="bold" font-style="normal" fill="#333" stroke="#333" stroke-width="0.15" text-anchor="middle"  textLength="2.8" lengthAdjust="spacingAndGlyphs">2</text>
<line x1="287.91" y1="552.60" x2="287.91" y2="550.80" stroke="#555" stroke-width="0.7" />
<text x="287.91" y="563.20" font-family='"Liberation Serif", serif' font-size="6" font-weight="bold" font-style="normal" fill="#333" stroke="#333" stroke-width="0.15" text-anchor="middle"  textLength="2.8" lengthAdjust="spacingAndGlyphs">3</text>
<line x1="313.98" y1="552.60" x2="313.98" y2="550.80" stroke="#555" stroke-width="0.7" />
<text x="313.98" y="563.20" font-family='"Liberation Serif", serif' font-size="6" font-weight="bold" font-style="normal" fill="#333" stroke="#333" stroke-width="0.15" text-anchor="middle"  textLength="2.8" lengthAdjust="spacingAndGlyphs">4</text>
<line x1="340.05" y1="552.60" x2="340.05" y2="550.80" stroke="#555" stroke-width="0.7" />
<text x="340.05" y="563.20" font-family='"Liberation Serif", serif' font-size="6" font-weight="bold" font-style="normal" fill="#333" stroke="#333" stroke-width="0.15" text-anchor="middle"  textLength="2.8" lengthAdjust="spacingAndGlyphs">5</text>
<line x1="366.12" y1="552.60" x2="366.12" y2="550.80" stroke="#555" stroke-width="0.7" />
<text x="366.12" y="563.20" font-family='"Liberation Serif", serif' font-size="6" font-weight="bold" font-style="normal" fill="#333" stroke="#333" stroke-width="0.15" text-anchor="middle"  textLength="2.8" lengthAdjust="spacingAndGlyphs">6</text>
<rect x="213.20" y="438.70" width="53.80" height="11.60" fill="#fff" stroke="#222" stroke-width="0.9" />
<text x="214.80" y="447.90" font-family='"Liberation Serif", serif' font-size="7" font-weight="bold" font-style="normal" fill="#222" stroke="#222" stroke-width="0.15" text-anchor="start"  textLength="44.6" lengthAdjust="spacingAndGlyphs"><tspan>Cr-TiO</tspan><tspan dy="2.10" font-size="4.6">2</tspan><tspan dy="-2.10">NTs-2</tspan></text>
<path d="M250.80,513.30 L252.55,514.24 L254.30,515.17 L255.43,514.04 L256.57,512.98 L257.70,511.67 L259.43,511.80 L261.17,511.17 L262.90,511.48 L264.17,510.94 L265.45,509.85 L266.73,509.16 L268.00,507.73 L269.17,506.85 L270.33,505.56 L271.50,504.63 L272.67,503.52 L273.83,501.99 L275.00,501.00 L276.30,499.92 L277.60,499.24 L278.90,498.01 L280.20,496.46 L281.90,496.98 L283.60,496.60 L285.30,497.01 L287.00,496.74 L288.75,497.85 L290.50,499.66 L291.54,500.46 L292.58,501.72 L293.62,503.52 L294.66,504.70 L295.70,505.55 L298.00,504.32 L298.64,502.53 L299.28,501.12 L299.92,499.29 L300.56,498.31 L301.20,496.63 L301.84,495.33 L302.48,493.78 L303.12,491.86 L303.76,490.40 L304.40,488.77 L304.86,487.19 L305.33,485.57 L305.79,484.17 L306.25,482.82 L306.72,480.83 L307.18,479.74 L307.65,477.94 L308.11,476.36 L308.57,475.15 L309.04,473.35 L309.50,471.67 L310.80,470.94 L312.10,470.24 L313.40,468.94 L314.70,468.73 L315.56,466.77 L316.43,465.97 L317.29,464.74 L318.15,462.86 L319.01,462.10 L319.88,460.51 L320.74,459.35 L321.60,457.66 L322.34,456.20 L323.09,454.81 L323.83,453.86 L324.57,451.84 L325.31,450.75 L326.06,449.39 L326.80,447.91 L328.52,446.82 L330.25,446.15 L331.98,445.59 L333.70,445.09 L334.87,443.23 L336.03,442.27 L337.20,440.91 L338.22,442.21 L339.24,442.90 L340.26,444.79 L341.28,445.45 L342.30,446.89 L344.03,446.38 L345.77,445.89 L347.50,444.90" fill="none" stroke="#111" stroke-width="1.3" stroke-linejoin="round" stroke-linecap="round"/>
<line x1="271.50" y1="575.40" x2="319.90" y2="437.30" stroke="#1f3fe8" stroke-width="1.5" stroke-dasharray="3.2,2" />
<line x1="306.00" y1="535.70" x2="283.60" y2="549.50" stroke="#555" stroke-width="0.6" />
<circle cx="283.60" cy="549.50" r="0.9" fill="#333"/>
<text x="304.00" y="534.00" font-family='"Liberation Serif", serif' font-size="7" font-weight="bold" font-style="normal" fill="#333" stroke="#333" stroke-width="0.15" text-anchor="start"  textLength="24" lengthAdjust="spacingAndGlyphs">2.71 eV</text>
<text x="287.00" y="575.30" font-family='"Liberation Serif", serif' font-size="7" font-weight="bold" font-style="normal" fill="#333" stroke="#333" stroke-width="0.15" text-anchor="middle"  textLength="32" lengthAdjust="spacingAndGlyphs">Energy(ev)</text>
<rect x="384.80" y="437.20" width="154.20" height="114.50" fill="none" stroke="#777" stroke-width="0.9" />
<line x1="384.80" y1="437.40" x2="386.60" y2="437.40" stroke="#555" stroke-width="0.7" />
<text x="380.00" y="439.50" font-family='"Liberation Serif", serif' font-size="6" font-weight="bold" font-style="normal" fill="#333" stroke="#333" stroke-width="0.15" text-anchor="end"  textLength="7.7" lengthAdjust="spacingAndGlyphs">3.5</text>
<line x1="384.80" y1="476.40" x2="386.60" y2="476.40" stroke="#555" stroke-width="0.7" />
<text x="380.00" y="478.50" font-family='"Liberation Serif", serif' font-size="6" font-weight="bold" font-style="normal" fill="#333" stroke="#333" stroke-width="0.15" text-anchor="end"  textLength="7.7" lengthAdjust="spacingAndGlyphs">2.5</text>
<line x1="384.80" y1="513.70" x2="386.60" y2="513.70" stroke="#555" stroke-width="0.7" />
<text x="380.00" y="515.80" font-family='"Liberation Serif", serif' font-size="6" font-weight="bold" font-style="normal" fill="#333" stroke="#333" stroke-width="0.15" text-anchor="end"  textLength="7.7" lengthAdjust="spacingAndGlyphs">1.5</text>
<line x1="384.80" y1="551.70" x2="386.60" y2="551.70" stroke="#555" stroke-width="0.7" />
<text x="380.00" y="553.80" font-family='"Liberation Serif", serif' font-size="6" font-weight="bold" font-style="normal" fill="#333" stroke="#333" stroke-width="0.15" text-anchor="end"  textLength="7.7" lengthAdjust="spacingAndGlyphs">0.5</text>
<line x1="384.80" y1="457.00" x2="386.30" y2="457.00" stroke="#555" stroke-width="0.6" />
<line x1="384.80" y1="495.00" x2="386.30" y2="495.00" stroke="#555" stroke-width="0.6" />
<line x1="384.80" y1="532.70" x2="386.30" y2="532.70" stroke="#555" stroke-width="0.6" />
<line x1="384.80" y1="551.70" x2="384.80" y2="549.90" stroke="#555" stroke-width="0.7" />
<text x="384.80" y="563.20" font-family='"Liberation Serif", serif' font-size="6" font-weight="bold" font-style="normal" fill="#333" stroke="#333" stroke-width="0.15" text-anchor="middle"  textLength="2.8" lengthAdjust="spacingAndGlyphs">0</text>
<line x1="410.55" y1="551.70" x2="410.55" y2="549.90" stroke="#555" stroke-width="0.7" />
<text x="410.55" y="563.20" font-family='"Liberation Serif", serif' font-size="6" font-weight="bold" font-style="normal" fill="#333" stroke="#333" stroke-width="0.15" text-anchor="middle"  textLength="2.8" lengthAdjust="spacingAndGlyphs">1</text>
<line x1="436.30" y1="551.70" x2="436.30" y2="549.90" stroke="#555" stroke-width="0.7" />
<text x="436.30" y="563.20" font-family='"Liberation Serif", serif' font-size="6" font-weight="bold" font-style="normal" fill="#333" stroke="#333" stroke-width="0.15" text-anchor="middle"  textLength="2.8" lengthAdjust="spacingAndGlyphs">2</text>
<line x1="462.05" y1="551.70" x2="462.05" y2="549.90" stroke="#555" stroke-width="0.7" />
<text x="462.05" y="563.20" font-family='"Liberation Serif", serif' font-size="6" font-weight="bold" font-style="normal" fill="#333" stroke="#333" stroke-width="0.15" text-anchor="middle"  textLength="2.8" lengthAdjust="spacingAndGlyphs">3</text>
<line x1="487.80" y1="551.70" x2="487.80" y2="549.90" stroke="#555" stroke-width="0.7" />
<text x="487.80" y="563.20" font-family='"Liberation Serif", serif' font-size="6" font-weight="bold" font-style="normal" fill="#333" stroke="#333" stroke-width="0.15" text-anchor="middle"  textLength="2.8" lengthAdjust="spacingAndGlyphs">4</text>
<line x1="513.55" y1="551.70" x2="513.55" y2="549.90" stroke="#555" stroke-width="0.7" />
<text x="513.55" y="563.20" font-family='"Liberation Serif", serif' font-size="6" font-weight="bold" font-style="normal" fill="#333" stroke="#333" stroke-width="0.15" text-anchor="middle"  textLength="2.8" lengthAdjust="spacingAndGlyphs">5</text>
<line x1="539.30" y1="551.70" x2="539.30" y2="549.90" stroke="#555" stroke-width="0.7" />
<text x="539.30" y="563.20" font-family='"Liberation Serif", serif' font-size="6" font-weight="bold" font-style="normal" fill="#333" stroke="#333" stroke-width="0.15" text-anchor="middle"  textLength="2.8" lengthAdjust="spacingAndGlyphs">6</text>
<rect x="387.00" y="440.00" width="55.00" height="12.70" fill="#fff" stroke="#222" stroke-width="0.9" />
<text x="388.60" y="450.30" font-family='"Liberation Serif", serif' font-size="7" font-weight="bold" font-style="normal" fill="#222" stroke="#222" stroke-width="0.15" text-anchor="start"  textLength="49" lengthAdjust="spacingAndGlyphs"><tspan>Cr-TiO</tspan><tspan dy="2.10" font-size="4.6">2</tspan><tspan dy="-2.10">NTs-3</tspan></text>
<path d="M427.40,520.20 L428.42,518.70 L429.44,517.20 L430.46,516.17 L431.48,514.38 L432.50,513.33 L434.25,512.31 L436.00,511.19 L437.73,511.51 L439.47,511.18 L441.20,511.45 L442.93,511.20 L444.67,511.21 L446.40,511.45 L447.78,511.03 L449.16,509.84 L450.54,509.21 L451.92,508.79 L453.30,508.31 L454.57,507.20 L455.85,506.23 L457.12,505.78 L458.40,504.28 L460.15,504.85 L461.90,504.45 L463.65,504.35 L465.40,504.33 L466.67,503.62 L467.95,503.12 L469.23,501.83 L470.50,501.26 L471.19,499.92 L471.88,498.35 L472.57,497.09 L473.26,495.37 L473.95,493.99 L474.64,492.71 L475.33,491.67 L476.02,490.11 L476.71,488.65 L477.40,487.46 L478.10,485.98 L478.80,484.48 L479.50,483.44 L480.20,481.98 L480.90,480.27 L481.60,479.11 L482.30,477.69 L483.00,476.54 L483.70,475.05 L484.40,473.35 L485.67,472.56 L486.95,470.68 L488.23,469.62 L489.50,468.58 L490.80,467.28 L492.10,466.64 L493.40,465.45 L494.70,465.02 L496.45,465.94 L498.20,466.65 L499.56,467.90 L500.92,468.55 L502.28,469.86 L503.64,470.83 L505.00,471.86 L506.75,472.19 L508.50,472.89 L510.25,473.39 L512.00,473.48 L513.30,474.49 L514.60,474.94 L515.90,476.27 L517.20,477.10 L518.90,476.78 L520.60,476.09 L522.30,475.30" fill="none" stroke="#111" stroke-width="1.3" stroke-linejoin="round" stroke-linecap="round"/>
<line x1="437.70" y1="563.40" x2="499.90" y2="444.20" stroke="#1f3fe8" stroke-width="1.5" stroke-dasharray="3.2,2" />
<line x1="472.30" y1="534.00" x2="449.10" y2="547.80" stroke="#555" stroke-width="0.6" />
<circle cx="449.10" cy="547.80" r="0.9" fill="#333"/>
<text x="470.50" y="533.50" font-family='"Liberation Serif", serif' font-size="7" font-weight="bold" font-style="normal" fill="#333" stroke="#333" stroke-width="0.15" text-anchor="start"  textLength="24" lengthAdjust="spacingAndGlyphs">2.30 eV</text>
<text x="461.50" y="575.30" font-family='"Liberation Serif", serif' font-size="7" font-weight="bold" font-style="normal" fill="#333" stroke="#333" stroke-width="0.15" text-anchor="middle"  textLength="32" lengthAdjust="spacingAndGlyphs">Energy(ev)</text>
<text x="14.00" y="589.70" font-family='"Liberation Serif", serif' font-size="10.6" font-weight="bold" font-style="normal" fill="#111" stroke="#111" stroke-width="0.15" text-anchor="start"  textLength="15" lengthAdjust="spacingAndGlyphs">(k)</text>
<rect x="64.20" y="580.40" width="179.40" height="113.40" fill="none" stroke="#666" stroke-width="0.9" />
<line x1="64.20" y1="693.80" x2="66.00" y2="693.80" stroke="#333" stroke-width="0.7" />
<line x1="64.20" y1="679.63" x2="65.40" y2="679.63" stroke="#333" stroke-width="0.5" />
<text x="60.00" y="695.80" font-family='"Liberation Serif", serif' font-size="5.8" font-weight="bold" font-style="normal" fill="#222" stroke="#222" stroke-width="0.15" text-anchor="end"  textLength="2.8" lengthAdjust="spacingAndGlyphs">0</text>
<line x1="64.20" y1="665.45" x2="66.00" y2="665.45" stroke="#333" stroke-width="0.7" />
<line x1="64.20" y1="651.28" x2="65.40" y2="651.28" stroke="#333" stroke-width="0.5" />
<text x="60.00" y="667.45" font-family='"Liberation Serif", serif' font-size="5.8" font-weight="bold" font-style="normal" fill="#222" stroke="#222" stroke-width="0.15" text-anchor="end"  textLength="5.2" lengthAdjust="spacingAndGlyphs">10</text>
<line x1="64.20" y1="637.10" x2="66.00" y2="637.10" stroke="#333" stroke-width="0.7" />
<line x1="64.20" y1="622.93" x2="65.40" y2="622.93" stroke="#333" stroke-width="0.5" />
<text x="60.00" y="639.10" font-family='"Liberation Serif", serif' font-size="5.8" font-weight="bold" font-style="normal" fill="#222" stroke="#222" stroke-width="0.15" text-anchor="end"  textLength="5.2" lengthAdjust="spacingAndGlyphs">20</text>
<line x1="64.20" y1="608.75" x2="66.00" y2="608.75" stroke="#333" stroke-width="0.7" />
<line x1="64.20" y1="594.58" x2="65.40" y2="594.58" stroke="#333" stroke-width="0.5" />
<text x="60.00" y="610.75" font-family='"Liberation Serif", serif' font-size="5.8" font-weight="bold" font-style="normal" fill="#222" stroke="#222" stroke-width="0.15" text-anchor="end"  textLength="5.2" lengthAdjust="spacingAndGlyphs">30</text>
<line x1="64.20" y1="580.40" x2="66.00" y2="580.40" stroke="#333" stroke-width="0.7" />
<text x="60.00" y="582.40" font-family='"Liberation Serif", serif' font-size="5.8" font-weight="bold" font-style="normal" fill="#222" stroke="#222" stroke-width="0.15" text-anchor="end"  textLength="5.2" lengthAdjust="spacingAndGlyphs">40</text>
<line x1="64.20" y1="693.80" x2="64.20" y2="692.00" stroke="#333" stroke-width="0.7" />
<text x="64.20" y="705.50" font-family='"Liberation Serif", serif' font-size="5.8" font-weight="bold" font-style="normal" fill="#222" stroke="#222" stroke-width="0.15" text-anchor="middle"  textLength="2.7" lengthAdjust="spacingAndGlyphs">0</text>
<line x1="91.50" y1="693.80" x2="91.50" y2="692.00" stroke="#333" stroke-width="0.7" />
<text x="91.50" y="705.50" font-family='"Liberation Serif", serif' font-size="5.8" font-weight="bold" font-style="normal" fill="#222" stroke="#222" stroke-width="0.15" text-anchor="middle"  textLength="5.4" lengthAdjust="spacingAndGlyphs">40</text>
<line x1="118.80" y1="693.80" x2="118.80" y2="692.00" stroke="#333" stroke-width="0.7" />
<text x="118.80" y="705.50" font-family='"Liberation Serif", serif' font-size="5.8" font-weight="bold" font-style="normal" fill="#222" stroke="#222" stroke-width="0.15" text-anchor="middle"  textLength="5.4" lengthAdjust="spacingAndGlyphs">80</text>
<line x1="146.10" y1="693.80" x2="146.10" y2="692.00" stroke="#333" stroke-width="0.7" />
<text x="146.10" y="705.50" font-family='"Liberation Serif", serif' font-size="5.8" font-weight="bold" font-style="normal" fill="#222" stroke="#222" stroke-width="0.15" text-anchor="middle"  textLength="8.100000000000001" lengthAdjust="spacingAndGlyphs">120</text>
<line x1="173.40" y1="693.80" x2="173.40" y2="692.00" stroke="#333" stroke-width="0.7" />
<text x="173.40" y="705.50" font-family='"Liberation Serif", serif' font-size="5.8" font-weight="bold" font-style="normal" fill="#222" stroke="#222" stroke-width="0.15" text-anchor="middle"  textLength="8.100000000000001" lengthAdjust="spacingAndGlyphs">160</text>
<line x1="200.70" y1="693.80" x2="200.70" y2="692.00" stroke="#333" stroke-width="0.7" />
<text x="200.70" y="705.50" font-family='"Liberation Serif", serif' font-size="5.8" font-weight="bold" font-style="normal" fill="#222" stroke="#222" stroke-width="0.15" text-anchor="middle"  textLength="8.100000000000001" lengthAdjust="spacingAndGlyphs">200</text>
<line x1="228.00" y1="693.80" x2="228.00" y2="692.00" stroke="#333" stroke-width="0.7" />
<text x="228.00" y="705.50" font-family='"Liberation Serif", serif' font-size="5.8" font-weight="bold" font-style="normal" fill="#222" stroke="#222" stroke-width="0.15" text-anchor="middle"  textLength="8.100000000000001" lengthAdjust="spacingAndGlyphs">240</text>
<text x="125.00" y="718.50" font-family='"Liberation Serif", serif' font-size="6.8" font-weight="bold" font-style="normal" fill="#222" stroke="#222" stroke-width="0.15" text-anchor="start"  textLength="57.5" lengthAdjust="spacingAndGlyphs">Reaction time (min)</text>
<text x="40.6" y="686" font-family='"Liberation Serif", serif' font-size="13" font-weight="bold" fill="#111" transform="rotate(-90 40.6 686)" textLength="93.5" lengthAdjust="spacingAndGlyphs">Evolved H<tspan font-size="8" dy="2.5">2</tspan><tspan dy="-2.5" font-weight="normal"> (μl/cm</tspan><tspan font-size="8" dy="-5" font-weight="normal">2</tspan><tspan dy="5" font-weight="normal">)</tspan></text>
<path d="M64.20,693.80 L91.50,693.80 L118.80,693.23 L146.10,692.95 L173.40,692.38 L200.70,691.82 L228.00,691.25" fill="none" stroke="#111111" stroke-width="1.4" stroke-linejoin="round" stroke-linecap="round"/>
<path d="M64.20,691.30 L66.50,695.50 L61.90,695.50 Z" fill="#111111"/>
<path d="M91.50,691.30 L93.80,695.50 L89.20,695.50 Z" fill="#111111"/>
<path d="M118.80,690.73 L121.10,694.93 L116.50,694.93 Z" fill="#111111"/>
<path d="M146.10,690.45 L148.40,694.65 L143.80,694.65 Z" fill="#111111"/>
<path d="M173.40,689.88 L175.70,694.08 L171.10,694.08 Z" fill="#111111"/>
<path d="M200.70,689.32 L203.00,693.52 L198.40,693.52 Z" fill="#111111"/>
<path d="M228.00,688.75 L230.30,692.95 L225.70,692.95 Z" fill="#111111"/>
<path d="M64.20,693.80 L91.50,690.96 L118.80,685.29 L146.10,679.62 L173.40,671.12 L200.70,665.45 L228.00,659.78" fill="none" stroke="#9acd32" stroke-width="1.4" stroke-linejoin="round" stroke-linecap="round"/>
<rect x="62.00" y="691.60" width="4.40" height="4.40" fill="#9acd32" stroke="none" stroke-width="1" />
<rect x="89.30" y="688.76" width="4.40" height="4.40" fill="#9acd32" stroke="none" stroke-width="1" />
<rect x="116.60" y="683.09" width="4.40" height="4.40" fill="#9acd32" stroke="none" stroke-width="1" />
<rect x="143.90" y="677.42" width="4.40" height="4.40" fill="#9acd32" stroke="none" stroke-width="1" />
<rect x="171.20" y="668.92" width="4.40" height="4.40" fill="#9acd32" stroke="none" stroke-width="1" />
<rect x="198.50" y="663.25" width="4.40" height="4.40" fill="#9acd32" stroke="none" stroke-width="1" />
<rect x="225.80" y="657.58" width="4.40" height="4.40" fill="#9acd32" stroke="none" stroke-width="1" />
<path d="M64.20,693.80 L91.50,679.62 L118.80,668.28 L146.10,656.94 L173.40,642.77 L200.70,628.59 L228.00,614.42" fill="none" stroke="#4a86f0" stroke-width="1.4" stroke-linejoin="round" stroke-linecap="round"/>
<circle cx="64.20" cy="693.80" r="2.7" fill="#4a86f0" stroke="none" stroke-width="1"/>
<circle cx="91.50" cy="679.62" r="2.7" fill="#4a86f0" stroke="none" stroke-width="1"/>
<circle cx="118.80" cy="668.28" r="2.7" fill="#4a86f0" stroke="none" stroke-width="1"/>
<circle cx="146.10" cy="656.94" r="2.7" fill="#4a86f0" stroke="none" stroke-width="1"/>
<circle cx="173.40" cy="642.77" r="2.7" fill="#4a86f0" stroke="none" stroke-width="1"/>
<circle cx="200.70" cy="628.59" r="2.7" fill="#4a86f0" stroke="none" stroke-width="1"/>
<circle cx="228.00" cy="614.42" r="2.7" fill="#4a86f0" stroke="none" stroke-width="1"/>
<path d="M64.20,693.80 L91.50,673.95 L118.80,659.78 L146.10,642.77 L173.40,622.92 L200.70,608.75 L228.00,588.90" fill="none" stroke="#1a1aee" stroke-width="1.4" stroke-linejoin="round" stroke-linecap="round"/>
<path d="M64.20,690.70 L67.30,693.80 L64.20,696.90 L61.10,693.80 Z" fill="#1a1aee"/>
<path d="M91.50,670.85 L94.60,673.95 L91.50,677.05 L88.40,673.95 Z" fill="#1a1aee"/>
<path d="M118.80,656.68 L121.90,659.78 L118.80,662.88 L115.70,659.78 Z" fill="#1a1aee"/>
<path d="M146.10,639.67 L149.20,642.77 L146.10,645.87 L143.00,642.77 Z" fill="#1a1aee"/>
<path d="M173.40,619.82 L176.50,622.92 L173.40,626.02 L170.30,622.92 Z" fill="#1a1aee"/>
<path d="M200.70,605.65 L203.80,608.75 L200.70,611.85 L197.60,608.75 Z" fill="#1a1aee"/>
<path d="M228.00,585.80 L231.10,588.90 L228.00,592.00 L224.90,588.90 Z" fill="#1a1aee"/>
<text x="234.50" y="591.50" font-family='"Liberation Serif", serif' font-size="9.5" font-weight="bold" font-style="normal" fill="#222" stroke="#222" stroke-width="0.15" text-anchor="start" >a</text>
<text x="234.50" y="616.50" font-family='"Liberation Serif", serif' font-size="9.5" font-weight="bold" font-style="normal" fill="#222" stroke="#222" stroke-width="0.15" text-anchor="start" >b</text>
<text x="234.50" y="658.80" font-family='"Liberation Serif", serif' font-size="9.5" font-weight="bold" font-style="normal" fill="#222" stroke="#222" stroke-width="0.15" text-anchor="start" >c</text>
<text x="234.50" y="688.00" font-family='"Liberation Serif", serif' font-size="9.5" font-weight="bold" font-style="normal" fill="#222" stroke="#222" stroke-width="0.15" text-anchor="start" >d</text>
<rect x="69.10" y="585.10" width="56.40" height="44.40" fill="#fff" stroke="#333" stroke-width="0.9" />
<text x="71.30" y="594.80" font-family='"Liberation Serif", serif' font-size="7.8" font-weight="bold" font-style="normal" fill="#1a1a1a" stroke="#1a1a1a" stroke-width="0.15" text-anchor="start"  textLength="49.7" lengthAdjust="spacingAndGlyphs"><tspan>a: Cr-TiO</tspan><tspan dy="2.34" font-size="5.2">2</tspan><tspan dy="-2.34">NTs-1</tspan></text>
<text x="71.30" y="605.20" font-family='"Liberation Serif", serif' font-size="7.8" font-weight="bold" font-style="normal" fill="#1a1a1a" stroke="#1a1a1a" stroke-width="0.15" text-anchor="start"  textLength="49.7" lengthAdjust="spacingAndGlyphs"><tspan>b: Cr-TiO</tspan><tspan dy="2.34" font-size="5.2">2</tspan><tspan dy="-2.34">NTs-2</tspan></text>
<text x="71.30" y="615.80" font-family='"Liberation Serif", serif' font-size="7.8" font-weight="bold" font-style="normal" fill="#1a1a1a" stroke="#1a1a1a" stroke-width="0.15" text-anchor="start"  textLength="49.7" lengthAdjust="spacingAndGlyphs"><tspan>c: Cr-TiO</tspan><tspan dy="2.34" font-size="5.2">2</tspan><tspan dy="-2.34">NTs-3</tspan></text>
<text x="71.30" y="625.80" font-family='"Liberation Serif", serif' font-size="7.8" font-weight="bold" font-style="normal" fill="#1a1a1a" stroke="#1a1a1a" stroke-width="0.15" text-anchor="start"  textLength="33" lengthAdjust="spacingAndGlyphs"><tspan>d: TiO</tspan><tspan dy="2.34" font-size="5.2">2</tspan><tspan dy="-2.34">NTs</tspan></text>
<text x="289.00" y="592.00" font-family='"Liberation Serif", serif' font-size="11.4" font-weight="normal" font-style="normal" fill="#111" stroke="#111" stroke-width="0.15" text-anchor="start"  textLength="12" lengthAdjust="spacingAndGlyphs">(l)</text>
<rect x="319.60" y="582.00" width="181.20" height="112.40" fill="none" stroke="#666" stroke-width="0.9" />
<line x1="319.60" y1="694.40" x2="321.40" y2="694.40" stroke="#333" stroke-width="0.7" />
<line x1="319.60" y1="685.03" x2="320.80" y2="685.03" stroke="#333" stroke-width="0.5" />
<text x="314.50" y="697.30" font-family='"Liberation Serif", serif' font-size="8.3" font-weight="bold" font-style="normal" fill="#1a1a1a" stroke="#1a1a1a" stroke-width="0.15" text-anchor="end"  textLength="4.3" lengthAdjust="spacingAndGlyphs">0</text>
<line x1="319.60" y1="675.67" x2="321.40" y2="675.67" stroke="#333" stroke-width="0.7" />
<line x1="319.60" y1="666.30" x2="320.80" y2="666.30" stroke="#333" stroke-width="0.5" />
<text x="314.50" y="678.57" font-family='"Liberation Serif", serif' font-size="8.3" font-weight="bold" font-style="normal" fill="#1a1a1a" stroke="#1a1a1a" stroke-width="0.15" text-anchor="end"  textLength="8.7" lengthAdjust="spacingAndGlyphs">10</text>
<line x1="319.60" y1="656.94" x2="321.40" y2="656.94" stroke="#333" stroke-width="0.7" />
<line x1="319.60" y1="647.57" x2="320.80" y2="647.57" stroke="#333" stroke-width="0.5" />
<text x="314.50" y="659.84" font-family='"Liberation Serif", serif' font-size="8.3" font-weight="bold" font-style="normal" fill="#1a1a1a" stroke="#1a1a1a" stroke-width="0.15" text-anchor="end"  textLength="8.7" lengthAdjust="spacingAndGlyphs">20</text>
<line x1="319.60" y1="638.21" x2="321.40" y2="638.21" stroke="#333" stroke-width="0.7" />
<line x1="319.60" y1="628.84" x2="320.80" y2="628.84" stroke="#333" stroke-width="0.5" />
<text x="314.50" y="641.11" font-family='"Liberation Serif", serif' font-size="8.3" font-weight="bold" font-style="normal" fill="#1a1a1a" stroke="#1a1a1a" stroke-width="0.15" text-anchor="end"  textLength="8.7" lengthAdjust="spacingAndGlyphs">30</text>
<line x1="319.60" y1="619.48" x2="321.40" y2="619.48" stroke="#333" stroke-width="0.7" />
<line x1="319.60" y1="610.11" x2="320.80" y2="610.11" stroke="#333" stroke-width="0.5" />
<text x="314.50" y="622.38" font-family='"Liberation Serif", serif' font-size="8.3" font-weight="bold" font-style="normal" fill="#1a1a1a" stroke="#1a1a1a" stroke-width="0.15" text-anchor="end"  textLength="8.7" lengthAdjust="spacingAndGlyphs">40</text>
<line x1="319.60" y1="600.75" x2="321.40" y2="600.75" stroke="#333" stroke-width="0.7" />
<line x1="319.60" y1="591.38" x2="320.80" y2="591.38" stroke="#333" stroke-width="0.5" />
<text x="314.50" y="603.65" font-family='"Liberation Serif", serif' font-size="8.3" font-weight="bold" font-style="normal" fill="#1a1a1a" stroke="#1a1a1a" stroke-width="0.15" text-anchor="end"  textLength="8.7" lengthAdjust="spacingAndGlyphs">50</text>
<line x1="319.60" y1="582.02" x2="321.40" y2="582.02" stroke="#333" stroke-width="0.7" />
<text x="314.50" y="584.92" font-family='"Liberation Serif", serif' font-size="8.3" font-weight="bold" font-style="normal" fill="#1a1a1a" stroke="#1a1a1a" stroke-width="0.15" text-anchor="end"  textLength="8.7" lengthAdjust="spacingAndGlyphs">60</text>
<rect x="329.20" y="625.10" width="5.50" height="69.30" fill="#8585c8" stroke="#333366" stroke-width="0.6" />
<rect x="334.70" y="641.96" width="5.50" height="52.44" fill="#4a72f0" stroke="#223388" stroke-width="0.6" />
<rect x="340.20" y="671.92" width="5.50" height="22.48" fill="#f77a7a" stroke="#883333" stroke-width="0.6" />
<text x="334.50" y="708.80" font-family='"Liberation Serif", serif' font-size="8" font-weight="bold" font-style="normal" fill="#1a1a1a" stroke="#1a1a1a" stroke-width="0.15" text-anchor="middle"  textLength="4" lengthAdjust="spacingAndGlyphs">1</text>
<rect x="359.25" y="625.10" width="5.50" height="69.30" fill="#8585c8" stroke="#333366" stroke-width="0.6" />
<rect x="364.75" y="641.96" width="5.50" height="52.44" fill="#4a72f0" stroke="#223388" stroke-width="0.6" />
<rect x="370.25" y="671.92" width="5.50" height="22.48" fill="#f77a7a" stroke="#883333" stroke-width="0.6" />
<text x="364.55" y="708.80" font-family='"Liberation Serif", serif' font-size="8" font-weight="bold" font-style="normal" fill="#1a1a1a" stroke="#1a1a1a" stroke-width="0.15" text-anchor="middle"  textLength="4" lengthAdjust="spacingAndGlyphs">2</text>
<rect x="389.30" y="626.97" width="5.50" height="67.43" fill="#8585c8" stroke="#333366" stroke-width="0.6" />
<rect x="394.80" y="643.83" width="5.50" height="50.57" fill="#4a72f0" stroke="#223388" stroke-width="0.6" />
<rect x="400.30" y="671.92" width="5.50" height="22.48" fill="#f77a7a" stroke="#883333" stroke-width="0.6" />
<text x="394.60" y="708.80" font-family='"Liberation Serif", serif' font-size="8" font-weight="bold" font-style="normal" fill="#1a1a1a" stroke="#1a1a1a" stroke-width="0.15" text-anchor="middle"  textLength="4" lengthAdjust="spacingAndGlyphs">3</text>
<rect x="419.35" y="626.97" width="5.50" height="67.43" fill="#8585c8" stroke="#333366" stroke-width="0.6" />
<rect x="424.85" y="643.83" width="5.50" height="50.57" fill="#4a72f0" stroke="#223388" stroke-width="0.6" />
<rect x="430.35" y="673.80" width="5.50" height="20.60" fill="#f77a7a" stroke="#883333" stroke-width="0.6" />
<text x="424.65" y="708.80" font-family='"Liberation Serif", serif' font-size="8" font-weight="bold" font-style="normal" fill="#1a1a1a" stroke="#1a1a1a" stroke-width="0.15" text-anchor="middle"  textLength="4" lengthAdjust="spacingAndGlyphs">4</text>
<rect x="449.40" y="625.10" width="5.50" height="69.30" fill="#8585c8" stroke="#333366" stroke-width="0.6" />
<rect x="454.90" y="643.83" width="5.50" height="50.57" fill="#4a72f0" stroke="#223388" stroke-width="0.6" />
<rect x="460.40" y="671.92" width="5.50" height="22.48" fill="#f77a7a" stroke="#883333" stroke-width="0.6" />
<text x="454.70" y="708.80" font-family='"Liberation Serif", serif' font-size="8" font-weight="bold" font-style="normal" fill="#1a1a1a" stroke="#1a1a1a" stroke-width="0.15" text-anchor="middle"  textLength="4" lengthAdjust="spacingAndGlyphs">5</text>
<rect x="479.45" y="626.97" width="5.50" height="67.43" fill="#8585c8" stroke="#333366" stroke-width="0.6" />
<rect x="484.95" y="643.83" width="5.50" height="50.57" fill="#4a72f0" stroke="#223388" stroke-width="0.6" />
<rect x="490.45" y="673.80" width="5.50" height="20.60" fill="#f77a7a" stroke="#883333" stroke-width="0.6" />
<text x="484.75" y="708.80" font-family='"Liberation Serif", serif' font-size="8" font-weight="bold" font-style="normal" fill="#1a1a1a" stroke="#1a1a1a" stroke-width="0.15" text-anchor="middle"  textLength="4" lengthAdjust="spacingAndGlyphs">6</text>
<text x="382.70" y="718.30" font-family='"Liberation Serif", serif' font-size="8" font-weight="bold" font-style="normal" fill="#1a1a1a" stroke="#1a1a1a" stroke-width="0.15" text-anchor="start"  textLength="52.2" lengthAdjust="spacingAndGlyphs">Running times</text>
<text x="297.8" y="674" font-family='"Liberation Serif", serif' font-size="9" font-weight="bold" fill="#111" transform="rotate(-90 297.8 674)" textLength="58" lengthAdjust="spacingAndGlyphs">H<tspan font-size="6" dy="2">2</tspan><tspan dy="-2"> production</tspan></text>
<rect x="448.40" y="586.00" width="49.60" height="27.00" fill="#fff" stroke="#333" stroke-width="0.6" />
<rect x="450.70" y="589.90" width="3.60" height="3.60" fill="#8585c8" stroke="#333366" stroke-width="0.4" />
<text x="456.00" y="594.30" font-family='"Liberation Serif", serif' font-size="7.2" font-weight="bold" font-style="normal" fill="#1a1a1a" stroke="#1a1a1a" stroke-width="0.15" text-anchor="start"  textLength="41.4" lengthAdjust="spacingAndGlyphs">Cr-TiO2NTs-1</text>
<rect x="450.70" y="598.50" width="3.60" height="3.60" fill="#4a72f0" stroke="#223388" stroke-width="0.4" />
<text x="456.00" y="602.90" font-family='"Liberation Serif", serif' font-size="7.2" font-weight="bold" font-style="normal" fill="#1a1a1a" stroke="#1a1a1a" stroke-width="0.15" text-anchor="start"  textLength="41.4" lengthAdjust="spacingAndGlyphs">Cr-TiO2NTs-2</text>
<rect x="450.70" y="607.20" width="3.60" height="3.60" fill="#f77a7a" stroke="#883333" stroke-width="0.4" />
<text x="456.00" y="611.60" font-family='"Liberation Serif", serif' font-size="7.2" font-weight="bold" font-style="normal" fill="#1a1a1a" stroke="#1a1a1a" stroke-width="0.15" text-anchor="start"  textLength="41.4" lengthAdjust="spacingAndGlyphs">Cr-TiO2NTs-3</text>
</svg></body></html>
